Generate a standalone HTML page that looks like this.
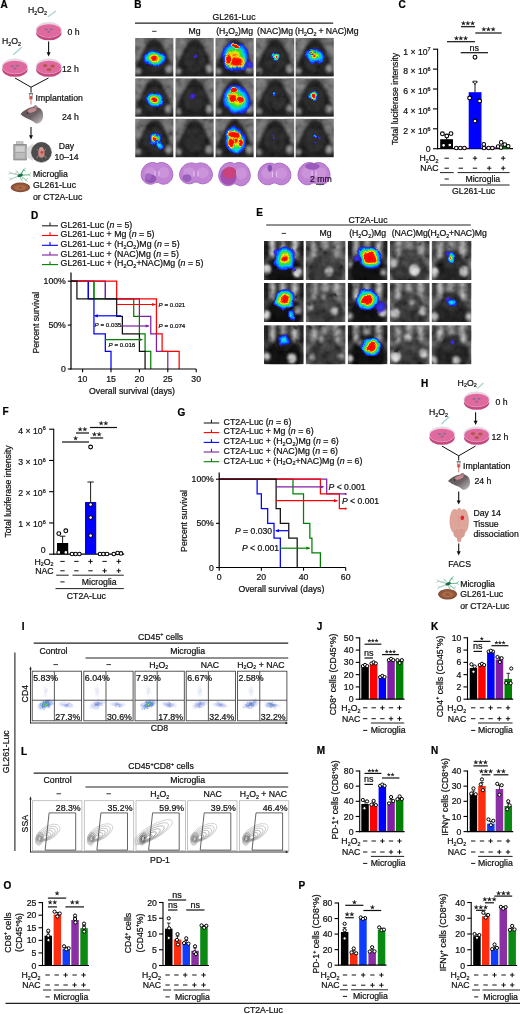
<!DOCTYPE html>
<html lang="en">
<head>
<meta charset="utf-8">
<title>Figure</title>
<style>
html,body{margin:0;padding:0;background:#fff;}
body{width:520px;height:1014px;overflow:hidden;}
svg{display:block;}
svg{font-family:"Liberation Sans",Arial,Helvetica,sans-serif;font-size:8.7px;}
svg text{fill:#111111;stroke:#111111;stroke-width:0.22px;}
</style>
</head>
<body>
<svg width="520" height="1014" viewBox="0 0 520 1014">
<defs>
<linearGradient id="mg1" x1="0" y1="0" x2="1" y2="1"><stop offset="0" stop-color="#5a5054"/><stop offset="0.55" stop-color="#6c6266"/><stop offset="0.85" stop-color="#8a8286" stop-opacity="0.75"/><stop offset="1" stop-color="#b0aaac" stop-opacity="0"/></linearGradient>
<clipPath id="c1"><rect x="135.20" y="38.00" width="38.20" height="38.40"/></clipPath>
<radialGradient id="hb00_0"><stop offset="0.00" stop-color="#ff0000" stop-opacity="1"/><stop offset="0.23" stop-color="#ff1000" stop-opacity="1"/><stop offset="0.37" stop-color="#ffe600" stop-opacity="1"/><stop offset="0.51" stop-color="#30e030" stop-opacity="1"/><stop offset="0.66" stop-color="#00d0ff" stop-opacity="1"/><stop offset="0.88" stop-color="#1428ff" stop-opacity="1"/><stop offset="1.00" stop-color="#3a1a8c" stop-opacity="0"/></radialGradient>
<clipPath id="c2"><rect x="175.50" y="38.00" width="38.20" height="38.40"/></clipPath>
<radialGradient id="hb01_0"><stop offset="0.00" stop-color="#2a3cff" stop-opacity="1"/><stop offset="0.55" stop-color="#3a22d0" stop-opacity="0.9"/><stop offset="1.00" stop-color="#3a1a8c" stop-opacity="0"/></radialGradient>
<clipPath id="c3"><rect x="215.50" y="38.00" width="38.20" height="38.40"/></clipPath>
<radialGradient id="hb02_0"><stop offset="0.00" stop-color="#ff0000" stop-opacity="1"/><stop offset="0.10" stop-color="#ff1000" stop-opacity="1"/><stop offset="0.27" stop-color="#ffe600" stop-opacity="1"/><stop offset="0.44" stop-color="#30e030" stop-opacity="1"/><stop offset="0.62" stop-color="#00d0ff" stop-opacity="1"/><stop offset="0.88" stop-color="#1428ff" stop-opacity="1"/><stop offset="1.00" stop-color="#3a1a8c" stop-opacity="0"/></radialGradient>
<radialGradient id="hb02_1"><stop offset="0.00" stop-color="#ff0000" stop-opacity="1"/><stop offset="0.55" stop-color="#ff1000" stop-opacity="1"/><stop offset="0.78" stop-color="#ffe600" stop-opacity="1"/><stop offset="1.00" stop-color="#60e020" stop-opacity="0"/></radialGradient>
<radialGradient id="hb02_2"><stop offset="0.00" stop-color="#ff0000" stop-opacity="1"/><stop offset="0.55" stop-color="#ff1000" stop-opacity="1"/><stop offset="0.78" stop-color="#ffe600" stop-opacity="1"/><stop offset="1.00" stop-color="#60e020" stop-opacity="0"/></radialGradient>
<radialGradient id="hb02_3"><stop offset="0.00" stop-color="#ff0000" stop-opacity="1"/><stop offset="0.55" stop-color="#ff1000" stop-opacity="1"/><stop offset="0.78" stop-color="#ffe600" stop-opacity="1"/><stop offset="1.00" stop-color="#60e020" stop-opacity="0"/></radialGradient>
<radialGradient id="hb02_4"><stop offset="0.00" stop-color="#2a3cff" stop-opacity="1"/><stop offset="0.55" stop-color="#3a22d0" stop-opacity="0.9"/><stop offset="1.00" stop-color="#3a1a8c" stop-opacity="0"/></radialGradient>
<clipPath id="c4"><rect x="256.00" y="38.00" width="38.20" height="38.40"/></clipPath>
<radialGradient id="hb03_0"><stop offset="0.00" stop-color="#ff0000" stop-opacity="1"/><stop offset="0.25" stop-color="#ff1000" stop-opacity="1"/><stop offset="0.38" stop-color="#ffe600" stop-opacity="1"/><stop offset="0.52" stop-color="#30e030" stop-opacity="1"/><stop offset="0.66" stop-color="#00d0ff" stop-opacity="1"/><stop offset="0.88" stop-color="#1428ff" stop-opacity="1"/><stop offset="1.00" stop-color="#3a1a8c" stop-opacity="0"/></radialGradient>
<clipPath id="c5"><rect x="295.60" y="38.00" width="38.20" height="38.40"/></clipPath>
<radialGradient id="hb04_0"><stop offset="0.00" stop-color="#ff0000" stop-opacity="1"/><stop offset="0.06" stop-color="#ff1000" stop-opacity="1"/><stop offset="0.24" stop-color="#ffe600" stop-opacity="1"/><stop offset="0.42" stop-color="#30e030" stop-opacity="1"/><stop offset="0.60" stop-color="#00d0ff" stop-opacity="1"/><stop offset="0.88" stop-color="#1428ff" stop-opacity="1"/><stop offset="1.00" stop-color="#3a1a8c" stop-opacity="0"/></radialGradient>
<radialGradient id="hb04_1"><stop offset="0.00" stop-color="#ff0000" stop-opacity="1"/><stop offset="0.25" stop-color="#ff1000" stop-opacity="1"/><stop offset="0.38" stop-color="#ffe600" stop-opacity="1"/><stop offset="0.52" stop-color="#30e030" stop-opacity="1"/><stop offset="0.66" stop-color="#00d0ff" stop-opacity="1"/><stop offset="0.88" stop-color="#1428ff" stop-opacity="1"/><stop offset="1.00" stop-color="#3a1a8c" stop-opacity="0"/></radialGradient>
<clipPath id="c6"><rect x="135.20" y="78.30" width="38.20" height="38.40"/></clipPath>
<radialGradient id="hb10_0"><stop offset="0.00" stop-color="#ff0000" stop-opacity="1"/><stop offset="0.25" stop-color="#ff1000" stop-opacity="1"/><stop offset="0.38" stop-color="#ffe600" stop-opacity="1"/><stop offset="0.52" stop-color="#30e030" stop-opacity="1"/><stop offset="0.66" stop-color="#00d0ff" stop-opacity="1"/><stop offset="0.88" stop-color="#1428ff" stop-opacity="1"/><stop offset="1.00" stop-color="#3a1a8c" stop-opacity="0"/></radialGradient>
<clipPath id="c7"><rect x="175.50" y="78.30" width="38.20" height="38.40"/></clipPath>
<radialGradient id="hb11_0"><stop offset="0.00" stop-color="#2a3cff" stop-opacity="1"/><stop offset="0.55" stop-color="#3a22d0" stop-opacity="0.9"/><stop offset="1.00" stop-color="#3a1a8c" stop-opacity="0"/></radialGradient>
<clipPath id="c8"><rect x="215.50" y="78.30" width="38.20" height="38.40"/></clipPath>
<radialGradient id="hb12_0"><stop offset="0.00" stop-color="#ff0000" stop-opacity="1"/><stop offset="0.10" stop-color="#ff1000" stop-opacity="1"/><stop offset="0.27" stop-color="#ffe600" stop-opacity="1"/><stop offset="0.44" stop-color="#30e030" stop-opacity="1"/><stop offset="0.62" stop-color="#00d0ff" stop-opacity="1"/><stop offset="0.88" stop-color="#1428ff" stop-opacity="1"/><stop offset="1.00" stop-color="#3a1a8c" stop-opacity="0"/></radialGradient>
<radialGradient id="hb12_1"><stop offset="0.00" stop-color="#ff0000" stop-opacity="1"/><stop offset="0.55" stop-color="#ff1000" stop-opacity="1"/><stop offset="0.78" stop-color="#ffe600" stop-opacity="1"/><stop offset="1.00" stop-color="#60e020" stop-opacity="0"/></radialGradient>
<radialGradient id="hb12_2"><stop offset="0.00" stop-color="#ff0000" stop-opacity="1"/><stop offset="0.55" stop-color="#ff1000" stop-opacity="1"/><stop offset="0.78" stop-color="#ffe600" stop-opacity="1"/><stop offset="1.00" stop-color="#60e020" stop-opacity="0"/></radialGradient>
<radialGradient id="hb12_3"><stop offset="0.00" stop-color="#ff0000" stop-opacity="1"/><stop offset="0.55" stop-color="#ff1000" stop-opacity="1"/><stop offset="0.78" stop-color="#ffe600" stop-opacity="1"/><stop offset="1.00" stop-color="#60e020" stop-opacity="0"/></radialGradient>
<clipPath id="c9"><rect x="256.00" y="78.30" width="38.20" height="38.40"/></clipPath>
<radialGradient id="hb13_0"><stop offset="0.00" stop-color="#40e8a0" stop-opacity="1"/><stop offset="0.30" stop-color="#00c0ff" stop-opacity="1"/><stop offset="0.70" stop-color="#1428ff" stop-opacity="1"/><stop offset="1.00" stop-color="#3a1a8c" stop-opacity="0"/></radialGradient>
<clipPath id="c10"><rect x="295.60" y="78.30" width="38.20" height="38.40"/></clipPath>
<radialGradient id="hb14_0"><stop offset="0.00" stop-color="#ff0000" stop-opacity="1"/><stop offset="0.30" stop-color="#ff1000" stop-opacity="1"/><stop offset="0.43" stop-color="#ffe600" stop-opacity="1"/><stop offset="0.55" stop-color="#30e030" stop-opacity="1"/><stop offset="0.68" stop-color="#00d0ff" stop-opacity="1"/><stop offset="0.88" stop-color="#1428ff" stop-opacity="1"/><stop offset="1.00" stop-color="#3a1a8c" stop-opacity="0"/></radialGradient>
<clipPath id="c11"><rect x="135.20" y="118.80" width="38.20" height="38.40"/></clipPath>
<radialGradient id="hb20_0"><stop offset="0.00" stop-color="#ff0000" stop-opacity="1"/><stop offset="0.30" stop-color="#ff1000" stop-opacity="1"/><stop offset="0.43" stop-color="#ffe600" stop-opacity="1"/><stop offset="0.55" stop-color="#30e030" stop-opacity="1"/><stop offset="0.68" stop-color="#00d0ff" stop-opacity="1"/><stop offset="0.88" stop-color="#1428ff" stop-opacity="1"/><stop offset="1.00" stop-color="#3a1a8c" stop-opacity="0"/></radialGradient>
<radialGradient id="hb20_1"><stop offset="0.00" stop-color="#40e8a0" stop-opacity="1"/><stop offset="0.30" stop-color="#00c0ff" stop-opacity="1"/><stop offset="0.70" stop-color="#1428ff" stop-opacity="1"/><stop offset="1.00" stop-color="#3a1a8c" stop-opacity="0"/></radialGradient>
<clipPath id="c12"><rect x="175.50" y="118.80" width="38.20" height="38.40"/></clipPath>
<clipPath id="c13"><rect x="215.50" y="118.80" width="38.20" height="38.40"/></clipPath>
<radialGradient id="hb22_0"><stop offset="0.00" stop-color="#ff0000" stop-opacity="1"/><stop offset="0.10" stop-color="#ff1000" stop-opacity="1"/><stop offset="0.27" stop-color="#ffe600" stop-opacity="1"/><stop offset="0.44" stop-color="#30e030" stop-opacity="1"/><stop offset="0.62" stop-color="#00d0ff" stop-opacity="1"/><stop offset="0.88" stop-color="#1428ff" stop-opacity="1"/><stop offset="1.00" stop-color="#3a1a8c" stop-opacity="0"/></radialGradient>
<radialGradient id="hb22_1"><stop offset="0.00" stop-color="#ff0000" stop-opacity="1"/><stop offset="0.55" stop-color="#ff1000" stop-opacity="1"/><stop offset="0.78" stop-color="#ffe600" stop-opacity="1"/><stop offset="1.00" stop-color="#60e020" stop-opacity="0"/></radialGradient>
<radialGradient id="hb22_2"><stop offset="0.00" stop-color="#ff0000" stop-opacity="1"/><stop offset="0.55" stop-color="#ff1000" stop-opacity="1"/><stop offset="0.78" stop-color="#ffe600" stop-opacity="1"/><stop offset="1.00" stop-color="#60e020" stop-opacity="0"/></radialGradient>
<radialGradient id="hb22_3"><stop offset="0.00" stop-color="#ff0000" stop-opacity="1"/><stop offset="0.55" stop-color="#ff1000" stop-opacity="1"/><stop offset="0.78" stop-color="#ffe600" stop-opacity="1"/><stop offset="1.00" stop-color="#60e020" stop-opacity="0"/></radialGradient>
<clipPath id="c14"><rect x="256.00" y="118.80" width="38.20" height="38.40"/></clipPath>
<radialGradient id="hb23_0"><stop offset="0.00" stop-color="#2a3cff" stop-opacity="1"/><stop offset="0.55" stop-color="#3a22d0" stop-opacity="0.9"/><stop offset="1.00" stop-color="#3a1a8c" stop-opacity="0"/></radialGradient>
<clipPath id="c15"><rect x="295.60" y="118.80" width="38.20" height="38.40"/></clipPath>
<radialGradient id="hb24_0"><stop offset="0.00" stop-color="#40e8a0" stop-opacity="1"/><stop offset="0.30" stop-color="#00c0ff" stop-opacity="1"/><stop offset="0.70" stop-color="#1428ff" stop-opacity="1"/><stop offset="1.00" stop-color="#3a1a8c" stop-opacity="0"/></radialGradient>
<radialGradient id="hb24_1"><stop offset="0.00" stop-color="#2a3cff" stop-opacity="1"/><stop offset="0.55" stop-color="#3a22d0" stop-opacity="0.9"/><stop offset="1.00" stop-color="#3a1a8c" stop-opacity="0"/></radialGradient>
<radialGradient id="hb24_2"><stop offset="0.00" stop-color="#2a3cff" stop-opacity="1"/><stop offset="0.55" stop-color="#3a22d0" stop-opacity="0.9"/><stop offset="1.00" stop-color="#3a1a8c" stop-opacity="0"/></radialGradient>
<clipPath id="c16"><rect x="264.00" y="241.00" width="39.70" height="39.00"/></clipPath>
<radialGradient id="he00_0"><stop offset="0.00" stop-color="#ff0000" stop-opacity="1"/><stop offset="0.21" stop-color="#ff1000" stop-opacity="1"/><stop offset="0.35" stop-color="#ffe600" stop-opacity="1"/><stop offset="0.50" stop-color="#30e030" stop-opacity="1"/><stop offset="0.65" stop-color="#00d0ff" stop-opacity="1"/><stop offset="0.88" stop-color="#1428ff" stop-opacity="1"/><stop offset="1.00" stop-color="#3a1a8c" stop-opacity="0"/></radialGradient>
<radialGradient id="he00_1"><stop offset="0.00" stop-color="#2a3cff" stop-opacity="1"/><stop offset="0.55" stop-color="#3a22d0" stop-opacity="0.9"/><stop offset="1.00" stop-color="#3a1a8c" stop-opacity="0"/></radialGradient>
<clipPath id="c17"><rect x="305.80" y="241.00" width="39.70" height="39.00"/></clipPath>
<clipPath id="c18"><rect x="347.80" y="241.00" width="39.70" height="39.00"/></clipPath>
<radialGradient id="he02_0"><stop offset="0.00" stop-color="#ff0000" stop-opacity="1"/><stop offset="0.41" stop-color="#ff1000" stop-opacity="1"/><stop offset="0.51" stop-color="#ffe600" stop-opacity="1"/><stop offset="0.61" stop-color="#30e030" stop-opacity="1"/><stop offset="0.72" stop-color="#00d0ff" stop-opacity="1"/><stop offset="0.88" stop-color="#1428ff" stop-opacity="1"/><stop offset="1.00" stop-color="#3a1a8c" stop-opacity="0"/></radialGradient>
<radialGradient id="he02_1"><stop offset="0.00" stop-color="#2a3cff" stop-opacity="1"/><stop offset="0.55" stop-color="#3a22d0" stop-opacity="0.9"/><stop offset="1.00" stop-color="#3a1a8c" stop-opacity="0"/></radialGradient>
<clipPath id="c19"><rect x="389.90" y="241.00" width="39.70" height="39.00"/></clipPath>
<clipPath id="c20"><rect x="431.70" y="241.00" width="39.70" height="39.00"/></clipPath>
<radialGradient id="he04_0"><stop offset="0.00" stop-color="#ff0000" stop-opacity="1"/><stop offset="0.04" stop-color="#ff1000" stop-opacity="1"/><stop offset="0.22" stop-color="#ffe600" stop-opacity="1"/><stop offset="0.41" stop-color="#30e030" stop-opacity="1"/><stop offset="0.60" stop-color="#00d0ff" stop-opacity="1"/><stop offset="0.88" stop-color="#1428ff" stop-opacity="1"/><stop offset="1.00" stop-color="#3a1a8c" stop-opacity="0"/></radialGradient>
<radialGradient id="he04_1"><stop offset="0.00" stop-color="#2a3cff" stop-opacity="1"/><stop offset="0.55" stop-color="#3a22d0" stop-opacity="0.9"/><stop offset="1.00" stop-color="#3a1a8c" stop-opacity="0"/></radialGradient>
<clipPath id="c21"><rect x="264.00" y="283.00" width="39.70" height="39.00"/></clipPath>
<radialGradient id="he10_0"><stop offset="0.00" stop-color="#ff0000" stop-opacity="1"/><stop offset="0.29" stop-color="#ff1000" stop-opacity="1"/><stop offset="0.42" stop-color="#ffe600" stop-opacity="1"/><stop offset="0.55" stop-color="#30e030" stop-opacity="1"/><stop offset="0.68" stop-color="#00d0ff" stop-opacity="1"/><stop offset="0.88" stop-color="#1428ff" stop-opacity="1"/><stop offset="1.00" stop-color="#3a1a8c" stop-opacity="0"/></radialGradient>
<radialGradient id="he10_1"><stop offset="0.00" stop-color="#40e8a0" stop-opacity="1"/><stop offset="0.30" stop-color="#00c0ff" stop-opacity="1"/><stop offset="0.70" stop-color="#1428ff" stop-opacity="1"/><stop offset="1.00" stop-color="#3a1a8c" stop-opacity="0"/></radialGradient>
<clipPath id="c22"><rect x="305.80" y="283.00" width="39.70" height="39.00"/></clipPath>
<clipPath id="c23"><rect x="347.80" y="283.00" width="39.70" height="39.00"/></clipPath>
<radialGradient id="he12_0"><stop offset="0.00" stop-color="#ff0000" stop-opacity="1"/><stop offset="0.41" stop-color="#ff1000" stop-opacity="1"/><stop offset="0.51" stop-color="#ffe600" stop-opacity="1"/><stop offset="0.61" stop-color="#30e030" stop-opacity="1"/><stop offset="0.72" stop-color="#00d0ff" stop-opacity="1"/><stop offset="0.88" stop-color="#1428ff" stop-opacity="1"/><stop offset="1.00" stop-color="#3a1a8c" stop-opacity="0"/></radialGradient>
<radialGradient id="he12_1"><stop offset="0.00" stop-color="#2a3cff" stop-opacity="1"/><stop offset="0.55" stop-color="#3a22d0" stop-opacity="0.9"/><stop offset="1.00" stop-color="#3a1a8c" stop-opacity="0"/></radialGradient>
<clipPath id="c24"><rect x="389.90" y="283.00" width="39.70" height="39.00"/></clipPath>
<clipPath id="c25"><rect x="431.70" y="283.00" width="39.70" height="39.00"/></clipPath>
<radialGradient id="he14_0"><stop offset="0.00" stop-color="#40e8a0" stop-opacity="1"/><stop offset="0.30" stop-color="#00c0ff" stop-opacity="1"/><stop offset="0.70" stop-color="#1428ff" stop-opacity="1"/><stop offset="1.00" stop-color="#3a1a8c" stop-opacity="0"/></radialGradient>
<radialGradient id="he14_1"><stop offset="0.00" stop-color="#2a3cff" stop-opacity="1"/><stop offset="0.55" stop-color="#3a22d0" stop-opacity="0.9"/><stop offset="1.00" stop-color="#3a1a8c" stop-opacity="0"/></radialGradient>
<clipPath id="c26"><rect x="264.00" y="325.20" width="39.70" height="39.00"/></clipPath>
<radialGradient id="he20_0"><stop offset="0.00" stop-color="#40e8a0" stop-opacity="1"/><stop offset="0.30" stop-color="#00c0ff" stop-opacity="1"/><stop offset="0.70" stop-color="#1428ff" stop-opacity="1"/><stop offset="1.00" stop-color="#3a1a8c" stop-opacity="0"/></radialGradient>
<clipPath id="c27"><rect x="305.80" y="325.20" width="39.70" height="39.00"/></clipPath>
<clipPath id="c28"><rect x="347.80" y="325.20" width="39.70" height="39.00"/></clipPath>
<radialGradient id="he22_0"><stop offset="0.00" stop-color="#ff0000" stop-opacity="1"/><stop offset="0.41" stop-color="#ff1000" stop-opacity="1"/><stop offset="0.51" stop-color="#ffe600" stop-opacity="1"/><stop offset="0.61" stop-color="#30e030" stop-opacity="1"/><stop offset="0.72" stop-color="#00d0ff" stop-opacity="1"/><stop offset="0.88" stop-color="#1428ff" stop-opacity="1"/><stop offset="1.00" stop-color="#3a1a8c" stop-opacity="0"/></radialGradient>
<clipPath id="c29"><rect x="389.90" y="325.20" width="39.70" height="39.00"/></clipPath>
<clipPath id="c30"><rect x="431.70" y="325.20" width="39.70" height="39.00"/></clipPath>
<radialGradient id="he24_0"><stop offset="0.00" stop-color="#2a3cff" stop-opacity="1"/><stop offset="0.55" stop-color="#3a22d0" stop-opacity="0.9"/><stop offset="1.00" stop-color="#3a1a8c" stop-opacity="0"/></radialGradient>
<linearGradient id="mg2" x1="0" y1="0" x2="1" y2="1"><stop offset="0" stop-color="#5a5054"/><stop offset="0.55" stop-color="#6c6266"/><stop offset="0.85" stop-color="#8a8286" stop-opacity="0.75"/><stop offset="1" stop-color="#b0aaac" stop-opacity="0"/></linearGradient>
<radialGradient id="cli0a"><stop offset="0.00" stop-color="#d8e830" stop-opacity="1.00"/><stop offset="0.18" stop-color="#58c850" stop-opacity="1.00"/><stop offset="0.38" stop-color="#4f7fd8" stop-opacity="0.90"/><stop offset="0.70" stop-color="#8090e0" stop-opacity="0.45"/><stop offset="1.00" stop-color="#a8b4ee" stop-opacity="0.00"/></radialGradient>
<radialGradient id="cli0b"><stop offset="0.00" stop-color="#4a63c8" stop-opacity="0.72"/><stop offset="0.45" stop-color="#8090e0" stop-opacity="0.41"/><stop offset="1.00" stop-color="#b0baf0" stop-opacity="0.00"/></radialGradient>
<radialGradient id="cli0c"><stop offset="0.00" stop-color="#4a63c8" stop-opacity="0.20"/><stop offset="0.45" stop-color="#8090e0" stop-opacity="0.11"/><stop offset="1.00" stop-color="#b0baf0" stop-opacity="0.00"/></radialGradient>
<radialGradient id="cli1a"><stop offset="0.00" stop-color="#4a63c8" stop-opacity="0.80"/><stop offset="0.45" stop-color="#8090e0" stop-opacity="0.45"/><stop offset="1.00" stop-color="#b0baf0" stop-opacity="0.00"/></radialGradient>
<radialGradient id="cli1b"><stop offset="0.00" stop-color="#4a63c8" stop-opacity="0.72"/><stop offset="0.45" stop-color="#8090e0" stop-opacity="0.41"/><stop offset="1.00" stop-color="#b0baf0" stop-opacity="0.00"/></radialGradient>
<radialGradient id="cli1c"><stop offset="0.00" stop-color="#4a63c8" stop-opacity="0.20"/><stop offset="0.45" stop-color="#8090e0" stop-opacity="0.11"/><stop offset="1.00" stop-color="#b0baf0" stop-opacity="0.00"/></radialGradient>
<radialGradient id="cli2a"><stop offset="0.00" stop-color="#d8e830" stop-opacity="1.00"/><stop offset="0.18" stop-color="#58c850" stop-opacity="1.00"/><stop offset="0.38" stop-color="#4f7fd8" stop-opacity="0.90"/><stop offset="0.70" stop-color="#8090e0" stop-opacity="0.45"/><stop offset="1.00" stop-color="#a8b4ee" stop-opacity="0.00"/></radialGradient>
<radialGradient id="cli2b"><stop offset="0.00" stop-color="#4a63c8" stop-opacity="0.72"/><stop offset="0.45" stop-color="#8090e0" stop-opacity="0.41"/><stop offset="1.00" stop-color="#b0baf0" stop-opacity="0.00"/></radialGradient>
<radialGradient id="cli2c"><stop offset="0.00" stop-color="#4a63c8" stop-opacity="0.20"/><stop offset="0.45" stop-color="#8090e0" stop-opacity="0.11"/><stop offset="1.00" stop-color="#b0baf0" stop-opacity="0.00"/></radialGradient>
<radialGradient id="cli3a"><stop offset="0.00" stop-color="#4a63c8" stop-opacity="0.80"/><stop offset="0.45" stop-color="#8090e0" stop-opacity="0.45"/><stop offset="1.00" stop-color="#b0baf0" stop-opacity="0.00"/></radialGradient>
<radialGradient id="cli3b"><stop offset="0.00" stop-color="#4a63c8" stop-opacity="0.72"/><stop offset="0.45" stop-color="#8090e0" stop-opacity="0.41"/><stop offset="1.00" stop-color="#b0baf0" stop-opacity="0.00"/></radialGradient>
<radialGradient id="cli3c"><stop offset="0.00" stop-color="#4a63c8" stop-opacity="0.20"/><stop offset="0.45" stop-color="#8090e0" stop-opacity="0.11"/><stop offset="1.00" stop-color="#b0baf0" stop-opacity="0.00"/></radialGradient>
<radialGradient id="cli4a"><stop offset="0.00" stop-color="#58b078" stop-opacity="0.95"/><stop offset="0.22" stop-color="#4a6fd0" stop-opacity="0.85"/><stop offset="0.60" stop-color="#8090e0" stop-opacity="0.45"/><stop offset="1.00" stop-color="#a8b4ee" stop-opacity="0.00"/></radialGradient>
<radialGradient id="cli4b"><stop offset="0.00" stop-color="#58b078" stop-opacity="0.85"/><stop offset="0.22" stop-color="#4a6fd0" stop-opacity="0.77"/><stop offset="0.60" stop-color="#8090e0" stop-opacity="0.41"/><stop offset="1.00" stop-color="#a8b4ee" stop-opacity="0.00"/></radialGradient>
<radialGradient id="cli4c"><stop offset="0.00" stop-color="#4a63c8" stop-opacity="0.20"/><stop offset="0.45" stop-color="#8090e0" stop-opacity="0.11"/><stop offset="1.00" stop-color="#b0baf0" stop-opacity="0.00"/></radialGradient>
<filter id="hz" x="-30%" y="-30%" width="160%" height="160%"><feTurbulence type="fractalNoise" baseFrequency="0.11" numOctaves="2" seed="4" result="n"/><feDisplacementMap in="SourceGraphic" in2="n" scale="5.5" xChannelSelector="R" yChannelSelector="G"/><feGaussianBlur stdDeviation="0.45"/></filter>
<filter id="cz" x="-10%" y="-10%" width="120%" height="120%"><feTurbulence type="fractalNoise" baseFrequency="0.35" numOctaves="2" seed="9" result="n"/><feDisplacementMap in="SourceGraphic" in2="n" scale="4" xChannelSelector="R" yChannelSelector="G"/></filter>
<filter id="grain" x="0" y="0" width="100%" height="100%"><feTurbulence type="fractalNoise" baseFrequency="0.13" numOctaves="2" seed="11"/><feColorMatrix type="matrix" values="1.5 0 0 0 -0.25  1.5 0 0 0 -0.25  1.5 0 0 0 -0.25  0 0 0 0 1"/></filter>
<filter id="bl1" x="-20%" y="-20%" width="140%" height="140%"><feGaussianBlur stdDeviation="0.7"/></filter>
<filter id="bl2" x="-20%" y="-20%" width="140%" height="140%"><feGaussianBlur stdDeviation="1.6"/></filter>
</defs>
<rect width="520" height="1014" fill="#ffffff"/>
<text x="0.50" y="8.00" font-weight="bold" font-size="10.00" style="fill:#000;stroke:#000">A</text>
<text x="28.00" y="13.41">H<tspan dy="1.91" font-size="5.39">2</tspan><tspan dy="-1.91">O</tspan><tspan dy="1.91" font-size="5.39">2</tspan></text>
<line x1="48.30" y1="16.60" x2="55.50" y2="11.20" stroke="#a8d3d3" stroke-width="1.30" stroke-linecap="round"/>
<ellipse cx="48.80" cy="32.90" rx="12.70" ry="7.40" fill="#c7467f"/>
<ellipse cx="48.80" cy="29.80" rx="12.90" ry="7.50" fill="#f3d3e2" stroke="#cfe6ea" stroke-width="0.60"/>
<ellipse cx="48.80" cy="30.70" rx="12.20" ry="6.50" fill="#e0699d"/>
<ellipse cx="46.20" cy="29.50" rx="1.60" ry="1.00" fill="#8d6f95"/>
<ellipse cx="51.20" cy="29.30" rx="1.60" ry="1.00" fill="#8d6f95"/>
<ellipse cx="48.80" cy="31.90" rx="1.60" ry="1.00" fill="#8d6f95"/>
<text x="67.50" y="35.41">0 h</text>
<line x1="48.60" y1="41.50" x2="48.60" y2="53.50" stroke="#111" stroke-width="1.10"/>
<path d="M46.60 52.30 L50.60 52.30 L48.60 56.50 Z" fill="#111"/>
<text x="2.00" y="44.41">H<tspan dy="1.91" font-size="5.39">2</tspan><tspan dy="-1.91">O</tspan><tspan dy="1.91" font-size="5.39">2</tspan></text>
<line x1="13.60" y1="54.60" x2="21.50" y2="47.60" stroke="#a8d3d3" stroke-width="1.30" stroke-linecap="round"/>
<ellipse cx="14.90" cy="69.40" rx="12.70" ry="7.40" fill="#c7467f"/>
<ellipse cx="14.90" cy="66.30" rx="12.90" ry="7.50" fill="#f3d3e2" stroke="#cfe6ea" stroke-width="0.60"/>
<ellipse cx="14.90" cy="67.20" rx="12.20" ry="6.50" fill="#e0699d"/>
<ellipse cx="12.30" cy="66.00" rx="1.60" ry="1.00" fill="#8d6f95"/>
<ellipse cx="17.30" cy="65.80" rx="1.60" ry="1.00" fill="#8d6f95"/>
<ellipse cx="14.90" cy="68.40" rx="1.60" ry="1.00" fill="#8d6f95"/>
<ellipse cx="48.80" cy="69.40" rx="12.70" ry="7.40" fill="#c7467f"/>
<ellipse cx="48.80" cy="66.30" rx="12.90" ry="7.50" fill="#f3d3e2" stroke="#cfe6ea" stroke-width="0.60"/>
<ellipse cx="48.80" cy="67.20" rx="12.20" ry="6.50" fill="#e0699d"/>
<ellipse cx="45.20" cy="65.60" rx="2.30" ry="1.60" fill="#b4584f"/>
<ellipse cx="52.60" cy="66.00" rx="2.30" ry="1.60" fill="#b4584f"/>
<ellipse cx="49.00" cy="69.60" rx="2.30" ry="1.60" fill="#b4584f"/>
<text x="62.00" y="71.71">12 h</text>
<path d="M15 78 L31 87.2 L48.5 78 M31 87.2 L31 92" fill="none" stroke="#111" stroke-width="1.00"/>
<line x1="31.00" y1="91.50" x2="31.00" y2="94.00" stroke="#555" stroke-width="0.80"/>
<rect x="29.70" y="93.70" width="2.60" height="5.20" fill="#f1e6e6" stroke="#666" stroke-width="0.50"/>
<rect x="30.00" y="96.10" width="2.00" height="2.80" fill="#d9483f"/>
<line x1="28.80" y1="93.70" x2="33.20" y2="93.70" stroke="#555" stroke-width="0.70"/>
<line x1="31.00" y1="98.90" x2="31.00" y2="104.50" stroke="#b5443a" stroke-width="0.70"/>
<text x="35.50" y="100.81">Implantation</text>
<path d="M20.60 114.13 C23.36 110.78 28.65 107.43 33.25 107.06 C34.40 104.83 37.16 105.20 37.62 107.43 C41.30 107.99 43.60 111.71 43.14 116.73 C42.45 121.94 39.00 124.17 35.78 123.43 C32.10 119.71 24.74 118.22 20.60 114.13 Z" fill="url(#mg1)"/>
<ellipse cx="32.10" cy="110.22" rx="4.60" ry="2.05" fill="#c58a90" transform="rotate(-18 32.10 110.22)"/>
<ellipse cx="35.78" cy="107.06" rx="1.61" ry="1.67" fill="#a88084"/>
<circle cx="27.50" cy="113.01" r="0.70" fill="#2a2226" stroke="#2a2226" stroke-width="0.10"/>
<text x="62.00" y="119.51">24 h</text>
<line x1="31.00" y1="127.00" x2="31.00" y2="136.50" stroke="#111" stroke-width="1.10"/>
<path d="M29.00 135.30 L33.00 135.30 L31.00 139.50 Z" fill="#111"/>
<rect x="16.60" y="141.80" width="6.40" height="3.00" fill="#c9c9c9" stroke="#8c8c8c" stroke-width="0.50"/>
<rect x="13.80" y="144.40" width="12.60" height="15.60" fill="#a6a6a6" stroke="#777" stroke-width="0.60"/>
<rect x="15.40" y="146.20" width="9.40" height="5.60" fill="#cfcfcf"/>
<rect x="15.40" y="153.00" width="9.40" height="5.40" fill="#bcbcbc"/>
<path d="M26.6 148 L33 143.6 L33 161 L26.6 157 Z" fill="#dcdcdc"/>
<circle cx="41.40" cy="152.30" r="10.00" fill="#4d4d4d" stroke="#3c3c3c" stroke-width="0.50"/>
<ellipse cx="41.40" cy="153.00" rx="3.20" ry="4.80" fill="#c98a86"/>
<ellipse cx="41.40" cy="148.80" rx="2.20" ry="1.90" fill="#d39a96"/>
<path d="M38.4 155.5 L36.6 158.2 M44.4 155.5 L46.2 158.2 M38.6 150.8 L36.8 149 M44.2 150.8 L46 149" fill="none" stroke="#c98a86" stroke-width="0.80"/>
<ellipse cx="41.90" cy="152.40" rx="1.30" ry="1.30" fill="#d63a32"/>
<text x="66.50" y="149.41" text-anchor="middle">Day</text>
<text x="66.50" y="159.71" text-anchor="middle">10–14</text>
<line x1="20.20" y1="175.40" x2="10.40" y2="172.80" stroke="#b4cdc0" stroke-width="1.30" stroke-linecap="round"/>
<line x1="10.40" y1="172.80" x2="8.80" y2="171.20" stroke="#b4cdc0" stroke-width="0.91" stroke-linecap="round"/>
<line x1="10.40" y1="172.80" x2="8.60" y2="174.10" stroke="#b4cdc0" stroke-width="0.91" stroke-linecap="round"/>
<line x1="20.20" y1="175.40" x2="11.20" y2="179.00" stroke="#b9d0c5" stroke-width="1.30" stroke-linecap="round"/>
<line x1="11.20" y1="179.00" x2="9.60" y2="177.40" stroke="#b9d0c5" stroke-width="0.91" stroke-linecap="round"/>
<line x1="11.20" y1="179.00" x2="9.40" y2="180.30" stroke="#b9d0c5" stroke-width="0.91" stroke-linecap="round"/>
<line x1="20.20" y1="175.40" x2="23.60" y2="169.80" stroke="#58b285" stroke-width="1.10" stroke-linecap="round"/>
<line x1="23.60" y1="169.80" x2="25.40" y2="168.20" stroke="#58b285" stroke-width="0.77" stroke-linecap="round"/>
<line x1="23.60" y1="169.80" x2="25.20" y2="171.10" stroke="#58b285" stroke-width="0.77" stroke-linecap="round"/>
<line x1="20.20" y1="175.40" x2="28.80" y2="174.80" stroke="#6cbb93" stroke-width="1.10" stroke-linecap="round"/>
<line x1="28.80" y1="174.80" x2="30.60" y2="173.20" stroke="#6cbb93" stroke-width="0.77" stroke-linecap="round"/>
<line x1="28.80" y1="174.80" x2="30.40" y2="176.10" stroke="#6cbb93" stroke-width="0.77" stroke-linecap="round"/>
<line x1="20.20" y1="175.40" x2="25.80" y2="180.00" stroke="#7fc4a2" stroke-width="1.00" stroke-linecap="round"/>
<line x1="25.80" y1="180.00" x2="27.60" y2="178.40" stroke="#7fc4a2" stroke-width="0.70" stroke-linecap="round"/>
<line x1="25.80" y1="180.00" x2="27.40" y2="181.30" stroke="#7fc4a2" stroke-width="0.70" stroke-linecap="round"/>
<line x1="20.20" y1="175.40" x2="17.20" y2="171.80" stroke="#9cc7b0" stroke-width="0.90" stroke-linecap="round"/>
<line x1="17.20" y1="171.80" x2="15.60" y2="170.20" stroke="#9cc7b0" stroke-width="0.63" stroke-linecap="round"/>
<line x1="17.20" y1="171.80" x2="15.40" y2="173.10" stroke="#9cc7b0" stroke-width="0.63" stroke-linecap="round"/>
<line x1="20.20" y1="175.40" x2="21.20" y2="179.80" stroke="#8cc6a6" stroke-width="0.90" stroke-linecap="round"/>
<line x1="21.20" y1="179.80" x2="23.00" y2="178.20" stroke="#8cc6a6" stroke-width="0.63" stroke-linecap="round"/>
<line x1="21.20" y1="179.80" x2="22.80" y2="181.10" stroke="#8cc6a6" stroke-width="0.63" stroke-linecap="round"/>
<ellipse cx="20.20" cy="175.40" rx="2.80" ry="1.50" fill="#1f6b47" transform="rotate(-20 20.20 175.40)"/>
<text x="33.00" y="177.11">Microglia</text>
<ellipse cx="20.40" cy="187.40" rx="9.70" ry="4.80" fill="#7d4c35"/>
<ellipse cx="20.40" cy="187.40" rx="8.15" ry="3.84" fill="#94583c"/>
<ellipse cx="20.40" cy="187.60" rx="5.82" ry="2.64" fill="#a96a46"/>
<ellipse cx="20.40" cy="187.60" rx="2.13" ry="1.20" fill="#94583c"/>
<text x="33.00" y="188.41">GL261-Luc</text>
<text x="33.00" y="199.51">or CT2A-Luc</text>
<text x="134.20" y="7.80" font-weight="bold" font-size="10.00" style="fill:#000;stroke:#000">B</text>
<text x="234.00" y="19.91" text-anchor="middle">GL261-Luc</text>
<line x1="135.00" y1="23.20" x2="333.20" y2="23.20" stroke="#222" stroke-width="1.20"/>
<line x1="152.10" y1="31.30" x2="156.50" y2="31.30" stroke="#222" stroke-width="0.90"/>
<text x="194.60" y="34.11" text-anchor="middle">Mg</text>
<text x="234.60" y="34.11" text-anchor="middle">(H<tspan dy="1.91" font-size="5.39">2</tspan><tspan dy="-1.91">O</tspan><tspan dy="1.91" font-size="5.39">2</tspan><tspan dy="-1.91">)Mg</tspan></text>
<text x="275.10" y="34.11" text-anchor="middle">(NAC)Mg</text>
<text x="295.00" y="34.11" letter-spacing="-0.12">(H<tspan dy="1.91" font-size="5.39">2</tspan><tspan dy="-1.91">O</tspan><tspan dy="1.91" font-size="5.39">2</tspan><tspan dy="-1.91"> + NAC)Mg</tspan></text>
<g clip-path="url(#c1)">
<rect x="135.20" y="38.00" width="38.20" height="38.40" fill="#525252"/>
<g filter="url(#bl2)">
<ellipse cx="138.26" cy="45.68" rx="6.88" ry="13.44" fill="#666666"/>
<ellipse cx="171.11" cy="47.60" rx="6.88" ry="15.36" fill="#626262"/>
<path d="M154.30 38.77 C161.94 40.30 170.34 55.28 174.93 78.32 L174.93 78.32 L133.67 78.32 C138.26 55.28 146.66 40.30 154.30 38.77 Z" fill="#1e1e1e"/>
<ellipse cx="154.30" cy="59.12" rx="10.31" ry="11.52" fill="#282828"/>
<ellipse cx="168.82" cy="68.72" rx="2.87" ry="3.84" fill="#808080"/>
<ellipse cx="138.26" cy="71.02" rx="2.29" ry="2.69" fill="#7c7c7c"/>
</g>
<rect x="135.20" y="38.00" width="38.20" height="38.40" filter="url(#grain)" style="mix-blend-mode:overlay" opacity="0.35"/>
<g filter="url(#hz)">
<ellipse cx="154.30" cy="58.35" rx="11.84" ry="8.83" fill="url(#hb00_0)"/>
</g>
</g>
<g clip-path="url(#c2)">
<rect x="175.50" y="38.00" width="38.20" height="38.40" fill="#525252"/>
<g filter="url(#bl2)">
<ellipse cx="178.56" cy="45.68" rx="6.88" ry="13.44" fill="#666666"/>
<ellipse cx="211.41" cy="47.60" rx="6.88" ry="15.36" fill="#626262"/>
<path d="M194.60 38.77 C202.24 40.30 210.64 55.28 215.23 78.32 L215.23 78.32 L173.97 78.32 C178.56 55.28 186.96 40.30 194.60 38.77 Z" fill="#1e1e1e"/>
<ellipse cx="194.60" cy="59.12" rx="10.31" ry="11.52" fill="#282828"/>
<ellipse cx="209.12" cy="68.72" rx="2.87" ry="3.84" fill="#808080"/>
<ellipse cx="178.56" cy="71.02" rx="2.29" ry="2.69" fill="#7c7c7c"/>
</g>
<rect x="175.50" y="38.00" width="38.20" height="38.40" filter="url(#grain)" style="mix-blend-mode:overlay" opacity="0.35"/>
<g filter="url(#hz)">
<ellipse cx="195.36" cy="56.05" rx="2.67" ry="2.69" fill="url(#hb01_0)"/>
</g>
</g>
<g clip-path="url(#c3)">
<rect x="215.50" y="38.00" width="38.20" height="38.40" fill="#525252"/>
<g filter="url(#bl2)">
<ellipse cx="218.56" cy="45.68" rx="6.88" ry="13.44" fill="#666666"/>
<ellipse cx="251.41" cy="47.60" rx="6.88" ry="15.36" fill="#626262"/>
<path d="M234.60 38.77 C242.24 40.30 250.64 55.28 255.23 78.32 L255.23 78.32 L213.97 78.32 C218.56 55.28 226.96 40.30 234.60 38.77 Z" fill="#1e1e1e"/>
<ellipse cx="234.60" cy="59.12" rx="10.31" ry="11.52" fill="#282828"/>
<ellipse cx="249.12" cy="68.72" rx="2.87" ry="3.84" fill="#808080"/>
<ellipse cx="218.56" cy="71.02" rx="2.29" ry="2.69" fill="#7c7c7c"/>
</g>
<rect x="215.50" y="38.00" width="38.20" height="38.40" filter="url(#grain)" style="mix-blend-mode:overlay" opacity="0.35"/>
<g filter="url(#hz)">
<ellipse cx="235.36" cy="57.20" rx="14.52" ry="15.36" fill="url(#hb02_0)" transform="rotate(-20 235.36 57.20)"/>
<ellipse cx="236.89" cy="61.81" rx="9.93" ry="7.30" fill="url(#hb02_1)" transform="rotate(-15 236.89 61.81)"/>
<ellipse cx="228.11" cy="59.12" rx="4.58" ry="6.53" fill="url(#hb02_2)"/>
<ellipse cx="235.36" cy="46.45" rx="3.82" ry="2.69" fill="url(#hb02_3)"/>
<ellipse cx="249.12" cy="63.34" rx="4.58" ry="5.38" fill="url(#hb02_4)"/>
</g>
</g>
<g clip-path="url(#c4)">
<rect x="256.00" y="38.00" width="38.20" height="38.40" fill="#525252"/>
<g filter="url(#bl2)">
<ellipse cx="259.06" cy="45.68" rx="6.88" ry="13.44" fill="#666666"/>
<ellipse cx="291.91" cy="47.60" rx="6.88" ry="15.36" fill="#626262"/>
<path d="M275.10 38.77 C282.74 40.30 291.14 55.28 295.73 78.32 L295.73 78.32 L254.47 78.32 C259.06 55.28 267.46 40.30 275.10 38.77 Z" fill="#1e1e1e"/>
<ellipse cx="275.10" cy="59.12" rx="10.31" ry="11.52" fill="#282828"/>
<ellipse cx="289.62" cy="68.72" rx="2.87" ry="3.84" fill="#808080"/>
<ellipse cx="259.06" cy="71.02" rx="2.29" ry="2.69" fill="#7c7c7c"/>
</g>
<rect x="256.00" y="38.00" width="38.20" height="38.40" filter="url(#grain)" style="mix-blend-mode:overlay" opacity="0.35"/>
<g filter="url(#hz)">
<ellipse cx="275.10" cy="56.05" rx="4.20" ry="4.22" fill="url(#hb03_0)"/>
</g>
</g>
<g clip-path="url(#c5)">
<rect x="295.60" y="38.00" width="38.20" height="38.40" fill="#525252"/>
<g filter="url(#bl2)">
<ellipse cx="298.66" cy="45.68" rx="6.88" ry="13.44" fill="#666666"/>
<ellipse cx="331.51" cy="47.60" rx="6.88" ry="15.36" fill="#626262"/>
<path d="M314.70 38.77 C322.34 40.30 330.74 55.28 335.33 78.32 L335.33 78.32 L294.07 78.32 C298.66 55.28 307.06 40.30 314.70 38.77 Z" fill="#1e1e1e"/>
<ellipse cx="314.70" cy="59.12" rx="10.31" ry="11.52" fill="#282828"/>
<ellipse cx="329.22" cy="68.72" rx="2.87" ry="3.84" fill="#808080"/>
<ellipse cx="298.66" cy="71.02" rx="2.29" ry="2.69" fill="#7c7c7c"/>
</g>
<rect x="295.60" y="38.00" width="38.20" height="38.40" filter="url(#grain)" style="mix-blend-mode:overlay" opacity="0.35"/>
<g filter="url(#hz)">
<ellipse cx="314.70" cy="56.05" rx="10.70" ry="7.68" fill="url(#hb04_0)"/>
<ellipse cx="312.41" cy="51.82" rx="3.44" ry="3.07" fill="url(#hb04_1)"/>
</g>
</g>
<g clip-path="url(#c6)">
<rect x="135.20" y="78.30" width="38.20" height="38.40" fill="#525252"/>
<g filter="url(#bl2)">
<ellipse cx="138.26" cy="85.98" rx="6.88" ry="13.44" fill="#666666"/>
<ellipse cx="171.11" cy="87.90" rx="6.88" ry="15.36" fill="#626262"/>
<path d="M154.30 79.07 C161.94 80.60 170.34 95.58 174.93 118.62 L174.93 118.62 L133.67 118.62 C138.26 95.58 146.66 80.60 154.30 79.07 Z" fill="#1e1e1e"/>
<ellipse cx="154.30" cy="99.42" rx="10.31" ry="11.52" fill="#282828"/>
<ellipse cx="168.82" cy="109.02" rx="2.87" ry="3.84" fill="#808080"/>
<ellipse cx="138.26" cy="111.32" rx="2.29" ry="2.69" fill="#7c7c7c"/>
</g>
<rect x="135.20" y="78.30" width="38.20" height="38.40" filter="url(#grain)" style="mix-blend-mode:overlay" opacity="0.35"/>
<g filter="url(#hz)">
<ellipse cx="154.30" cy="99.80" rx="9.55" ry="7.30" fill="url(#hb10_0)" transform="rotate(20 154.30 99.80)"/>
</g>
</g>
<g clip-path="url(#c7)">
<rect x="175.50" y="78.30" width="38.20" height="38.40" fill="#525252"/>
<g filter="url(#bl2)">
<ellipse cx="178.56" cy="85.98" rx="6.88" ry="13.44" fill="#666666"/>
<ellipse cx="211.41" cy="87.90" rx="6.88" ry="15.36" fill="#626262"/>
<path d="M194.60 79.07 C202.24 80.60 210.64 95.58 215.23 118.62 L215.23 118.62 L173.97 118.62 C178.56 95.58 186.96 80.60 194.60 79.07 Z" fill="#1e1e1e"/>
<ellipse cx="194.60" cy="99.42" rx="10.31" ry="11.52" fill="#282828"/>
<ellipse cx="209.12" cy="109.02" rx="2.87" ry="3.84" fill="#808080"/>
<ellipse cx="178.56" cy="111.32" rx="2.29" ry="2.69" fill="#7c7c7c"/>
</g>
<rect x="175.50" y="78.30" width="38.20" height="38.40" filter="url(#grain)" style="mix-blend-mode:overlay" opacity="0.35"/>
<g filter="url(#hz)">
<ellipse cx="193.07" cy="96.73" rx="4.20" ry="4.61" fill="url(#hb11_0)"/>
</g>
</g>
<g clip-path="url(#c8)">
<rect x="215.50" y="78.30" width="38.20" height="38.40" fill="#525252"/>
<g filter="url(#bl2)">
<ellipse cx="218.56" cy="85.98" rx="6.88" ry="13.44" fill="#666666"/>
<ellipse cx="251.41" cy="87.90" rx="6.88" ry="15.36" fill="#626262"/>
<path d="M234.60 79.07 C242.24 80.60 250.64 95.58 255.23 118.62 L255.23 118.62 L213.97 118.62 C218.56 95.58 226.96 80.60 234.60 79.07 Z" fill="#1e1e1e"/>
<ellipse cx="234.60" cy="99.42" rx="10.31" ry="11.52" fill="#282828"/>
<ellipse cx="249.12" cy="109.02" rx="2.87" ry="3.84" fill="#808080"/>
<ellipse cx="218.56" cy="111.32" rx="2.29" ry="2.69" fill="#7c7c7c"/>
</g>
<rect x="215.50" y="78.30" width="38.20" height="38.40" filter="url(#grain)" style="mix-blend-mode:overlay" opacity="0.35"/>
<g filter="url(#hz)">
<ellipse cx="236.51" cy="99.42" rx="13.75" ry="16.13" fill="url(#hb12_0)" transform="rotate(-30 236.51 99.42)"/>
<ellipse cx="232.69" cy="97.50" rx="6.49" ry="5.38" fill="url(#hb12_1)"/>
<ellipse cx="240.71" cy="99.80" rx="4.58" ry="4.61" fill="url(#hb12_2)"/>
<ellipse cx="234.60" cy="89.82" rx="3.82" ry="3.07" fill="url(#hb12_3)"/>
</g>
</g>
<g clip-path="url(#c9)">
<rect x="256.00" y="78.30" width="38.20" height="38.40" fill="#525252"/>
<g filter="url(#bl2)">
<ellipse cx="259.06" cy="85.98" rx="6.88" ry="13.44" fill="#666666"/>
<ellipse cx="291.91" cy="87.90" rx="6.88" ry="15.36" fill="#626262"/>
<path d="M275.10 79.07 C282.74 80.60 291.14 95.58 295.73 118.62 L295.73 118.62 L254.47 118.62 C259.06 95.58 267.46 80.60 275.10 79.07 Z" fill="#1e1e1e"/>
<ellipse cx="275.10" cy="99.42" rx="10.31" ry="11.52" fill="#282828"/>
<ellipse cx="289.62" cy="109.02" rx="2.87" ry="3.84" fill="#808080"/>
<ellipse cx="259.06" cy="111.32" rx="2.29" ry="2.69" fill="#7c7c7c"/>
</g>
<rect x="256.00" y="78.30" width="38.20" height="38.40" filter="url(#grain)" style="mix-blend-mode:overlay" opacity="0.35"/>
<g filter="url(#hz)">
<ellipse cx="273.95" cy="94.43" rx="1.91" ry="1.92" fill="url(#hb13_0)"/>
</g>
</g>
<g clip-path="url(#c10)">
<rect x="295.60" y="78.30" width="38.20" height="38.40" fill="#525252"/>
<g filter="url(#bl2)">
<ellipse cx="298.66" cy="85.98" rx="6.88" ry="13.44" fill="#666666"/>
<ellipse cx="331.51" cy="87.90" rx="6.88" ry="15.36" fill="#626262"/>
<path d="M314.70 79.07 C322.34 80.60 330.74 95.58 335.33 118.62 L335.33 118.62 L294.07 118.62 C298.66 95.58 307.06 80.60 314.70 79.07 Z" fill="#1e1e1e"/>
<ellipse cx="314.70" cy="99.42" rx="10.31" ry="11.52" fill="#282828"/>
<ellipse cx="329.22" cy="109.02" rx="2.87" ry="3.84" fill="#808080"/>
<ellipse cx="298.66" cy="111.32" rx="2.29" ry="2.69" fill="#7c7c7c"/>
</g>
<rect x="295.60" y="78.30" width="38.20" height="38.40" filter="url(#grain)" style="mix-blend-mode:overlay" opacity="0.35"/>
<g filter="url(#hz)">
<ellipse cx="313.55" cy="95.58" rx="4.97" ry="4.99" fill="url(#hb14_0)"/>
</g>
</g>
<g clip-path="url(#c11)">
<rect x="135.20" y="118.80" width="38.20" height="38.40" fill="#525252"/>
<g filter="url(#bl2)">
<ellipse cx="138.26" cy="126.48" rx="6.88" ry="13.44" fill="#666666"/>
<ellipse cx="171.11" cy="128.40" rx="6.88" ry="15.36" fill="#626262"/>
<path d="M154.30 119.57 C161.94 121.10 170.34 136.08 174.93 159.12 L174.93 159.12 L133.67 159.12 C138.26 136.08 146.66 121.10 154.30 119.57 Z" fill="#1e1e1e"/>
<ellipse cx="154.30" cy="139.92" rx="10.31" ry="11.52" fill="#282828"/>
<ellipse cx="168.82" cy="149.52" rx="2.87" ry="3.84" fill="#808080"/>
<ellipse cx="138.26" cy="151.82" rx="2.29" ry="2.69" fill="#7c7c7c"/>
</g>
<rect x="135.20" y="118.80" width="38.20" height="38.40" filter="url(#grain)" style="mix-blend-mode:overlay" opacity="0.35"/>
<g filter="url(#hz)">
<ellipse cx="155.06" cy="138.77" rx="6.49" ry="6.14" fill="url(#hb20_0)"/>
<ellipse cx="159.65" cy="144.91" rx="6.88" ry="3.07" fill="url(#hb20_1)" transform="rotate(40 159.65 144.91)"/>
</g>
</g>
<g clip-path="url(#c12)">
<rect x="175.50" y="118.80" width="38.20" height="38.40" fill="#525252"/>
<g filter="url(#bl2)">
<ellipse cx="178.56" cy="126.48" rx="6.88" ry="13.44" fill="#666666"/>
<ellipse cx="211.41" cy="128.40" rx="6.88" ry="15.36" fill="#626262"/>
<path d="M194.60 119.57 C202.24 121.10 210.64 136.08 215.23 159.12 L215.23 159.12 L173.97 159.12 C178.56 136.08 186.96 121.10 194.60 119.57 Z" fill="#1e1e1e"/>
<ellipse cx="194.60" cy="139.92" rx="10.31" ry="11.52" fill="#282828"/>
<ellipse cx="209.12" cy="149.52" rx="2.87" ry="3.84" fill="#808080"/>
<ellipse cx="178.56" cy="151.82" rx="2.29" ry="2.69" fill="#7c7c7c"/>
</g>
<rect x="175.50" y="118.80" width="38.20" height="38.40" filter="url(#grain)" style="mix-blend-mode:overlay" opacity="0.35"/>
<g filter="url(#hz)">
</g>
</g>
<g clip-path="url(#c13)">
<rect x="215.50" y="118.80" width="38.20" height="38.40" fill="#525252"/>
<g filter="url(#bl2)">
<ellipse cx="218.56" cy="126.48" rx="6.88" ry="13.44" fill="#666666"/>
<ellipse cx="251.41" cy="128.40" rx="6.88" ry="15.36" fill="#626262"/>
<path d="M234.60 119.57 C242.24 121.10 250.64 136.08 255.23 159.12 L255.23 159.12 L213.97 159.12 C218.56 136.08 226.96 121.10 234.60 119.57 Z" fill="#1e1e1e"/>
<ellipse cx="234.60" cy="139.92" rx="10.31" ry="11.52" fill="#282828"/>
<ellipse cx="249.12" cy="149.52" rx="2.87" ry="3.84" fill="#808080"/>
<ellipse cx="218.56" cy="151.82" rx="2.29" ry="2.69" fill="#7c7c7c"/>
</g>
<rect x="215.50" y="118.80" width="38.20" height="38.40" filter="url(#grain)" style="mix-blend-mode:overlay" opacity="0.35"/>
<g filter="url(#hz)">
<ellipse cx="235.36" cy="140.30" rx="11.46" ry="14.59" fill="url(#hb22_0)" transform="rotate(-10 235.36 140.30)"/>
<ellipse cx="234.60" cy="134.93" rx="7.64" ry="4.22" fill="url(#hb22_1)"/>
<ellipse cx="230.78" cy="142.61" rx="3.44" ry="5.76" fill="url(#hb22_2)"/>
<ellipse cx="240.71" cy="141.84" rx="3.06" ry="4.99" fill="url(#hb22_3)"/>
</g>
</g>
<g clip-path="url(#c14)">
<rect x="256.00" y="118.80" width="38.20" height="38.40" fill="#525252"/>
<g filter="url(#bl2)">
<ellipse cx="259.06" cy="126.48" rx="6.88" ry="13.44" fill="#666666"/>
<ellipse cx="291.91" cy="128.40" rx="6.88" ry="15.36" fill="#626262"/>
<path d="M275.10 119.57 C282.74 121.10 291.14 136.08 295.73 159.12 L295.73 159.12 L254.47 159.12 C259.06 136.08 267.46 121.10 275.10 119.57 Z" fill="#1e1e1e"/>
<ellipse cx="275.10" cy="139.92" rx="10.31" ry="11.52" fill="#282828"/>
<ellipse cx="289.62" cy="149.52" rx="2.87" ry="3.84" fill="#808080"/>
<ellipse cx="259.06" cy="151.82" rx="2.29" ry="2.69" fill="#7c7c7c"/>
</g>
<rect x="256.00" y="118.80" width="38.20" height="38.40" filter="url(#grain)" style="mix-blend-mode:overlay" opacity="0.35"/>
<g filter="url(#hz)">
<ellipse cx="273.95" cy="136.08" rx="1.53" ry="1.92" fill="url(#hb23_0)"/>
</g>
</g>
<g clip-path="url(#c15)">
<rect x="295.60" y="118.80" width="38.20" height="38.40" fill="#525252"/>
<g filter="url(#bl2)">
<ellipse cx="298.66" cy="126.48" rx="6.88" ry="13.44" fill="#666666"/>
<ellipse cx="331.51" cy="128.40" rx="6.88" ry="15.36" fill="#626262"/>
<path d="M314.70 119.57 C322.34 121.10 330.74 136.08 335.33 159.12 L335.33 159.12 L294.07 159.12 C298.66 136.08 307.06 121.10 314.70 119.57 Z" fill="#1e1e1e"/>
<ellipse cx="314.70" cy="139.92" rx="10.31" ry="11.52" fill="#282828"/>
<ellipse cx="329.22" cy="149.52" rx="2.87" ry="3.84" fill="#808080"/>
<ellipse cx="298.66" cy="151.82" rx="2.29" ry="2.69" fill="#7c7c7c"/>
</g>
<rect x="295.60" y="118.80" width="38.20" height="38.40" filter="url(#grain)" style="mix-blend-mode:overlay" opacity="0.35"/>
<g filter="url(#hz)">
<ellipse cx="314.70" cy="136.08" rx="1.91" ry="2.30" fill="url(#hb24_0)"/>
<ellipse cx="319.28" cy="138.00" rx="1.91" ry="2.69" fill="url(#hb24_1)"/>
<ellipse cx="315.46" cy="142.61" rx="1.53" ry="1.54" fill="url(#hb24_2)"/>
</g>
</g>
<path d="M157.00 163.57 C162.53 160.66 171.54 163.68 172.80 173.76 C173.12 180.48 168.06 184.62 162.53 184.18 C160.16 183.95 158.58 182.16 157.00 182.38 C155.42 182.16 153.84 183.95 151.47 184.18 C145.94 184.62 140.88 180.48 141.20 173.76 C142.46 163.68 151.47 160.66 157.00 163.57 Z" fill="#c183d3" stroke="#a465c2" stroke-width="0.90"/>
<ellipse cx="150.36" cy="172.64" rx="5.69" ry="5.60" fill="#cb93da"/>
<ellipse cx="163.64" cy="172.64" rx="5.69" ry="5.60" fill="#cb93da"/>
<ellipse cx="155.10" cy="173.76" rx="0.63" ry="3.36" fill="#e2bdea"/>
<ellipse cx="158.90" cy="173.76" rx="0.63" ry="3.36" fill="#e2bdea"/>
<ellipse cx="150.68" cy="178.80" rx="5.69" ry="4.26" fill="#9257b4"/>
<ellipse cx="148.31" cy="176.56" rx="3.16" ry="3.36" fill="#a368c2"/>
<path d="M196.00 163.91 C201.74 161.10 211.09 164.02 212.40 173.74 C212.73 180.22 207.48 184.22 201.74 183.78 C199.28 183.57 197.64 181.84 196.00 182.06 C194.36 181.84 192.72 183.57 190.26 183.78 C184.52 184.22 179.27 180.22 179.60 173.74 C180.91 164.02 190.26 161.10 196.00 163.91 Z" fill="#c183d3" stroke="#a465c2" stroke-width="0.90"/>
<ellipse cx="189.11" cy="172.66" rx="5.90" ry="5.40" fill="#cb93da"/>
<ellipse cx="202.89" cy="172.66" rx="5.90" ry="5.40" fill="#cb93da"/>
<ellipse cx="194.03" cy="173.74" rx="0.66" ry="3.24" fill="#e2bdea"/>
<ellipse cx="197.97" cy="173.74" rx="0.66" ry="3.24" fill="#e2bdea"/>
<ellipse cx="186.98" cy="178.06" rx="4.59" ry="3.89" fill="#9860ba"/>
<path d="M234.50 163.68 C240.03 160.56 249.04 163.80 250.30 174.60 C250.62 181.80 245.56 186.24 240.03 185.76 C237.66 185.52 236.08 183.60 234.50 183.84 C232.92 183.60 231.34 185.52 228.97 185.76 C223.44 186.24 218.38 181.80 218.70 174.60 C219.96 163.80 228.97 160.56 234.50 163.68 Z" fill="#c183d3" stroke="#a465c2" stroke-width="0.90"/>
<ellipse cx="227.86" cy="173.40" rx="5.69" ry="6.00" fill="#cb93da"/>
<ellipse cx="241.14" cy="173.40" rx="5.69" ry="6.00" fill="#cb93da"/>
<ellipse cx="232.60" cy="174.60" rx="0.63" ry="3.60" fill="#e2bdea"/>
<ellipse cx="236.40" cy="174.60" rx="0.63" ry="3.60" fill="#e2bdea"/>
<ellipse cx="228.50" cy="176.40" rx="8.22" ry="8.64" fill="#a24fb0"/>
<ellipse cx="229.76" cy="172.80" rx="6.64" ry="6.00" fill="#c9427c"/>
<path d="M274.50 164.17 C280.24 161.26 289.59 164.28 290.90 174.36 C291.23 181.08 285.98 185.22 280.24 184.78 C277.78 184.55 276.14 182.76 274.50 182.98 C272.86 182.76 271.22 184.55 268.76 184.78 C263.02 185.22 257.77 181.08 258.10 174.36 C259.41 164.28 268.76 161.26 274.50 164.17 Z" fill="#c183d3" stroke="#a465c2" stroke-width="0.90"/>
<ellipse cx="267.61" cy="173.24" rx="5.90" ry="5.60" fill="#cb93da"/>
<ellipse cx="281.39" cy="173.24" rx="5.90" ry="5.60" fill="#cb93da"/>
<ellipse cx="272.53" cy="174.36" rx="0.66" ry="3.36" fill="#e2bdea"/>
<ellipse cx="276.47" cy="174.36" rx="0.66" ry="3.36" fill="#e2bdea"/>
<ellipse cx="269.91" cy="168.20" rx="2.13" ry="3.36" fill="#8452b0"/>
<path d="M314.00 163.61 C319.60 160.62 328.72 163.72 330.00 174.07 C330.32 180.97 325.20 185.23 319.60 184.77 C317.20 184.54 315.60 182.70 314.00 182.93 C312.40 182.70 310.80 184.54 308.40 184.77 C302.80 185.23 297.68 180.97 298.00 174.07 C299.28 163.72 308.40 160.62 314.00 163.61 Z" fill="#c183d3" stroke="#a465c2" stroke-width="0.90"/>
<ellipse cx="307.28" cy="172.93" rx="5.76" ry="5.75" fill="#cb93da"/>
<ellipse cx="320.72" cy="172.93" rx="5.76" ry="5.75" fill="#cb93da"/>
<ellipse cx="312.08" cy="174.07" rx="0.64" ry="3.45" fill="#e2bdea"/>
<ellipse cx="315.92" cy="174.07" rx="0.64" ry="3.45" fill="#e2bdea"/>
<ellipse cx="312.40" cy="166.37" rx="7.20" ry="3.45" fill="#9a5cbc"/>
<text x="310.00" y="181.71" style="fill:#2a1030;stroke:#2a1030">2 mm</text>
<line x1="316.00" y1="184.30" x2="324.00" y2="184.30" stroke="#333" stroke-width="0.90"/>
<text x="398.60" y="8.40" font-weight="bold" font-size="10.00" style="fill:#000;stroke:#000">C</text>
<text text-anchor="middle" transform="translate(397.80 99.00) rotate(-90)">Total luciferase intensity</text>
<line x1="437.60" y1="48.65" x2="437.60" y2="149.25" stroke="#000" stroke-width="1.10"/>
<line x1="433.00" y1="148.70" x2="437.60" y2="148.70" stroke="#000" stroke-width="1.10"/>
<line x1="433.00" y1="128.80" x2="437.60" y2="128.80" stroke="#000" stroke-width="1.10"/>
<text x="430.60" y="134.11" text-anchor="end">2 × 10<tspan dy="-3.13" font-size="5.39">6</tspan></text>
<line x1="433.00" y1="108.90" x2="437.60" y2="108.90" stroke="#000" stroke-width="1.10"/>
<text x="430.60" y="114.21" text-anchor="end">4 × 10<tspan dy="-3.13" font-size="5.39">6</tspan></text>
<line x1="433.00" y1="89.00" x2="437.60" y2="89.00" stroke="#000" stroke-width="1.10"/>
<text x="430.60" y="94.31" text-anchor="end">6 × 10<tspan dy="-3.13" font-size="5.39">6</tspan></text>
<line x1="433.00" y1="69.10" x2="437.60" y2="69.10" stroke="#000" stroke-width="1.10"/>
<text x="430.60" y="74.41" text-anchor="end">8 × 10<tspan dy="-3.13" font-size="5.39">6</tspan></text>
<line x1="433.00" y1="49.20" x2="437.60" y2="49.20" stroke="#000" stroke-width="1.10"/>
<text x="430.60" y="54.51" text-anchor="end">1 × 10<tspan dy="-3.13" font-size="5.39">7</tspan></text>
<text x="430.60" y="151.81" text-anchor="end">0</text>
<line x1="437.00" y1="148.70" x2="513.00" y2="148.70" stroke="#000" stroke-width="1.20"/>
<rect x="440.20" y="139.20" width="12.80" height="9.50" fill="#000"/>
<rect x="454.50" y="147.30" width="12.80" height="1.40" fill="#ff0000"/>
<rect x="468.70" y="92.20" width="12.80" height="56.50" fill="#0000ff"/>
<rect x="483.00" y="146.80" width="12.80" height="1.90" fill="#7f1fa3"/>
<rect x="497.30" y="145.60" width="12.80" height="3.10" fill="#008000"/>
<line x1="446.60" y1="135.00" x2="446.60" y2="139.50" stroke="#000" stroke-width="0.90"/>
<line x1="444.40" y1="135.00" x2="448.80" y2="135.00" stroke="#000" stroke-width="0.90"/>
<line x1="475.00" y1="82.20" x2="475.00" y2="92.50" stroke="#000" stroke-width="0.90"/>
<line x1="472.40" y1="82.20" x2="477.60" y2="82.20" stroke="#000" stroke-width="0.90"/>
<path d="M472.9 81.2 L477.1 81.2 L475 84.6 Z" fill="#fff" stroke="#000" stroke-width="0.80"/>
<circle cx="442.40" cy="133.80" r="1.90" fill="#fff" stroke="#000" stroke-width="1.10"/>
<circle cx="446.80" cy="136.00" r="1.90" fill="#fff" stroke="#000" stroke-width="1.10"/>
<circle cx="451.00" cy="133.60" r="1.90" fill="#fff" stroke="#000" stroke-width="1.10"/>
<circle cx="443.60" cy="145.30" r="1.90" fill="#fff" stroke="#000" stroke-width="1.10"/>
<circle cx="449.80" cy="145.00" r="1.90" fill="#fff" stroke="#000" stroke-width="1.10"/>
<circle cx="456.30" cy="148.00" r="1.80" fill="#fff" stroke="#000" stroke-width="1.05"/>
<circle cx="460.30" cy="148.00" r="1.80" fill="#fff" stroke="#000" stroke-width="1.05"/>
<circle cx="464.40" cy="148.00" r="1.80" fill="#fff" stroke="#000" stroke-width="1.05"/>
<circle cx="475.00" cy="57.20" r="1.90" fill="#fff" stroke="#000" stroke-width="1.10"/>
<circle cx="469.60" cy="98.00" r="1.90" fill="#fff" stroke="#000" stroke-width="1.10"/>
<circle cx="479.60" cy="101.00" r="1.90" fill="#fff" stroke="#000" stroke-width="1.10"/>
<circle cx="475.00" cy="121.00" r="1.90" fill="#fff" stroke="#000" stroke-width="1.10"/>
<circle cx="483.80" cy="144.40" r="1.80" fill="#fff" stroke="#000" stroke-width="1.05"/>
<circle cx="484.00" cy="148.00" r="1.80" fill="#fff" stroke="#000" stroke-width="1.05"/>
<circle cx="488.60" cy="148.00" r="1.80" fill="#fff" stroke="#000" stroke-width="1.05"/>
<circle cx="492.40" cy="148.00" r="1.80" fill="#fff" stroke="#000" stroke-width="1.05"/>
<circle cx="498.20" cy="146.60" r="1.80" fill="#fff" stroke="#000" stroke-width="1.05"/>
<circle cx="501.20" cy="142.40" r="1.80" fill="#fff" stroke="#000" stroke-width="1.05"/>
<circle cx="504.80" cy="144.60" r="1.80" fill="#fff" stroke="#000" stroke-width="1.05"/>
<circle cx="508.20" cy="146.20" r="1.80" fill="#fff" stroke="#000" stroke-width="1.05"/>
<circle cx="501.00" cy="147.60" r="1.80" fill="#fff" stroke="#000" stroke-width="1.05"/>
<line x1="461.00" y1="26.70" x2="475.00" y2="26.70" stroke="#111" stroke-width="1.20"/>
<text x="468.00" y="24.72" text-anchor="middle" style="font-family:'DejaVu Sans',sans-serif;stroke:#111;stroke-width:0.3px" font-size="5.3" fill="#111">★★★</text>
<line x1="475.30" y1="33.00" x2="501.70" y2="33.00" stroke="#111" stroke-width="1.20"/>
<text x="488.50" y="31.02" text-anchor="middle" style="font-family:'DejaVu Sans',sans-serif;stroke:#111;stroke-width:0.3px" font-size="5.3" fill="#111">★★★</text>
<line x1="447.00" y1="41.70" x2="475.00" y2="41.70" stroke="#111" stroke-width="1.20"/>
<text x="461.00" y="39.72" text-anchor="middle" style="font-family:'DejaVu Sans',sans-serif;stroke:#111;stroke-width:0.3px" font-size="5.3" fill="#111">★★★</text>
<line x1="460.70" y1="52.70" x2="488.00" y2="52.70" stroke="#111" stroke-width="1.20"/>
<text x="474.35" y="50.60" text-anchor="middle" font-size="9.00">ns</text>
<text x="438.60" y="161.31" text-anchor="end">H<tspan dy="1.91" font-size="5.39">2</tspan><tspan dy="-1.91">O</tspan><tspan dy="1.91" font-size="5.39">2</tspan></text>
<text x="438.60" y="171.31" text-anchor="end">NAC</text>
<line x1="444.50" y1="158.20" x2="448.90" y2="158.20" stroke="#111" stroke-width="1.00"/>
<line x1="444.50" y1="168.20" x2="448.90" y2="168.20" stroke="#111" stroke-width="1.00"/>
<line x1="458.60" y1="158.20" x2="463.00" y2="158.20" stroke="#111" stroke-width="1.00"/>
<line x1="458.60" y1="168.20" x2="463.00" y2="168.20" stroke="#111" stroke-width="1.00"/>
<line x1="472.80" y1="158.20" x2="477.20" y2="158.20" stroke="#111" stroke-width="1.00"/>
<line x1="475.00" y1="156.00" x2="475.00" y2="160.40" stroke="#111" stroke-width="1.00"/>
<line x1="472.80" y1="168.20" x2="477.20" y2="168.20" stroke="#111" stroke-width="1.00"/>
<line x1="487.00" y1="158.20" x2="491.40" y2="158.20" stroke="#111" stroke-width="1.00"/>
<line x1="487.00" y1="168.20" x2="491.40" y2="168.20" stroke="#111" stroke-width="1.00"/>
<line x1="489.20" y1="166.00" x2="489.20" y2="170.40" stroke="#111" stroke-width="1.00"/>
<line x1="501.00" y1="158.20" x2="505.40" y2="158.20" stroke="#111" stroke-width="1.00"/>
<line x1="503.20" y1="156.00" x2="503.20" y2="160.40" stroke="#111" stroke-width="1.00"/>
<line x1="501.00" y1="168.20" x2="505.40" y2="168.20" stroke="#111" stroke-width="1.00"/>
<line x1="503.20" y1="166.00" x2="503.20" y2="170.40" stroke="#111" stroke-width="1.00"/>
<line x1="440.00" y1="172.60" x2="453.70" y2="172.60" stroke="#222" stroke-width="1.00"/>
<line x1="457.50" y1="172.60" x2="509.60" y2="172.60" stroke="#222" stroke-width="1.00"/>
<line x1="444.60" y1="179.00" x2="448.80" y2="179.00" stroke="#111" stroke-width="1.00"/>
<text x="482.80" y="181.81" text-anchor="middle">Microglia</text>
<line x1="440.00" y1="185.00" x2="509.60" y2="185.00" stroke="#222" stroke-width="1.00"/>
<text x="473.60" y="194.31" text-anchor="middle">GL261-Luc</text>
<text x="31.00" y="218.80" font-weight="bold" font-size="10.00" style="fill:#000;stroke:#000">D</text>
<line x1="42.00" y1="225.80" x2="58.00" y2="225.80" stroke="#222" stroke-width="1.10"/>
<line x1="50.00" y1="222.60" x2="50.00" y2="225.80" stroke="#222" stroke-width="1.10"/>
<text x="60.60" y="227.65" font-size="8.80">GL261-Luc (<tspan font-style="italic">n</tspan> = 5)</text>
<line x1="42.00" y1="235.50" x2="58.00" y2="235.50" stroke="#ff0000" stroke-width="1.10"/>
<line x1="50.00" y1="232.30" x2="50.00" y2="235.50" stroke="#ff0000" stroke-width="1.10"/>
<text x="60.60" y="237.35" font-size="8.80">GL261-Luc + Mg (<tspan font-style="italic">n</tspan> = 5)</text>
<line x1="42.00" y1="245.30" x2="58.00" y2="245.30" stroke="#0000ff" stroke-width="1.10"/>
<line x1="50.00" y1="242.10" x2="50.00" y2="245.30" stroke="#0000ff" stroke-width="1.10"/>
<text x="60.60" y="247.15" font-size="8.80">GL261-Luc + (H<tspan dy="1.94" font-size="5.46">2</tspan><tspan dy="-1.94">O</tspan><tspan dy="1.94" font-size="5.46">2</tspan><tspan dy="-1.94">)Mg (</tspan><tspan font-style="italic">n</tspan> = 5)</text>
<line x1="42.00" y1="255.00" x2="58.00" y2="255.00" stroke="#7f1fa3" stroke-width="1.10"/>
<line x1="50.00" y1="251.80" x2="50.00" y2="255.00" stroke="#7f1fa3" stroke-width="1.10"/>
<text x="60.60" y="256.85" font-size="8.80">GL261-Luc + (NAC)Mg (<tspan font-style="italic">n</tspan> = 5)</text>
<line x1="42.00" y1="264.60" x2="58.00" y2="264.60" stroke="#008000" stroke-width="1.10"/>
<line x1="50.00" y1="261.40" x2="50.00" y2="264.60" stroke="#008000" stroke-width="1.10"/>
<text x="60.60" y="266.45" font-size="8.80">GL261-Luc + (H<tspan dy="1.94" font-size="5.46">2</tspan><tspan dy="-1.94">O</tspan><tspan dy="1.94" font-size="5.46">2</tspan><tspan dy="-1.94">+NAC)Mg (</tspan><tspan font-style="italic">n</tspan> = 5)</text>
<path d="M71.24 281.20 L88.28 281.20 L88.28 298.76 L93.96 298.76 L93.96 333.88 L105.32 333.88 L105.32 351.44 L111.00 351.44 L111.00 369.00" fill="none" stroke="#0000ff" stroke-width="1.25" stroke-linejoin="miter"/>
<path d="M71.24 281.20 L93.96 281.20 L93.96 298.76 L133.72 298.76 L133.72 316.32 L139.40 316.32 L139.40 333.88 L145.08 333.88 L145.08 351.44 L150.76 351.44 L150.76 369.00" fill="none" stroke="#008000" stroke-width="1.25" stroke-linejoin="miter"/>
<path d="M71.24 281.20 L105.32 281.20 L105.32 298.76 L139.40 298.76 L139.40 316.32 L150.76 316.32 L150.76 333.88 L156.44 333.88 L156.44 351.44 L167.80 351.44 L167.80 369.00" fill="none" stroke="#7f1fa3" stroke-width="1.25" stroke-linejoin="miter"/>
<path d="M71.24 281.20 L116.68 281.20 L116.68 298.76 L156.44 298.76 L156.44 333.88 L162.12 333.88 L162.12 351.44 L179.16 351.44 L179.16 369.00" fill="none" stroke="#ff0000" stroke-width="1.25" stroke-linejoin="miter"/>
<path d="M71.24 281.20 L76.92 281.20 L76.92 298.76 L116.68 298.76 L116.68 316.32 L122.36 316.32 L122.36 333.88 L139.40 333.88 L139.40 351.44 L145.08 351.44 L145.08 369.00" fill="none" stroke="#111" stroke-width="1.25" stroke-linejoin="miter"/>
<line x1="88.28" y1="281.80" x2="88.28" y2="298.16" stroke="#0000ff" stroke-width="1.10"/>
<line x1="93.96" y1="281.80" x2="93.96" y2="298.16" stroke="#008000" stroke-width="1.10"/>
<line x1="105.32" y1="281.80" x2="105.32" y2="298.16" stroke="#7f1fa3" stroke-width="1.10"/>
<line x1="71.00" y1="272.50" x2="71.00" y2="369.60" stroke="#000" stroke-width="1.20"/>
<line x1="70.40" y1="369.00" x2="196.20" y2="369.00" stroke="#000" stroke-width="1.20"/>
<line x1="67.80" y1="281.20" x2="71.00" y2="281.20" stroke="#000" stroke-width="1.10"/>
<text x="65.80" y="284.31" text-anchor="end">100%</text>
<line x1="67.80" y1="325.10" x2="71.00" y2="325.10" stroke="#000" stroke-width="1.10"/>
<text x="65.80" y="328.21" text-anchor="end">50%</text>
<line x1="67.80" y1="369.00" x2="71.00" y2="369.00" stroke="#000" stroke-width="1.10"/>
<text x="65.80" y="372.11" text-anchor="end">0</text>
<line x1="82.60" y1="369.00" x2="82.60" y2="372.20" stroke="#000" stroke-width="1.10"/>
<text x="82.60" y="381.91" text-anchor="middle">10</text>
<line x1="111.00" y1="369.00" x2="111.00" y2="372.20" stroke="#000" stroke-width="1.10"/>
<text x="111.00" y="381.91" text-anchor="middle">15</text>
<line x1="139.40" y1="369.00" x2="139.40" y2="372.20" stroke="#000" stroke-width="1.10"/>
<text x="139.40" y="381.91" text-anchor="middle">20</text>
<line x1="167.80" y1="369.00" x2="167.80" y2="372.20" stroke="#000" stroke-width="1.10"/>
<text x="167.80" y="381.91" text-anchor="middle">25</text>
<line x1="196.20" y1="369.00" x2="196.20" y2="372.20" stroke="#000" stroke-width="1.10"/>
<text x="196.20" y="381.91" text-anchor="middle">30</text>
<text x="132.00" y="393.71" text-anchor="middle">Overall survival (days)</text>
<text text-anchor="middle" transform="translate(39.20 322.70) rotate(-90)">Percent survival</text>
<line x1="116.68" y1="304.50" x2="155.40" y2="304.50" stroke="#ff0000" stroke-width="1.20"/>
<path d="M156.00 304.50 L152.20 302.90 L152.20 306.10 Z" fill="#ff0000"/>
<text x="158.60" y="306.72" font-size="6.20"><tspan font-style="italic">P</tspan> = 0.021</text>
<line x1="121.00" y1="326.00" x2="148.80" y2="326.00" stroke="#7f1fa3" stroke-width="1.20"/>
<path d="M149.40 326.00 L145.60 324.40 L145.60 327.60 Z" fill="#7f1fa3"/>
<text x="158.60" y="328.22" font-size="6.20"><tspan font-style="italic">P</tspan> = 0.074</text>
<line x1="94.60" y1="315.80" x2="121.00" y2="315.80" stroke="#0000ff" stroke-width="1.20"/>
<path d="M94.00 315.80 L97.80 314.20 L97.80 317.40 Z" fill="#0000ff"/>
<text x="94.60" y="326.52" font-size="6.20"><tspan font-style="italic">P</tspan> = 0.035</text>
<line x1="105.00" y1="339.60" x2="142.20" y2="339.60" stroke="#008000" stroke-width="1.20"/>
<path d="M142.80 339.60 L139.00 338.00 L139.00 341.20 Z" fill="#008000"/>
<text x="108.60" y="347.02" font-size="6.20"><tspan font-style="italic">P</tspan> = 0.016</text>
<text x="256.20" y="216.40" font-weight="bold" font-size="10.00" style="fill:#000;stroke:#000">E</text>
<text x="368.00" y="222.51" text-anchor="middle">CT2A-Luc</text>
<line x1="266.20" y1="225.00" x2="470.80" y2="225.00" stroke="#222" stroke-width="1.20"/>
<line x1="281.65" y1="233.40" x2="286.05" y2="233.40" stroke="#222" stroke-width="0.90"/>
<text x="325.65" y="236.31" text-anchor="middle">Mg</text>
<text x="367.65" y="236.31" text-anchor="middle">(H<tspan dy="1.91" font-size="5.39">2</tspan><tspan dy="-1.91">O</tspan><tspan dy="1.91" font-size="5.39">2</tspan><tspan dy="-1.91">)Mg</tspan></text>
<text x="409.75" y="236.31" text-anchor="middle">(NAC)Mg</text>
<text x="427.60" y="236.31" letter-spacing="-0.10">(H<tspan dy="1.91" font-size="5.39">2</tspan><tspan dy="-1.91">O</tspan><tspan dy="1.91" font-size="5.39">2</tspan><tspan dy="-1.91">+NAC)Mg</tspan></text>
<g clip-path="url(#c16)">
<rect x="264.00" y="241.00" width="39.70" height="39.00" fill="#303030"/>
<g filter="url(#bl2)">
<rect x="264.79" y="239.00" width="3.97" height="17.94" fill="#101010"/>
<rect x="270.35" y="239.00" width="3.97" height="17.94" fill="#8c8c8c"/>
<rect x="275.91" y="239.00" width="3.18" height="17.94" fill="#202020"/>
<rect x="280.67" y="239.00" width="4.76" height="17.94" fill="#787878"/>
<rect x="287.82" y="239.00" width="3.18" height="17.94" fill="#282828"/>
<rect x="292.58" y="239.00" width="4.76" height="17.94" fill="#909090"/>
<rect x="299.73" y="239.00" width="3.97" height="17.94" fill="#141414"/>
<ellipse cx="283.85" cy="272.20" rx="18.26" ry="16.38" fill="#0a0a0a"/>
<ellipse cx="283.85" cy="258.55" rx="10.32" ry="9.36" fill="#121212"/>
<ellipse cx="266.38" cy="269.08" rx="3.18" ry="3.71" fill="#d3d3d3"/>
<ellipse cx="297.35" cy="272.20" rx="3.18" ry="3.71" fill="#bebebe"/>
</g>
<rect x="264.00" y="241.00" width="39.70" height="39.00" filter="url(#grain)" style="mix-blend-mode:overlay" opacity="0.6"/>
<g filter="url(#hz)">
<ellipse cx="284.64" cy="258.94" rx="11.91" ry="12.09" fill="url(#he00_0)"/>
<ellipse cx="293.38" cy="269.08" rx="2.78" ry="2.73" fill="url(#he00_1)"/>
</g>
</g>
<g clip-path="url(#c17)">
<rect x="305.80" y="241.00" width="39.70" height="39.00" fill="#4c4c4c"/>
<g filter="url(#bl2)">
<rect x="306.59" y="239.00" width="3.97" height="17.94" fill="#343434"/>
<rect x="312.15" y="239.00" width="3.97" height="17.94" fill="#787878"/>
<rect x="317.71" y="239.00" width="3.18" height="17.94" fill="#404040"/>
<rect x="322.47" y="239.00" width="4.76" height="17.94" fill="#707070"/>
<rect x="329.62" y="239.00" width="3.18" height="17.94" fill="#3c3c3c"/>
<rect x="334.38" y="239.00" width="4.76" height="17.94" fill="#7a7a7a"/>
<rect x="341.53" y="239.00" width="3.97" height="17.94" fill="#383838"/>
<ellipse cx="325.65" cy="272.20" rx="18.26" ry="16.38" fill="#2c2c2c"/>
<ellipse cx="325.65" cy="258.55" rx="10.32" ry="9.36" fill="#343434"/>
<ellipse cx="328.83" cy="271.42" rx="3.18" ry="3.71" fill="#a1a1a1"/>
</g>
<rect x="305.80" y="241.00" width="39.70" height="39.00" filter="url(#grain)" style="mix-blend-mode:overlay" opacity="0.6"/>
<g filter="url(#hz)">
</g>
</g>
<g clip-path="url(#c18)">
<rect x="347.80" y="241.00" width="39.70" height="39.00" fill="#303030"/>
<g filter="url(#bl2)">
<rect x="348.59" y="239.00" width="3.97" height="17.94" fill="#101010"/>
<rect x="354.15" y="239.00" width="3.97" height="17.94" fill="#8c8c8c"/>
<rect x="359.71" y="239.00" width="3.18" height="17.94" fill="#202020"/>
<rect x="364.47" y="239.00" width="4.76" height="17.94" fill="#787878"/>
<rect x="371.62" y="239.00" width="3.18" height="17.94" fill="#282828"/>
<rect x="376.38" y="239.00" width="4.76" height="17.94" fill="#909090"/>
<rect x="383.53" y="239.00" width="3.97" height="17.94" fill="#141414"/>
<ellipse cx="367.65" cy="272.20" rx="18.26" ry="16.38" fill="#0a0a0a"/>
<ellipse cx="367.65" cy="258.55" rx="10.32" ry="9.36" fill="#121212"/>
<ellipse cx="349.79" cy="264.40" rx="1.91" ry="2.22" fill="#7e7e7e"/>
<ellipse cx="383.53" cy="272.20" rx="2.54" ry="2.96" fill="#707070"/>
</g>
<rect x="347.80" y="241.00" width="39.70" height="39.00" filter="url(#grain)" style="mix-blend-mode:overlay" opacity="0.6"/>
<g filter="url(#hz)">
<ellipse cx="369.63" cy="257.38" rx="13.50" ry="11.70" fill="url(#he02_0)" transform="rotate(25 369.63 257.38)"/>
<ellipse cx="355.74" cy="258.55" rx="3.97" ry="4.68" fill="url(#he02_1)"/>
</g>
</g>
<g clip-path="url(#c19)">
<rect x="389.90" y="241.00" width="39.70" height="39.00" fill="#4c4c4c"/>
<g filter="url(#bl2)">
<rect x="390.69" y="239.00" width="3.97" height="17.94" fill="#343434"/>
<rect x="396.25" y="239.00" width="3.97" height="17.94" fill="#787878"/>
<rect x="401.81" y="239.00" width="3.18" height="17.94" fill="#404040"/>
<rect x="406.57" y="239.00" width="4.76" height="17.94" fill="#707070"/>
<rect x="413.72" y="239.00" width="3.18" height="17.94" fill="#3c3c3c"/>
<rect x="418.48" y="239.00" width="4.76" height="17.94" fill="#7a7a7a"/>
<rect x="425.63" y="239.00" width="3.97" height="17.94" fill="#383838"/>
<ellipse cx="409.75" cy="272.20" rx="18.26" ry="16.38" fill="#2c2c2c"/>
<ellipse cx="409.75" cy="258.55" rx="10.32" ry="9.36" fill="#343434"/>
<ellipse cx="414.51" cy="270.25" rx="4.13" ry="4.82" fill="#c5c5c5"/>
<ellipse cx="393.87" cy="262.45" rx="3.18" ry="3.71" fill="#9a9a9a"/>
</g>
<rect x="389.90" y="241.00" width="39.70" height="39.00" filter="url(#grain)" style="mix-blend-mode:overlay" opacity="0.6"/>
<g filter="url(#hz)">
</g>
</g>
<g clip-path="url(#c20)">
<rect x="431.70" y="241.00" width="39.70" height="39.00" fill="#4a4a4a"/>
<g filter="url(#bl2)">
<rect x="432.49" y="239.00" width="3.97" height="17.94" fill="#303030"/>
<rect x="438.05" y="239.00" width="3.97" height="17.94" fill="#888888"/>
<rect x="443.61" y="239.00" width="3.18" height="17.94" fill="#3a3a3a"/>
<rect x="448.37" y="239.00" width="4.76" height="17.94" fill="#808080"/>
<rect x="455.52" y="239.00" width="3.18" height="17.94" fill="#383838"/>
<rect x="460.28" y="239.00" width="4.76" height="17.94" fill="#848484"/>
<rect x="467.43" y="239.00" width="3.97" height="17.94" fill="#2c2c2c"/>
<ellipse cx="451.55" cy="272.20" rx="18.26" ry="16.38" fill="#1c1c1c"/>
<ellipse cx="451.55" cy="258.55" rx="10.32" ry="9.36" fill="#262626"/>
<ellipse cx="434.08" cy="272.20" rx="3.18" ry="3.71" fill="#cccccc"/>
<ellipse cx="464.25" cy="271.42" rx="3.49" ry="4.08" fill="#b7b7b7"/>
</g>
<rect x="431.70" y="241.00" width="39.70" height="39.00" filter="url(#grain)" style="mix-blend-mode:overlay" opacity="0.6"/>
<g filter="url(#hz)">
<ellipse cx="451.55" cy="258.16" rx="4.37" ry="5.85" fill="url(#he04_0)"/>
<ellipse cx="448.37" cy="253.48" rx="3.97" ry="3.12" fill="url(#he04_1)"/>
</g>
</g>
<g clip-path="url(#c21)">
<rect x="264.00" y="283.00" width="39.70" height="39.00" fill="#303030"/>
<g filter="url(#bl2)">
<rect x="264.79" y="281.00" width="3.97" height="17.94" fill="#101010"/>
<rect x="270.35" y="281.00" width="3.97" height="17.94" fill="#8c8c8c"/>
<rect x="275.91" y="281.00" width="3.18" height="17.94" fill="#202020"/>
<rect x="280.67" y="281.00" width="4.76" height="17.94" fill="#787878"/>
<rect x="287.82" y="281.00" width="3.18" height="17.94" fill="#282828"/>
<rect x="292.58" y="281.00" width="4.76" height="17.94" fill="#909090"/>
<rect x="299.73" y="281.00" width="3.97" height="17.94" fill="#141414"/>
<ellipse cx="283.85" cy="314.20" rx="18.26" ry="16.38" fill="#0a0a0a"/>
<ellipse cx="283.85" cy="300.55" rx="10.32" ry="9.36" fill="#121212"/>
<ellipse cx="265.99" cy="314.98" rx="2.86" ry="3.33" fill="#d3d3d3"/>
<ellipse cx="297.75" cy="310.30" rx="2.54" ry="2.96" fill="#9a9a9a"/>
</g>
<rect x="264.00" y="283.00" width="39.70" height="39.00" filter="url(#grain)" style="mix-blend-mode:overlay" opacity="0.6"/>
<g filter="url(#hz)">
<ellipse cx="284.64" cy="299.38" rx="10.32" ry="10.92" fill="url(#he10_0)" transform="rotate(30 284.64 299.38)"/>
<ellipse cx="291.79" cy="314.98" rx="3.18" ry="6.24" fill="url(#he10_1)"/>
</g>
</g>
<g clip-path="url(#c22)">
<rect x="305.80" y="283.00" width="39.70" height="39.00" fill="#4c4c4c"/>
<g filter="url(#bl2)">
<rect x="306.59" y="281.00" width="3.97" height="17.94" fill="#343434"/>
<rect x="312.15" y="281.00" width="3.97" height="17.94" fill="#787878"/>
<rect x="317.71" y="281.00" width="3.18" height="17.94" fill="#404040"/>
<rect x="322.47" y="281.00" width="4.76" height="17.94" fill="#707070"/>
<rect x="329.62" y="281.00" width="3.18" height="17.94" fill="#3c3c3c"/>
<rect x="334.38" y="281.00" width="4.76" height="17.94" fill="#7a7a7a"/>
<rect x="341.53" y="281.00" width="3.97" height="17.94" fill="#383838"/>
<ellipse cx="325.65" cy="314.20" rx="18.26" ry="16.38" fill="#2c2c2c"/>
<ellipse cx="325.65" cy="300.55" rx="10.32" ry="9.36" fill="#343434"/>
<ellipse cx="310.56" cy="307.18" rx="2.22" ry="2.59" fill="#939393"/>
<ellipse cx="334.38" cy="311.08" rx="2.86" ry="3.33" fill="#9a9a9a"/>
<ellipse cx="323.67" cy="296.65" rx="1.91" ry="2.22" fill="#7e7e7e"/>
</g>
<rect x="305.80" y="283.00" width="39.70" height="39.00" filter="url(#grain)" style="mix-blend-mode:overlay" opacity="0.6"/>
<g filter="url(#hz)">
</g>
</g>
<g clip-path="url(#c23)">
<rect x="347.80" y="283.00" width="39.70" height="39.00" fill="#303030"/>
<g filter="url(#bl2)">
<rect x="348.59" y="281.00" width="3.97" height="17.94" fill="#101010"/>
<rect x="354.15" y="281.00" width="3.97" height="17.94" fill="#8c8c8c"/>
<rect x="359.71" y="281.00" width="3.18" height="17.94" fill="#202020"/>
<rect x="364.47" y="281.00" width="4.76" height="17.94" fill="#787878"/>
<rect x="371.62" y="281.00" width="3.18" height="17.94" fill="#282828"/>
<rect x="376.38" y="281.00" width="4.76" height="17.94" fill="#909090"/>
<rect x="383.53" y="281.00" width="3.97" height="17.94" fill="#141414"/>
<ellipse cx="367.65" cy="314.20" rx="18.26" ry="16.38" fill="#0a0a0a"/>
<ellipse cx="367.65" cy="300.55" rx="10.32" ry="9.36" fill="#121212"/>
<ellipse cx="349.79" cy="316.15" rx="2.22" ry="2.59" fill="#8c8c8c"/>
<ellipse cx="382.74" cy="312.25" rx="2.86" ry="3.33" fill="#d3d3d3"/>
</g>
<rect x="347.80" y="283.00" width="39.70" height="39.00" filter="url(#grain)" style="mix-blend-mode:overlay" opacity="0.6"/>
<g filter="url(#hz)">
<ellipse cx="366.86" cy="299.38" rx="11.91" ry="11.70" fill="url(#he12_0)"/>
<ellipse cx="380.35" cy="307.18" rx="6.75" ry="6.63" fill="url(#he12_1)"/>
</g>
</g>
<g clip-path="url(#c24)">
<rect x="389.90" y="283.00" width="39.70" height="39.00" fill="#4c4c4c"/>
<g filter="url(#bl2)">
<rect x="390.69" y="281.00" width="3.97" height="17.94" fill="#343434"/>
<rect x="396.25" y="281.00" width="3.97" height="17.94" fill="#787878"/>
<rect x="401.81" y="281.00" width="3.18" height="17.94" fill="#404040"/>
<rect x="406.57" y="281.00" width="4.76" height="17.94" fill="#707070"/>
<rect x="413.72" y="281.00" width="3.18" height="17.94" fill="#3c3c3c"/>
<rect x="418.48" y="281.00" width="4.76" height="17.94" fill="#7a7a7a"/>
<rect x="425.63" y="281.00" width="3.97" height="17.94" fill="#383838"/>
<ellipse cx="409.75" cy="314.20" rx="18.26" ry="16.38" fill="#2c2c2c"/>
<ellipse cx="409.75" cy="300.55" rx="10.32" ry="9.36" fill="#343434"/>
<ellipse cx="394.66" cy="313.42" rx="3.81" ry="4.45" fill="#bebebe"/>
<ellipse cx="422.45" cy="311.08" rx="3.18" ry="3.71" fill="#a8a8a8"/>
<ellipse cx="411.73" cy="302.50" rx="1.91" ry="2.22" fill="#7e7e7e"/>
</g>
<rect x="389.90" y="283.00" width="39.70" height="39.00" filter="url(#grain)" style="mix-blend-mode:overlay" opacity="0.6"/>
<g filter="url(#hz)">
</g>
</g>
<g clip-path="url(#c25)">
<rect x="431.70" y="283.00" width="39.70" height="39.00" fill="#4a4a4a"/>
<g filter="url(#bl2)">
<rect x="432.49" y="281.00" width="3.97" height="17.94" fill="#303030"/>
<rect x="438.05" y="281.00" width="3.97" height="17.94" fill="#888888"/>
<rect x="443.61" y="281.00" width="3.18" height="17.94" fill="#3a3a3a"/>
<rect x="448.37" y="281.00" width="4.76" height="17.94" fill="#808080"/>
<rect x="455.52" y="281.00" width="3.18" height="17.94" fill="#383838"/>
<rect x="460.28" y="281.00" width="4.76" height="17.94" fill="#848484"/>
<rect x="467.43" y="281.00" width="3.97" height="17.94" fill="#2c2c2c"/>
<ellipse cx="451.55" cy="314.20" rx="18.26" ry="16.38" fill="#1c1c1c"/>
<ellipse cx="451.55" cy="300.55" rx="10.32" ry="9.36" fill="#262626"/>
<ellipse cx="434.08" cy="316.15" rx="2.86" ry="3.33" fill="#b7b7b7"/>
<ellipse cx="469.02" cy="316.15" rx="2.54" ry="2.96" fill="#a8a8a8"/>
</g>
<rect x="431.70" y="283.00" width="39.70" height="39.00" filter="url(#grain)" style="mix-blend-mode:overlay" opacity="0.6"/>
<g filter="url(#hz)">
<ellipse cx="451.55" cy="302.50" rx="6.35" ry="4.29" fill="url(#he14_0)"/>
<ellipse cx="447.58" cy="299.38" rx="3.18" ry="2.34" fill="url(#he14_1)"/>
</g>
</g>
<g clip-path="url(#c26)">
<rect x="264.00" y="325.20" width="39.70" height="39.00" fill="#303030"/>
<g filter="url(#bl2)">
<rect x="264.79" y="323.20" width="3.97" height="17.94" fill="#101010"/>
<rect x="270.35" y="323.20" width="3.97" height="17.94" fill="#8c8c8c"/>
<rect x="275.91" y="323.20" width="3.18" height="17.94" fill="#202020"/>
<rect x="280.67" y="323.20" width="4.76" height="17.94" fill="#787878"/>
<rect x="287.82" y="323.20" width="3.18" height="17.94" fill="#282828"/>
<rect x="292.58" y="323.20" width="4.76" height="17.94" fill="#909090"/>
<rect x="299.73" y="323.20" width="3.97" height="17.94" fill="#141414"/>
<ellipse cx="283.85" cy="356.40" rx="18.26" ry="16.38" fill="#0a0a0a"/>
<ellipse cx="283.85" cy="342.75" rx="10.32" ry="9.36" fill="#121212"/>
<ellipse cx="266.38" cy="356.40" rx="2.54" ry="2.96" fill="#b7b7b7"/>
<ellipse cx="291.79" cy="358.35" rx="3.18" ry="3.71" fill="#bebebe"/>
</g>
<rect x="264.00" y="325.20" width="39.70" height="39.00" filter="url(#grain)" style="mix-blend-mode:overlay" opacity="0.6"/>
<g filter="url(#hz)">
<ellipse cx="283.85" cy="340.80" rx="7.15" ry="6.24" fill="url(#he20_0)"/>
</g>
</g>
<g clip-path="url(#c27)">
<rect x="305.80" y="325.20" width="39.70" height="39.00" fill="#4c4c4c"/>
<g filter="url(#bl2)">
<rect x="306.59" y="323.20" width="3.97" height="17.94" fill="#343434"/>
<rect x="312.15" y="323.20" width="3.97" height="17.94" fill="#787878"/>
<rect x="317.71" y="323.20" width="3.18" height="17.94" fill="#404040"/>
<rect x="322.47" y="323.20" width="4.76" height="17.94" fill="#707070"/>
<rect x="329.62" y="323.20" width="3.18" height="17.94" fill="#3c3c3c"/>
<rect x="334.38" y="323.20" width="4.76" height="17.94" fill="#7a7a7a"/>
<rect x="341.53" y="323.20" width="3.97" height="17.94" fill="#383838"/>
<ellipse cx="325.65" cy="356.40" rx="18.26" ry="16.38" fill="#2c2c2c"/>
<ellipse cx="325.65" cy="342.75" rx="10.32" ry="9.36" fill="#343434"/>
<ellipse cx="311.75" cy="357.18" rx="2.22" ry="2.59" fill="#939393"/>
<ellipse cx="340.74" cy="356.40" rx="2.22" ry="2.59" fill="#8c8c8c"/>
<ellipse cx="321.68" cy="338.85" rx="2.54" ry="2.96" fill="#777777"/>
</g>
<rect x="305.80" y="325.20" width="39.70" height="39.00" filter="url(#grain)" style="mix-blend-mode:overlay" opacity="0.6"/>
<g filter="url(#hz)">
</g>
</g>
<g clip-path="url(#c28)">
<rect x="347.80" y="325.20" width="39.70" height="39.00" fill="#303030"/>
<g filter="url(#bl2)">
<rect x="348.59" y="323.20" width="3.97" height="17.94" fill="#101010"/>
<rect x="354.15" y="323.20" width="3.97" height="17.94" fill="#8c8c8c"/>
<rect x="359.71" y="323.20" width="3.18" height="17.94" fill="#202020"/>
<rect x="364.47" y="323.20" width="4.76" height="17.94" fill="#787878"/>
<rect x="371.62" y="323.20" width="3.18" height="17.94" fill="#282828"/>
<rect x="376.38" y="323.20" width="4.76" height="17.94" fill="#909090"/>
<rect x="383.53" y="323.20" width="3.97" height="17.94" fill="#141414"/>
<ellipse cx="367.65" cy="356.40" rx="18.26" ry="16.38" fill="#0a0a0a"/>
<ellipse cx="367.65" cy="342.75" rx="10.32" ry="9.36" fill="#121212"/>
<ellipse cx="349.79" cy="358.35" rx="2.22" ry="2.59" fill="#b7b7b7"/>
<ellipse cx="359.71" cy="342.75" rx="1.91" ry="2.22" fill="#7e7e7e"/>
</g>
<rect x="347.80" y="325.20" width="39.70" height="39.00" filter="url(#grain)" style="mix-blend-mode:overlay" opacity="0.6"/>
<g filter="url(#hz)">
<ellipse cx="371.62" cy="347.04" rx="10.72" ry="9.75" fill="url(#he22_0)"/>
</g>
</g>
<g clip-path="url(#c29)">
<rect x="389.90" y="325.20" width="39.70" height="39.00" fill="#4c4c4c"/>
<g filter="url(#bl2)">
<rect x="390.69" y="323.20" width="3.97" height="17.94" fill="#343434"/>
<rect x="396.25" y="323.20" width="3.97" height="17.94" fill="#787878"/>
<rect x="401.81" y="323.20" width="3.18" height="17.94" fill="#404040"/>
<rect x="406.57" y="323.20" width="4.76" height="17.94" fill="#707070"/>
<rect x="413.72" y="323.20" width="3.18" height="17.94" fill="#3c3c3c"/>
<rect x="418.48" y="323.20" width="4.76" height="17.94" fill="#7a7a7a"/>
<rect x="425.63" y="323.20" width="3.97" height="17.94" fill="#383838"/>
<ellipse cx="409.75" cy="356.40" rx="18.26" ry="16.38" fill="#2c2c2c"/>
<ellipse cx="409.75" cy="342.75" rx="10.32" ry="9.36" fill="#343434"/>
<ellipse cx="395.46" cy="356.40" rx="4.13" ry="4.82" fill="#c5c5c5"/>
<ellipse cx="423.64" cy="353.28" rx="3.18" ry="3.71" fill="#a1a1a1"/>
<ellipse cx="407.76" cy="337.68" rx="2.86" ry="3.33" fill="#9a9a9a"/>
</g>
<rect x="389.90" y="325.20" width="39.70" height="39.00" filter="url(#grain)" style="mix-blend-mode:overlay" opacity="0.6"/>
<g filter="url(#hz)">
</g>
</g>
<g clip-path="url(#c30)">
<rect x="431.70" y="325.20" width="39.70" height="39.00" fill="#4a4a4a"/>
<g filter="url(#bl2)">
<rect x="432.49" y="323.20" width="3.97" height="17.94" fill="#303030"/>
<rect x="438.05" y="323.20" width="3.97" height="17.94" fill="#888888"/>
<rect x="443.61" y="323.20" width="3.18" height="17.94" fill="#3a3a3a"/>
<rect x="448.37" y="323.20" width="4.76" height="17.94" fill="#808080"/>
<rect x="455.52" y="323.20" width="3.18" height="17.94" fill="#383838"/>
<rect x="460.28" y="323.20" width="4.76" height="17.94" fill="#848484"/>
<rect x="467.43" y="323.20" width="3.97" height="17.94" fill="#2c2c2c"/>
<ellipse cx="451.55" cy="356.40" rx="18.26" ry="16.38" fill="#1c1c1c"/>
<ellipse cx="451.55" cy="342.75" rx="10.32" ry="9.36" fill="#262626"/>
<ellipse cx="433.69" cy="360.30" rx="2.54" ry="2.96" fill="#b0b0b0"/>
<ellipse cx="456.31" cy="361.08" rx="3.18" ry="3.71" fill="#9a9a9a"/>
</g>
<rect x="431.70" y="325.20" width="39.70" height="39.00" filter="url(#grain)" style="mix-blend-mode:overlay" opacity="0.6"/>
<g filter="url(#hz)">
<ellipse cx="451.55" cy="343.14" rx="2.78" ry="3.12" fill="url(#he24_0)"/>
</g>
</g>
<text x="2.60" y="415.20" font-weight="bold" font-size="10.00" style="fill:#000;stroke:#000">F</text>
<text text-anchor="middle" transform="translate(10.80 491.50) rotate(-90)">Total luciferase intensity</text>
<line x1="53.70" y1="428.65" x2="53.70" y2="554.75" stroke="#000" stroke-width="1.10"/>
<line x1="49.10" y1="554.20" x2="53.70" y2="554.20" stroke="#000" stroke-width="1.10"/>
<line x1="49.10" y1="522.95" x2="53.70" y2="522.95" stroke="#000" stroke-width="1.10"/>
<text x="45.70" y="527.26" text-anchor="end">1 × 10<tspan dy="-3.13" font-size="5.39">6</tspan></text>
<line x1="49.10" y1="491.70" x2="53.70" y2="491.70" stroke="#000" stroke-width="1.10"/>
<text x="45.70" y="496.01" text-anchor="end">2 × 10<tspan dy="-3.13" font-size="5.39">6</tspan></text>
<line x1="49.10" y1="460.45" x2="53.70" y2="460.45" stroke="#000" stroke-width="1.10"/>
<text x="45.70" y="464.76" text-anchor="end">3 × 10<tspan dy="-3.13" font-size="5.39">6</tspan></text>
<line x1="49.10" y1="429.20" x2="53.70" y2="429.20" stroke="#000" stroke-width="1.10"/>
<text x="45.70" y="433.51" text-anchor="end">4 × 10<tspan dy="-3.13" font-size="5.39">6</tspan></text>
<text x="45.70" y="553.11" text-anchor="end">0</text>
<line x1="53.10" y1="554.20" x2="124.20" y2="554.20" stroke="#000" stroke-width="1.20"/>
<rect x="57.00" y="543.00" width="11.20" height="11.20" fill="#000"/>
<rect x="85.00" y="502.00" width="11.20" height="52.20" fill="#0000ff"/>
<line x1="62.60" y1="536.20" x2="62.60" y2="543.50" stroke="#000" stroke-width="0.90"/>
<line x1="59.80" y1="536.20" x2="65.40" y2="536.20" stroke="#000" stroke-width="0.90"/>
<line x1="90.60" y1="482.00" x2="90.60" y2="502.50" stroke="#000" stroke-width="0.90"/>
<line x1="87.40" y1="482.00" x2="93.80" y2="482.00" stroke="#000" stroke-width="0.90"/>
<circle cx="58.80" cy="533.60" r="1.90" fill="#fff" stroke="#000" stroke-width="1.10"/>
<circle cx="65.80" cy="530.80" r="1.90" fill="#fff" stroke="#000" stroke-width="1.10"/>
<circle cx="58.80" cy="552.40" r="1.90" fill="#fff" stroke="#000" stroke-width="1.10"/>
<circle cx="65.80" cy="552.40" r="1.90" fill="#fff" stroke="#000" stroke-width="1.10"/>
<circle cx="72.00" cy="554.00" r="1.80" fill="#fff" stroke="#000" stroke-width="1.05"/>
<circle cx="75.60" cy="554.00" r="1.80" fill="#fff" stroke="#000" stroke-width="1.05"/>
<circle cx="79.40" cy="554.00" r="1.80" fill="#fff" stroke="#000" stroke-width="1.05"/>
<circle cx="90.60" cy="447.00" r="1.90" fill="#fff" stroke="#000" stroke-width="1.10"/>
<circle cx="90.60" cy="504.60" r="1.90" fill="#fff" stroke="#000" stroke-width="1.10"/>
<circle cx="90.60" cy="517.60" r="1.90" fill="#fff" stroke="#000" stroke-width="1.10"/>
<circle cx="90.60" cy="535.60" r="1.90" fill="#fff" stroke="#000" stroke-width="1.10"/>
<circle cx="100.00" cy="554.00" r="1.80" fill="#fff" stroke="#000" stroke-width="1.05"/>
<circle cx="103.40" cy="554.00" r="1.80" fill="#fff" stroke="#000" stroke-width="1.05"/>
<circle cx="107.00" cy="554.00" r="1.80" fill="#fff" stroke="#000" stroke-width="1.05"/>
<circle cx="113.80" cy="554.00" r="1.80" fill="#fff" stroke="#000" stroke-width="1.05"/>
<circle cx="117.60" cy="553.00" r="1.80" fill="#fff" stroke="#000" stroke-width="1.05"/>
<circle cx="121.00" cy="553.40" r="1.80" fill="#fff" stroke="#000" stroke-width="1.05"/>
<line x1="90.00" y1="427.50" x2="117.00" y2="427.50" stroke="#111" stroke-width="1.20"/>
<text x="103.50" y="425.32" text-anchor="middle" style="font-family:'DejaVu Sans',sans-serif;stroke:#111;stroke-width:0.3px" font-size="5.3" fill="#111">★★</text>
<line x1="76.00" y1="433.00" x2="89.00" y2="433.00" stroke="#111" stroke-width="1.20"/>
<text x="82.50" y="430.82" text-anchor="middle" style="font-family:'DejaVu Sans',sans-serif;stroke:#111;stroke-width:0.3px" font-size="5.3" fill="#111">★★</text>
<line x1="90.40" y1="438.00" x2="103.20" y2="438.00" stroke="#111" stroke-width="1.20"/>
<text x="96.80" y="435.82" text-anchor="middle" style="font-family:'DejaVu Sans',sans-serif;stroke:#111;stroke-width:0.3px" font-size="5.3" fill="#111">★★</text>
<line x1="62.00" y1="442.00" x2="89.00" y2="442.00" stroke="#111" stroke-width="1.20"/>
<text x="75.50" y="439.82" text-anchor="middle" style="font-family:'DejaVu Sans',sans-serif;stroke:#111;stroke-width:0.3px" font-size="5.3" fill="#111">★</text>
<text x="53.60" y="564.51" text-anchor="end">H<tspan dy="1.91" font-size="5.39">2</tspan><tspan dy="-1.91">O</tspan><tspan dy="1.91" font-size="5.39">2</tspan></text>
<text x="53.60" y="573.91" text-anchor="end">NAC</text>
<line x1="60.30" y1="561.40" x2="64.70" y2="561.40" stroke="#111" stroke-width="1.00"/>
<line x1="60.30" y1="570.80" x2="64.70" y2="570.80" stroke="#111" stroke-width="1.00"/>
<line x1="74.20" y1="561.40" x2="78.60" y2="561.40" stroke="#111" stroke-width="1.00"/>
<line x1="74.20" y1="570.80" x2="78.60" y2="570.80" stroke="#111" stroke-width="1.00"/>
<line x1="88.30" y1="561.40" x2="92.70" y2="561.40" stroke="#111" stroke-width="1.00"/>
<line x1="90.50" y1="559.20" x2="90.50" y2="563.60" stroke="#111" stroke-width="1.00"/>
<line x1="88.30" y1="570.80" x2="92.70" y2="570.80" stroke="#111" stroke-width="1.00"/>
<line x1="102.40" y1="561.40" x2="106.80" y2="561.40" stroke="#111" stroke-width="1.00"/>
<line x1="102.40" y1="570.80" x2="106.80" y2="570.80" stroke="#111" stroke-width="1.00"/>
<line x1="104.60" y1="568.60" x2="104.60" y2="573.00" stroke="#111" stroke-width="1.00"/>
<line x1="116.50" y1="561.40" x2="120.90" y2="561.40" stroke="#111" stroke-width="1.00"/>
<line x1="118.70" y1="559.20" x2="118.70" y2="563.60" stroke="#111" stroke-width="1.00"/>
<line x1="116.50" y1="570.80" x2="120.90" y2="570.80" stroke="#111" stroke-width="1.00"/>
<line x1="118.70" y1="568.60" x2="118.70" y2="573.00" stroke="#111" stroke-width="1.00"/>
<line x1="56.20" y1="575.20" x2="68.70" y2="575.20" stroke="#222" stroke-width="1.00"/>
<line x1="72.50" y1="575.20" x2="123.80" y2="575.20" stroke="#222" stroke-width="1.00"/>
<line x1="60.40" y1="581.90" x2="64.60" y2="581.90" stroke="#111" stroke-width="1.00"/>
<text x="99.20" y="584.71" text-anchor="middle">Microglia</text>
<line x1="55.50" y1="588.60" x2="123.80" y2="588.60" stroke="#222" stroke-width="1.00"/>
<text x="86.40" y="598.71" text-anchor="middle">CT2A-Luc</text>
<text x="177.40" y="415.60" font-weight="bold" font-size="10.00" style="fill:#000;stroke:#000">G</text>
<line x1="203.70" y1="423.00" x2="219.20" y2="423.00" stroke="#222" stroke-width="1.10"/>
<line x1="211.45" y1="419.80" x2="211.45" y2="423.00" stroke="#222" stroke-width="1.10"/>
<text x="223.60" y="424.85" font-size="8.80">CT2A-Luc (<tspan font-style="italic">n</tspan> = 6)</text>
<line x1="203.70" y1="432.60" x2="219.20" y2="432.60" stroke="#ff0000" stroke-width="1.10"/>
<line x1="211.45" y1="429.40" x2="211.45" y2="432.60" stroke="#ff0000" stroke-width="1.10"/>
<text x="223.60" y="434.45" font-size="8.80">CT2A-Luc + Mg (<tspan font-style="italic">n</tspan> = 6)</text>
<line x1="203.70" y1="442.40" x2="219.20" y2="442.40" stroke="#0000ff" stroke-width="1.10"/>
<line x1="211.45" y1="439.20" x2="211.45" y2="442.40" stroke="#0000ff" stroke-width="1.10"/>
<text x="223.60" y="444.25" font-size="8.80">CT2A-Luc + (H<tspan dy="1.94" font-size="5.46">2</tspan><tspan dy="-1.94">O</tspan><tspan dy="1.94" font-size="5.46">2</tspan><tspan dy="-1.94">)Mg (</tspan><tspan font-style="italic">n</tspan> = 6)</text>
<line x1="203.70" y1="452.00" x2="219.20" y2="452.00" stroke="#7f1fa3" stroke-width="1.10"/>
<line x1="211.45" y1="448.80" x2="211.45" y2="452.00" stroke="#7f1fa3" stroke-width="1.10"/>
<text x="223.60" y="453.85" font-size="8.80">CT2A-Luc + (NAC)Mg (<tspan font-style="italic">n</tspan> = 6)</text>
<line x1="203.70" y1="461.70" x2="219.20" y2="461.70" stroke="#008000" stroke-width="1.10"/>
<line x1="211.45" y1="458.50" x2="211.45" y2="461.70" stroke="#008000" stroke-width="1.10"/>
<text x="223.60" y="463.55" font-size="8.80">CT2A-Luc + (H<tspan dy="1.94" font-size="5.46">2</tspan><tspan dy="-1.94">O</tspan><tspan dy="1.94" font-size="5.46">2</tspan><tspan dy="-1.94">+NAC)Mg (</tspan><tspan font-style="italic">n</tspan> = 6)</text>
<path d="M219.20 479.20 L257.14 479.20 L257.14 493.95 L261.36 493.95 L261.36 508.60 L267.68 508.60 L267.68 523.35 L274.01 523.35 L274.01 538.10 L280.33 538.10 L280.33 567.50" fill="none" stroke="#0000ff" stroke-width="1.25" stroke-linejoin="miter"/>
<path d="M219.20 479.20 L292.98 479.20 L292.98 493.95 L303.52 493.95 L303.52 523.35 L309.84 523.35 L309.84 538.10 L311.95 538.10 L311.95 552.75 L320.38 552.75 L320.38 567.50" fill="none" stroke="#008000" stroke-width="1.25" stroke-linejoin="miter"/>
<path d="M219.20 479.20 L326.71 479.20 L326.71 493.95 L345.68 493.95" fill="none" stroke="#7f1fa3" stroke-width="1.25" stroke-linejoin="miter"/>
<path d="M219.20 479.20 L320.38 479.20 L320.38 493.95 L339.36 493.95 L339.36 508.60 L345.68 508.60" fill="none" stroke="#ff0000" stroke-width="1.25" stroke-linejoin="miter"/>
<path d="M219.20 479.20 L276.12 479.20 L276.12 508.60 L280.33 508.60 L280.33 523.35 L288.76 523.35 L288.76 538.10 L297.20 538.10 L297.20 567.50" fill="none" stroke="#111" stroke-width="1.25" stroke-linejoin="miter"/>
<circle cx="345.68" cy="493.95" r="0.90" fill="#7f1fa3" stroke="#7f1fa3" stroke-width="0.30"/>
<circle cx="345.68" cy="508.60" r="0.90" fill="#ff0000" stroke="#ff0000" stroke-width="0.30"/>
<line x1="219.20" y1="472.50" x2="219.20" y2="568.10" stroke="#000" stroke-width="1.20"/>
<line x1="218.60" y1="567.50" x2="345.68" y2="567.50" stroke="#000" stroke-width="1.20"/>
<line x1="216.00" y1="479.20" x2="219.20" y2="479.20" stroke="#000" stroke-width="1.10"/>
<text x="213.80" y="482.31" text-anchor="end">100%</text>
<line x1="216.00" y1="523.35" x2="219.20" y2="523.35" stroke="#000" stroke-width="1.10"/>
<text x="213.80" y="526.46" text-anchor="end">50%</text>
<line x1="216.00" y1="567.50" x2="219.20" y2="567.50" stroke="#000" stroke-width="1.10"/>
<text x="213.80" y="570.61" text-anchor="end">0</text>
<line x1="219.20" y1="567.50" x2="219.20" y2="570.70" stroke="#000" stroke-width="1.10"/>
<text x="219.20" y="580.31" text-anchor="middle">0</text>
<line x1="261.36" y1="567.50" x2="261.36" y2="570.70" stroke="#000" stroke-width="1.10"/>
<text x="261.36" y="580.31" text-anchor="middle">20</text>
<line x1="303.52" y1="567.50" x2="303.52" y2="570.70" stroke="#000" stroke-width="1.10"/>
<text x="303.52" y="580.31" text-anchor="middle">40</text>
<line x1="345.68" y1="567.50" x2="345.68" y2="570.70" stroke="#000" stroke-width="1.10"/>
<text x="345.68" y="580.31" text-anchor="middle">60</text>
<text x="281.40" y="592.31" text-anchor="middle">Overall survival (days)</text>
<text text-anchor="middle" transform="translate(186.70 521.00) rotate(-90)">Percent survival</text>
<line x1="275.80" y1="486.80" x2="323.40" y2="486.80" stroke="#7f1fa3" stroke-width="1.20"/>
<path d="M324.00 486.80 L320.20 485.20 L320.20 488.40 Z" fill="#7f1fa3"/>
<text x="328.60" y="490.48" font-size="8.60"><tspan font-style="italic">P</tspan> &lt; 0.001</text>
<line x1="275.80" y1="500.70" x2="337.20" y2="500.70" stroke="#ff0000" stroke-width="1.20"/>
<path d="M337.80 500.70 L334.00 499.10 L334.00 502.30 Z" fill="#ff0000"/>
<text x="342.00" y="503.78" font-size="8.60"><tspan font-style="italic">P</tspan> &lt; 0.001</text>
<line x1="275.80" y1="530.70" x2="288.60" y2="530.70" stroke="#0000ff" stroke-width="1.20"/>
<path d="M275.20 530.70 L279.00 529.10 L279.00 532.30 Z" fill="#0000ff"/>
<text x="235.00" y="533.78" font-size="8.60"><tspan font-style="italic">P</tspan> = 0.030</text>
<line x1="280.00" y1="548.20" x2="309.60" y2="548.20" stroke="#008000" stroke-width="1.20"/>
<path d="M310.20 548.20 L306.40 546.60 L306.40 549.80 Z" fill="#008000"/>
<text x="242.00" y="551.28" font-size="8.60"><tspan font-style="italic">P</tspan> &lt; 0.001</text>
<text x="421.00" y="386.80" font-weight="bold" font-size="10.00" style="fill:#000;stroke:#000">H</text>
<text x="457.60" y="385.51">H<tspan dy="1.91" font-size="5.39">2</tspan><tspan dy="-1.91">O</tspan><tspan dy="1.91" font-size="5.39">2</tspan></text>
<line x1="477.60" y1="388.40" x2="483.00" y2="383.20" stroke="#a8d3d3" stroke-width="1.30" stroke-linecap="round"/>
<ellipse cx="476.60" cy="402.40" rx="12.70" ry="7.40" fill="#c7467f"/>
<ellipse cx="476.60" cy="399.30" rx="12.90" ry="7.50" fill="#f3d3e2" stroke="#cfe6ea" stroke-width="0.60"/>
<ellipse cx="476.60" cy="400.20" rx="12.20" ry="6.50" fill="#e0699d"/>
<ellipse cx="474.00" cy="399.00" rx="1.60" ry="1.00" fill="#8d6f95"/>
<ellipse cx="479.00" cy="398.80" rx="1.60" ry="1.00" fill="#8d6f95"/>
<ellipse cx="476.60" cy="401.40" rx="1.60" ry="1.00" fill="#8d6f95"/>
<text x="495.60" y="404.51">0 h</text>
<line x1="475.60" y1="412.20" x2="475.60" y2="422.00" stroke="#111" stroke-width="1.10"/>
<path d="M473.60 420.80 L477.60 420.80 L475.60 425.00 Z" fill="#111"/>
<text x="429.00" y="414.91">H<tspan dy="1.91" font-size="5.39">2</tspan><tspan dy="-1.91">O</tspan><tspan dy="1.91" font-size="5.39">2</tspan></text>
<line x1="441.80" y1="423.80" x2="448.80" y2="417.20" stroke="#a8d3d3" stroke-width="1.30" stroke-linecap="round"/>
<ellipse cx="442.10" cy="437.40" rx="12.70" ry="7.40" fill="#c7467f"/>
<ellipse cx="442.10" cy="434.30" rx="12.90" ry="7.50" fill="#f3d3e2" stroke="#cfe6ea" stroke-width="0.60"/>
<ellipse cx="442.10" cy="435.20" rx="12.20" ry="6.50" fill="#e0699d"/>
<ellipse cx="439.50" cy="434.00" rx="1.60" ry="1.00" fill="#8d6f95"/>
<ellipse cx="444.50" cy="433.80" rx="1.60" ry="1.00" fill="#8d6f95"/>
<ellipse cx="442.10" cy="436.40" rx="1.60" ry="1.00" fill="#8d6f95"/>
<ellipse cx="476.60" cy="437.40" rx="12.70" ry="7.40" fill="#c7467f"/>
<ellipse cx="476.60" cy="434.30" rx="12.90" ry="7.50" fill="#f3d3e2" stroke="#cfe6ea" stroke-width="0.60"/>
<ellipse cx="476.60" cy="435.20" rx="12.20" ry="6.50" fill="#e0699d"/>
<ellipse cx="473.00" cy="433.60" rx="2.30" ry="1.60" fill="#b4584f"/>
<ellipse cx="480.40" cy="434.00" rx="2.30" ry="1.60" fill="#b4584f"/>
<ellipse cx="476.80" cy="437.60" rx="2.30" ry="1.60" fill="#b4584f"/>
<text x="491.40" y="440.41">12 h</text>
<path d="M441.8 446 L458.7 455.8 L475.6 446 M458.7 455.8 L458.7 460" fill="none" stroke="#111" stroke-width="1.00"/>
<line x1="458.70" y1="459.60" x2="458.70" y2="462.10" stroke="#555" stroke-width="0.80"/>
<rect x="457.40" y="461.80" width="2.60" height="5.20" fill="#f1e6e6" stroke="#666" stroke-width="0.50"/>
<rect x="457.70" y="464.20" width="2.00" height="2.80" fill="#d9483f"/>
<line x1="456.50" y1="461.80" x2="460.90" y2="461.80" stroke="#555" stroke-width="0.70"/>
<line x1="458.70" y1="467.00" x2="458.70" y2="472.40" stroke="#b5443a" stroke-width="0.70"/>
<text x="463.00" y="468.51">Implantation</text>
<path d="M448.00 481.06 C450.69 477.96 455.84 474.86 460.32 474.52 C461.44 472.46 464.13 472.80 464.58 474.86 C468.16 475.38 470.40 478.82 469.95 483.46 C469.28 488.28 465.92 490.34 462.78 489.66 C459.20 486.22 452.03 484.84 448.00 481.06 Z" fill="url(#mg2)"/>
<ellipse cx="459.20" cy="477.44" rx="4.48" ry="1.89" fill="#c58a90" transform="rotate(-18 459.20 477.44)"/>
<ellipse cx="462.78" cy="474.52" rx="1.57" ry="1.55" fill="#a88084"/>
<circle cx="454.72" cy="480.02" r="0.70" fill="#2a2226" stroke="#2a2226" stroke-width="0.10"/>
<text x="474.40" y="483.61">24 h</text>
<line x1="458.70" y1="491.60" x2="458.70" y2="501.60" stroke="#111" stroke-width="1.10"/>
<path d="M456.70 500.40 L460.70 500.40 L458.70 504.60 Z" fill="#111"/>
<ellipse cx="454.78" cy="521.14" rx="4.97" ry="11.88" fill="#dfa59b" stroke="#c98c83" stroke-width="0.40"/>
<ellipse cx="463.62" cy="521.14" rx="4.97" ry="11.88" fill="#dfa59b" stroke="#c98c83" stroke-width="0.40"/>
<ellipse cx="459.20" cy="511.24" rx="2.21" ry="3.30" fill="#dfa59b"/>
<ellipse cx="459.20" cy="533.68" rx="5.52" ry="4.62" fill="#d99c93" stroke="#c98c83" stroke-width="0.40"/>
<ellipse cx="459.20" cy="538.30" rx="2.21" ry="3.96" fill="#d99c93"/>
<ellipse cx="462.33" cy="517.84" rx="1.84" ry="2.31" fill="#e0262a"/>
<text x="473.40" y="516.11">Day 14</text>
<text x="473.40" y="526.61">Tissue</text>
<text x="473.40" y="537.11">dissociation</text>
<line x1="458.70" y1="543.60" x2="458.70" y2="552.40" stroke="#111" stroke-width="1.10"/>
<path d="M456.70 551.20 L460.70 551.20 L458.70 555.40 Z" fill="#111"/>
<text x="459.60" y="567.11" text-anchor="middle">FACS</text>
<line x1="448.20" y1="583.80" x2="438.40" y2="581.20" stroke="#b4cdc0" stroke-width="1.30" stroke-linecap="round"/>
<line x1="438.40" y1="581.20" x2="436.80" y2="579.60" stroke="#b4cdc0" stroke-width="0.91" stroke-linecap="round"/>
<line x1="438.40" y1="581.20" x2="436.60" y2="582.50" stroke="#b4cdc0" stroke-width="0.91" stroke-linecap="round"/>
<line x1="448.20" y1="583.80" x2="439.20" y2="587.40" stroke="#b9d0c5" stroke-width="1.30" stroke-linecap="round"/>
<line x1="439.20" y1="587.40" x2="437.60" y2="585.80" stroke="#b9d0c5" stroke-width="0.91" stroke-linecap="round"/>
<line x1="439.20" y1="587.40" x2="437.40" y2="588.70" stroke="#b9d0c5" stroke-width="0.91" stroke-linecap="round"/>
<line x1="448.20" y1="583.80" x2="451.60" y2="578.20" stroke="#58b285" stroke-width="1.10" stroke-linecap="round"/>
<line x1="451.60" y1="578.20" x2="453.40" y2="576.60" stroke="#58b285" stroke-width="0.77" stroke-linecap="round"/>
<line x1="451.60" y1="578.20" x2="453.20" y2="579.50" stroke="#58b285" stroke-width="0.77" stroke-linecap="round"/>
<line x1="448.20" y1="583.80" x2="456.80" y2="583.20" stroke="#6cbb93" stroke-width="1.10" stroke-linecap="round"/>
<line x1="456.80" y1="583.20" x2="458.60" y2="581.60" stroke="#6cbb93" stroke-width="0.77" stroke-linecap="round"/>
<line x1="456.80" y1="583.20" x2="458.40" y2="584.50" stroke="#6cbb93" stroke-width="0.77" stroke-linecap="round"/>
<line x1="448.20" y1="583.80" x2="453.80" y2="588.40" stroke="#7fc4a2" stroke-width="1.00" stroke-linecap="round"/>
<line x1="453.80" y1="588.40" x2="455.60" y2="586.80" stroke="#7fc4a2" stroke-width="0.70" stroke-linecap="round"/>
<line x1="453.80" y1="588.40" x2="455.40" y2="589.70" stroke="#7fc4a2" stroke-width="0.70" stroke-linecap="round"/>
<line x1="448.20" y1="583.80" x2="445.20" y2="580.20" stroke="#9cc7b0" stroke-width="0.90" stroke-linecap="round"/>
<line x1="445.20" y1="580.20" x2="443.60" y2="578.60" stroke="#9cc7b0" stroke-width="0.63" stroke-linecap="round"/>
<line x1="445.20" y1="580.20" x2="443.40" y2="581.50" stroke="#9cc7b0" stroke-width="0.63" stroke-linecap="round"/>
<line x1="448.20" y1="583.80" x2="449.20" y2="588.20" stroke="#8cc6a6" stroke-width="0.90" stroke-linecap="round"/>
<line x1="449.20" y1="588.20" x2="451.00" y2="586.60" stroke="#8cc6a6" stroke-width="0.63" stroke-linecap="round"/>
<line x1="449.20" y1="588.20" x2="450.80" y2="589.50" stroke="#8cc6a6" stroke-width="0.63" stroke-linecap="round"/>
<ellipse cx="448.20" cy="583.80" rx="2.80" ry="1.50" fill="#1f6b47" transform="rotate(-20 448.20 583.80)"/>
<text x="460.20" y="586.51">Microglia</text>
<ellipse cx="447.60" cy="594.30" rx="9.50" ry="5.30" fill="#7d4c35"/>
<ellipse cx="447.60" cy="594.30" rx="7.98" ry="4.24" fill="#94583c"/>
<ellipse cx="447.60" cy="594.50" rx="5.70" ry="2.92" fill="#a96a46"/>
<ellipse cx="447.60" cy="594.50" rx="2.09" ry="1.32" fill="#94583c"/>
<text x="460.20" y="597.41">GL261-Luc</text>
<text x="460.20" y="608.51">or CT2A-Luc</text>
<text x="21.80" y="629.80" font-weight="bold" font-size="10.00" style="fill:#000;stroke:#000">I</text>
<text x="160.60" y="639.51" text-anchor="middle">CD45<tspan dy="-3.13" font-size="5.39">+</tspan><tspan dy="3.13"> cells</tspan></text>
<line x1="33.70" y1="643.20" x2="288.20" y2="643.20" stroke="#222" stroke-width="1.20"/>
<text x="39.40" y="653.91">Control</text>
<text x="187.60" y="653.71" text-anchor="middle">Microglia</text>
<line x1="85.50" y1="658.00" x2="288.20" y2="658.00" stroke="#222" stroke-width="1.20"/>
<line x1="53.40" y1="664.60" x2="58.00" y2="664.60" stroke="#222" stroke-width="0.90"/>
<g filter="url(#cz)">
<ellipse cx="45.51" cy="704.42" rx="9.50" ry="5.00" fill="url(#cli0a)" transform="rotate(-20 45.51 704.42)"/>
<ellipse cx="66.22" cy="704.82" rx="9.00" ry="3.60" fill="url(#cli0b)" transform="rotate(8 66.22 704.82)"/>
<ellipse cx="45.51" cy="691.22" rx="3.40" ry="8.00" fill="url(#cli0c)"/>
</g>
<rect x="32.20" y="671.20" width="49.30" height="49.60" fill="none" stroke="#3c3c3c" stroke-width="0.85"/>
<line x1="54.39" y1="671.20" x2="54.39" y2="720.80" stroke="#3c3c3c" stroke-width="0.85"/>
<line x1="32.20" y1="700.22" x2="81.50" y2="700.22" stroke="#3c3c3c" stroke-width="0.85"/>
<text x="33.20" y="681.35" font-size="8.80">5.83%</text>
<text x="80.30" y="719.75" text-anchor="end" font-size="8.80">27.3%</text>
<line x1="106.40" y1="664.60" x2="111.00" y2="664.60" stroke="#222" stroke-width="0.90"/>
<g filter="url(#cz)">
<ellipse cx="97.11" cy="704.42" rx="9.50" ry="5.00" fill="url(#cli1a)" transform="rotate(-20 97.11 704.42)"/>
<ellipse cx="117.82" cy="704.82" rx="9.00" ry="3.60" fill="url(#cli1b)" transform="rotate(8 117.82 704.82)"/>
<ellipse cx="97.11" cy="691.22" rx="3.40" ry="8.00" fill="url(#cli1c)"/>
</g>
<rect x="83.80" y="671.20" width="49.30" height="49.60" fill="none" stroke="#3c3c3c" stroke-width="0.85"/>
<line x1="105.98" y1="671.20" x2="105.98" y2="720.80" stroke="#3c3c3c" stroke-width="0.85"/>
<line x1="83.80" y1="700.22" x2="133.10" y2="700.22" stroke="#3c3c3c" stroke-width="0.85"/>
<text x="84.80" y="681.35" font-size="8.80">6.04%</text>
<text x="131.90" y="719.75" text-anchor="end" font-size="8.80">30.6%</text>
<text x="158.75" y="667.51" text-anchor="middle">H<tspan dy="1.91" font-size="5.39">2</tspan><tspan dy="-1.91">O</tspan><tspan dy="1.91" font-size="5.39">2</tspan></text>
<g filter="url(#cz)">
<ellipse cx="148.31" cy="704.42" rx="9.50" ry="5.00" fill="url(#cli2a)" transform="rotate(-20 148.31 704.42)"/>
<ellipse cx="169.02" cy="704.82" rx="9.00" ry="3.60" fill="url(#cli2b)" transform="rotate(8 169.02 704.82)"/>
<ellipse cx="148.31" cy="691.22" rx="3.40" ry="8.00" fill="url(#cli2c)"/>
</g>
<rect x="135.00" y="671.20" width="49.30" height="49.60" fill="none" stroke="#3c3c3c" stroke-width="0.85"/>
<line x1="157.19" y1="671.20" x2="157.19" y2="720.80" stroke="#3c3c3c" stroke-width="0.85"/>
<line x1="135.00" y1="700.22" x2="184.30" y2="700.22" stroke="#3c3c3c" stroke-width="0.85"/>
<text x="136.00" y="681.35" font-size="8.80">7.92%</text>
<text x="183.10" y="719.75" text-anchor="end" font-size="8.80">17.8%</text>
<text x="209.95" y="667.51" text-anchor="middle">NAC</text>
<g filter="url(#cz)">
<ellipse cx="199.51" cy="704.42" rx="9.50" ry="5.00" fill="url(#cli3a)" transform="rotate(-20 199.51 704.42)"/>
<ellipse cx="220.22" cy="704.82" rx="9.00" ry="3.60" fill="url(#cli3b)" transform="rotate(8 220.22 704.82)"/>
<ellipse cx="199.51" cy="691.22" rx="3.40" ry="8.00" fill="url(#cli3c)"/>
</g>
<rect x="186.20" y="671.20" width="49.30" height="49.60" fill="none" stroke="#3c3c3c" stroke-width="0.85"/>
<line x1="208.38" y1="671.20" x2="208.38" y2="720.80" stroke="#3c3c3c" stroke-width="0.85"/>
<line x1="186.20" y1="700.22" x2="235.50" y2="700.22" stroke="#3c3c3c" stroke-width="0.85"/>
<text x="187.20" y="681.35" font-size="8.80">6.67%</text>
<text x="234.30" y="719.75" text-anchor="end" font-size="8.80">32.4%</text>
<text x="260.85" y="667.51" text-anchor="middle">H<tspan dy="1.91" font-size="5.39">2</tspan><tspan dy="-1.91">O</tspan><tspan dy="1.91" font-size="5.39">2</tspan><tspan dy="-1.91"> + NAC</tspan></text>
<g filter="url(#cz)">
<ellipse cx="250.91" cy="704.42" rx="9.50" ry="5.00" fill="url(#cli4a)" transform="rotate(-20 250.91 704.42)"/>
<ellipse cx="271.62" cy="704.82" rx="9.00" ry="3.60" fill="url(#cli4b)" transform="rotate(8 271.62 704.82)"/>
<ellipse cx="250.91" cy="691.22" rx="3.40" ry="8.00" fill="url(#cli4c)"/>
</g>
<rect x="237.60" y="671.20" width="49.30" height="49.60" fill="none" stroke="#3c3c3c" stroke-width="0.85"/>
<line x1="259.78" y1="671.20" x2="259.78" y2="720.80" stroke="#3c3c3c" stroke-width="0.85"/>
<line x1="237.60" y1="700.22" x2="286.90" y2="700.22" stroke="#3c3c3c" stroke-width="0.85"/>
<text x="238.60" y="681.35" font-size="8.80">2.58%</text>
<text x="285.70" y="719.75" text-anchor="end" font-size="8.80">32.2%</text>
<line x1="30.50" y1="668.00" x2="30.50" y2="723.40" stroke="#222" stroke-width="0.90"/>
<path d="M30.5 666.2 L29.3 669.4 L31.7 669.4 Z" fill="#222"/>
<line x1="30.10" y1="723.00" x2="287.40" y2="723.00" stroke="#222" stroke-width="0.90"/>
<circle cx="286.20" cy="723.00" r="0.90" fill="#222" stroke="#222" stroke-width="0.20"/>
<text text-anchor="middle" transform="translate(27.50 693.70) rotate(-90)">CD4</text>
<text x="159.40" y="731.11" text-anchor="middle">CD8</text>
<line x1="14.90" y1="652.50" x2="14.90" y2="851.00" stroke="#222" stroke-width="1.10"/>
<text text-anchor="middle" transform="translate(9.00 751.80) rotate(-90)">GL261-Luc</text>
<text x="21.00" y="754.60" font-weight="bold" font-size="10.00" style="fill:#000;stroke:#000">L</text>
<text x="161.00" y="768.71" text-anchor="middle">CD45<tspan dy="-3.13" font-size="5.39">+</tspan><tspan dy="3.13">CD8</tspan><tspan dy="-3.13" font-size="5.39">+</tspan><tspan dy="3.13"> cells</tspan></text>
<line x1="33.70" y1="773.20" x2="288.20" y2="773.20" stroke="#222" stroke-width="1.20"/>
<text x="43.60" y="782.71">Control</text>
<text x="187.60" y="782.71" text-anchor="middle">Microglia</text>
<line x1="85.50" y1="787.00" x2="288.20" y2="787.00" stroke="#222" stroke-width="1.20"/>
<line x1="56.40" y1="793.80" x2="61.00" y2="793.80" stroke="#222" stroke-width="0.90"/>
<rect x="32.50" y="800.70" width="49.40" height="50.00" fill="none" stroke="#b4b4b4" stroke-width="0.80"/>
<ellipse cx="49.00" cy="833.70" rx="13.00" ry="6.60" fill="none" stroke="#bebebe" stroke-width="0.6" transform="rotate(-30 47.00 834.70)"/>
<ellipse cx="48.10" cy="834.15" rx="11.05" ry="5.61" fill="none" stroke="#b5b5b5" stroke-width="0.6" transform="rotate(-30 47.00 834.70)"/>
<ellipse cx="47.20" cy="834.60" rx="9.10" ry="4.62" fill="none" stroke="#adadad" stroke-width="0.6" transform="rotate(-30 47.00 834.70)"/>
<ellipse cx="46.30" cy="835.05" rx="7.15" ry="3.63" fill="none" stroke="#a4a4a4" stroke-width="0.6" transform="rotate(-30 47.00 834.70)"/>
<ellipse cx="45.40" cy="835.50" rx="5.20" ry="2.64" fill="none" stroke="#9c9c9c" stroke-width="0.6" transform="rotate(-30 47.00 834.70)"/>
<ellipse cx="44.50" cy="835.95" rx="3.25" ry="1.65" fill="none" stroke="#949494" stroke-width="0.6" transform="rotate(-30 47.00 834.70)"/>
<ellipse cx="39.50" cy="838.70" rx="3.80" ry="6.60" fill="none" stroke="#a5a5a5" stroke-width="0.65" transform="rotate(12 39.50 838.70)"/>
<ellipse cx="39.50" cy="838.70" rx="3.04" ry="5.28" fill="none" stroke="#939393" stroke-width="0.65" transform="rotate(12 39.50 838.70)"/>
<ellipse cx="39.50" cy="838.70" rx="2.28" ry="3.96" fill="none" stroke="#828282" stroke-width="0.65" transform="rotate(12 39.50 838.70)"/>
<ellipse cx="39.50" cy="838.70" rx="1.52" ry="2.64" fill="none" stroke="#707070" stroke-width="0.65" transform="rotate(12 39.50 838.70)"/>
<path d="M49.10 812.90 L75.70 812.90 L75.70 850.10 L45.10 850.10 Z" fill="none" stroke="#333" stroke-width="0.75"/>
<text x="80.70" y="810.55" text-anchor="end" font-size="8.80">28.3%</text>
<line x1="106.40" y1="793.80" x2="111.00" y2="793.80" stroke="#222" stroke-width="0.90"/>
<rect x="84.30" y="800.70" width="49.40" height="50.00" fill="none" stroke="#b4b4b4" stroke-width="0.80"/>
<ellipse cx="100.96" cy="833.70" rx="14.04" ry="6.60" fill="none" stroke="#bebebe" stroke-width="0.6" transform="rotate(-30 98.80 834.70)"/>
<ellipse cx="99.99" cy="834.15" rx="11.93" ry="5.61" fill="none" stroke="#b4b4b4" stroke-width="0.6" transform="rotate(-30 98.80 834.70)"/>
<ellipse cx="99.02" cy="834.60" rx="9.83" ry="4.62" fill="none" stroke="#aaaaaa" stroke-width="0.6" transform="rotate(-30 98.80 834.70)"/>
<ellipse cx="98.04" cy="835.05" rx="7.72" ry="3.63" fill="none" stroke="#a1a1a1" stroke-width="0.6" transform="rotate(-30 98.80 834.70)"/>
<ellipse cx="97.07" cy="835.50" rx="5.62" ry="2.64" fill="none" stroke="#979797" stroke-width="0.6" transform="rotate(-30 98.80 834.70)"/>
<ellipse cx="96.10" cy="835.95" rx="3.51" ry="1.65" fill="none" stroke="#8e8e8e" stroke-width="0.6" transform="rotate(-30 98.80 834.70)"/>
<ellipse cx="91.30" cy="838.70" rx="3.80" ry="6.60" fill="none" stroke="#a5a5a5" stroke-width="0.65" transform="rotate(12 91.30 838.70)"/>
<ellipse cx="91.30" cy="838.70" rx="3.04" ry="5.28" fill="none" stroke="#919191" stroke-width="0.65" transform="rotate(12 91.30 838.70)"/>
<ellipse cx="91.30" cy="838.70" rx="2.28" ry="3.96" fill="none" stroke="#7d7d7d" stroke-width="0.65" transform="rotate(12 91.30 838.70)"/>
<ellipse cx="91.30" cy="838.70" rx="1.52" ry="2.64" fill="none" stroke="#696969" stroke-width="0.65" transform="rotate(12 91.30 838.70)"/>
<path d="M100.90 812.90 L127.50 812.90 L127.50 850.10 L96.90 850.10 Z" fill="none" stroke="#333" stroke-width="0.75"/>
<text x="132.50" y="810.55" text-anchor="end" font-size="8.80">35.2%</text>
<text x="159.80" y="796.71" text-anchor="middle">H<tspan dy="1.91" font-size="5.39">2</tspan><tspan dy="-1.91">O</tspan><tspan dy="1.91" font-size="5.39">2</tspan></text>
<rect x="136.00" y="800.70" width="49.40" height="50.00" fill="none" stroke="#b4b4b4" stroke-width="0.80"/>
<ellipse cx="153.90" cy="833.70" rx="22.10" ry="6.60" fill="none" stroke="#bebebe" stroke-width="0.6" transform="rotate(-30 150.50 834.70)"/>
<ellipse cx="152.37" cy="834.15" rx="18.78" ry="5.61" fill="none" stroke="#adadad" stroke-width="0.6" transform="rotate(-30 150.50 834.70)"/>
<ellipse cx="150.84" cy="834.60" rx="15.47" ry="4.62" fill="none" stroke="#9c9c9c" stroke-width="0.6" transform="rotate(-30 150.50 834.70)"/>
<ellipse cx="149.31" cy="835.05" rx="12.16" ry="3.63" fill="none" stroke="#8b8b8b" stroke-width="0.6" transform="rotate(-30 150.50 834.70)"/>
<ellipse cx="147.78" cy="835.50" rx="8.84" ry="2.64" fill="none" stroke="#7a7a7a" stroke-width="0.6" transform="rotate(-30 150.50 834.70)"/>
<ellipse cx="146.25" cy="835.95" rx="5.52" ry="1.65" fill="none" stroke="#6a6a6a" stroke-width="0.6" transform="rotate(-30 150.50 834.70)"/>
<ellipse cx="143.00" cy="838.70" rx="3.80" ry="6.60" fill="none" stroke="#a5a5a5" stroke-width="0.65" transform="rotate(12 143.00 838.70)"/>
<ellipse cx="143.00" cy="838.70" rx="3.04" ry="5.28" fill="none" stroke="#828282" stroke-width="0.65" transform="rotate(12 143.00 838.70)"/>
<ellipse cx="143.00" cy="838.70" rx="2.28" ry="3.96" fill="none" stroke="#5f5f5f" stroke-width="0.65" transform="rotate(12 143.00 838.70)"/>
<ellipse cx="143.00" cy="838.70" rx="1.52" ry="2.64" fill="none" stroke="#3c3c3c" stroke-width="0.65" transform="rotate(12 143.00 838.70)"/>
<path d="M152.60 812.90 L179.20 812.90 L179.20 850.10 L148.60 850.10 Z" fill="none" stroke="#333" stroke-width="0.75"/>
<text x="184.20" y="810.55" text-anchor="end" font-size="8.80">59.9%</text>
<text x="212.70" y="796.71" text-anchor="middle">NAC</text>
<rect x="187.60" y="800.70" width="49.40" height="50.00" fill="none" stroke="#b4b4b4" stroke-width="0.80"/>
<ellipse cx="204.40" cy="833.70" rx="14.95" ry="6.60" fill="none" stroke="#bebebe" stroke-width="0.6" transform="rotate(-30 202.10 834.70)"/>
<ellipse cx="203.37" cy="834.15" rx="12.71" ry="5.61" fill="none" stroke="#b3b3b3" stroke-width="0.6" transform="rotate(-30 202.10 834.70)"/>
<ellipse cx="202.33" cy="834.60" rx="10.46" ry="4.62" fill="none" stroke="#a8a8a8" stroke-width="0.6" transform="rotate(-30 202.10 834.70)"/>
<ellipse cx="201.30" cy="835.05" rx="8.22" ry="3.63" fill="none" stroke="#9d9d9d" stroke-width="0.6" transform="rotate(-30 202.10 834.70)"/>
<ellipse cx="200.26" cy="835.50" rx="5.98" ry="2.64" fill="none" stroke="#929292" stroke-width="0.6" transform="rotate(-30 202.10 834.70)"/>
<ellipse cx="199.22" cy="835.95" rx="3.74" ry="1.65" fill="none" stroke="#888888" stroke-width="0.6" transform="rotate(-30 202.10 834.70)"/>
<ellipse cx="194.60" cy="838.70" rx="3.80" ry="6.60" fill="none" stroke="#a5a5a5" stroke-width="0.65" transform="rotate(12 194.60 838.70)"/>
<ellipse cx="194.60" cy="838.70" rx="3.04" ry="5.28" fill="none" stroke="#8e8e8e" stroke-width="0.65" transform="rotate(12 194.60 838.70)"/>
<ellipse cx="194.60" cy="838.70" rx="2.28" ry="3.96" fill="none" stroke="#787878" stroke-width="0.65" transform="rotate(12 194.60 838.70)"/>
<ellipse cx="194.60" cy="838.70" rx="1.52" ry="2.64" fill="none" stroke="#616161" stroke-width="0.65" transform="rotate(12 194.60 838.70)"/>
<path d="M204.20 812.90 L230.80 812.90 L230.80 850.10 L200.20 850.10 Z" fill="none" stroke="#333" stroke-width="0.75"/>
<text x="235.80" y="810.55" text-anchor="end" font-size="8.80">39.5%</text>
<text x="263.50" y="796.71" text-anchor="middle">H<tspan dy="1.91" font-size="5.39">2</tspan><tspan dy="-1.91">O</tspan><tspan dy="1.91" font-size="5.39">2</tspan><tspan dy="-1.91"> + NAC</tspan></text>
<rect x="239.40" y="800.70" width="49.40" height="50.00" fill="none" stroke="#b4b4b4" stroke-width="0.80"/>
<ellipse cx="256.10" cy="833.70" rx="14.30" ry="6.60" fill="none" stroke="#bebebe" stroke-width="0.6" transform="rotate(-30 253.90 834.70)"/>
<ellipse cx="255.11" cy="834.15" rx="12.15" ry="5.61" fill="none" stroke="#b0b0b0" stroke-width="0.6" transform="rotate(-30 253.90 834.70)"/>
<ellipse cx="254.12" cy="834.60" rx="10.01" ry="4.62" fill="none" stroke="#a3a3a3" stroke-width="0.6" transform="rotate(-30 253.90 834.70)"/>
<ellipse cx="253.13" cy="835.05" rx="7.87" ry="3.63" fill="none" stroke="#969696" stroke-width="0.6" transform="rotate(-30 253.90 834.70)"/>
<ellipse cx="252.14" cy="835.50" rx="5.72" ry="2.64" fill="none" stroke="#898989" stroke-width="0.6" transform="rotate(-30 253.90 834.70)"/>
<ellipse cx="251.15" cy="835.95" rx="3.58" ry="1.65" fill="none" stroke="#7c7c7c" stroke-width="0.6" transform="rotate(-30 253.90 834.70)"/>
<ellipse cx="246.40" cy="838.70" rx="3.80" ry="6.60" fill="none" stroke="#a5a5a5" stroke-width="0.65" transform="rotate(12 246.40 838.70)"/>
<ellipse cx="246.40" cy="838.70" rx="3.04" ry="5.28" fill="none" stroke="#898989" stroke-width="0.65" transform="rotate(12 246.40 838.70)"/>
<ellipse cx="246.40" cy="838.70" rx="2.28" ry="3.96" fill="none" stroke="#6e6e6e" stroke-width="0.65" transform="rotate(12 246.40 838.70)"/>
<ellipse cx="246.40" cy="838.70" rx="1.52" ry="2.64" fill="none" stroke="#525252" stroke-width="0.65" transform="rotate(12 246.40 838.70)"/>
<path d="M256.00 812.90 L282.60 812.90 L282.60 850.10 L252.00 850.10 Z" fill="none" stroke="#333" stroke-width="0.75"/>
<text x="287.60" y="810.55" text-anchor="end" font-size="8.80">46.4%</text>
<line x1="30.50" y1="798.00" x2="30.50" y2="852.40" stroke="#222" stroke-width="0.90"/>
<path d="M30.5 796.2 L29.3 799.4 L31.7 799.4 Z" fill="#222"/>
<line x1="30.10" y1="852.00" x2="287.00" y2="852.00" stroke="#222" stroke-width="0.90"/>
<path d="M289 852 L285.8 850.8 L285.8 853.2 Z" fill="#222"/>
<text text-anchor="middle" transform="translate(27.50 823.70) rotate(-90)">SSA</text>
<text x="160.00" y="862.91" text-anchor="middle">PD-1</text>
<text x="316.80" y="630.20" font-weight="bold" font-size="10.00" style="fill:#000;stroke:#000">J</text>
<rect x="361.30" y="665.80" width="7.50" height="33.40" fill="#000"/>
<rect x="369.90" y="663.20" width="7.50" height="36.00" fill="#ff0000"/>
<rect x="378.60" y="676.80" width="7.50" height="22.40" fill="#0000ff"/>
<rect x="387.30" y="659.80" width="7.50" height="39.40" fill="#7f1fa3"/>
<rect x="395.90" y="659.80" width="7.50" height="39.40" fill="#008000"/>
<line x1="359.70" y1="637.25" x2="359.70" y2="699.75" stroke="#000" stroke-width="1.10"/>
<line x1="355.70" y1="699.20" x2="359.70" y2="699.20" stroke="#000" stroke-width="1.10"/>
<text x="353.50" y="702.31" text-anchor="end">0</text>
<line x1="355.70" y1="686.92" x2="359.70" y2="686.92" stroke="#000" stroke-width="1.10"/>
<text x="353.50" y="690.03" text-anchor="end">10</text>
<line x1="355.70" y1="674.64" x2="359.70" y2="674.64" stroke="#000" stroke-width="1.10"/>
<text x="353.50" y="677.75" text-anchor="end">20</text>
<line x1="355.70" y1="662.36" x2="359.70" y2="662.36" stroke="#000" stroke-width="1.10"/>
<text x="353.50" y="665.47" text-anchor="end">30</text>
<line x1="355.70" y1="650.08" x2="359.70" y2="650.08" stroke="#000" stroke-width="1.10"/>
<text x="353.50" y="653.19" text-anchor="end">40</text>
<line x1="355.70" y1="637.80" x2="359.70" y2="637.80" stroke="#000" stroke-width="1.10"/>
<text x="353.50" y="640.91" text-anchor="end">50</text>
<line x1="359.20" y1="699.20" x2="404.60" y2="699.20" stroke="#000" stroke-width="1.20"/>
<circle cx="362.85" cy="666.10" r="1.60" fill="#fff" stroke="#000" stroke-width="1.00"/>
<circle cx="365.05" cy="664.90" r="1.60" fill="#fff" stroke="#000" stroke-width="1.00"/>
<circle cx="367.25" cy="666.10" r="1.60" fill="#fff" stroke="#000" stroke-width="1.00"/>
<circle cx="371.45" cy="663.50" r="1.60" fill="#fff" stroke="#000" stroke-width="1.00"/>
<circle cx="373.65" cy="662.30" r="1.60" fill="#fff" stroke="#000" stroke-width="1.00"/>
<circle cx="375.85" cy="663.50" r="1.60" fill="#fff" stroke="#000" stroke-width="1.00"/>
<circle cx="380.15" cy="677.10" r="1.60" fill="#fff" stroke="#000" stroke-width="1.00"/>
<circle cx="382.35" cy="675.90" r="1.60" fill="#fff" stroke="#000" stroke-width="1.00"/>
<circle cx="384.55" cy="677.10" r="1.60" fill="#fff" stroke="#000" stroke-width="1.00"/>
<circle cx="388.85" cy="660.10" r="1.60" fill="#fff" stroke="#000" stroke-width="1.00"/>
<circle cx="391.05" cy="658.90" r="1.60" fill="#fff" stroke="#000" stroke-width="1.00"/>
<circle cx="393.25" cy="660.10" r="1.60" fill="#fff" stroke="#000" stroke-width="1.00"/>
<circle cx="397.45" cy="660.10" r="1.60" fill="#fff" stroke="#000" stroke-width="1.00"/>
<circle cx="401.85" cy="660.10" r="1.60" fill="#fff" stroke="#000" stroke-width="1.00"/>
<circle cx="399.65" cy="663.00" r="1.60" fill="#fff" stroke="#000" stroke-width="1.00"/>
<line x1="364.50" y1="644.20" x2="381.40" y2="644.20" stroke="#111" stroke-width="1.20"/>
<text x="372.95" y="642.39" text-anchor="middle" style="font-family:'DejaVu Sans',sans-serif;stroke:#111;stroke-width:0.3px" font-size="4.1" fill="#111">★★★</text>
<line x1="364.50" y1="658.00" x2="373.00" y2="658.00" stroke="#111" stroke-width="1.20"/>
<text x="368.75" y="655.90" text-anchor="middle" font-size="9.00">ns</text>
<line x1="382.00" y1="654.60" x2="399.00" y2="654.60" stroke="#111" stroke-width="1.20"/>
<text x="390.50" y="652.79" text-anchor="middle" style="font-family:'DejaVu Sans',sans-serif;stroke:#111;stroke-width:0.3px" font-size="4.1" fill="#111">★★★</text>
<text text-anchor="middle" transform="translate(335.80 674.50) rotate(-90)">CD8<tspan dy="-3.13" font-size="5.39">+</tspan><tspan dy="3.13"> cells (CD45</tspan><tspan dy="-3.13" font-size="5.39">+</tspan><tspan dy="3.13">%)</tspan></text>
<text x="360.40" y="710.91" text-anchor="end">H<tspan dy="1.91" font-size="5.39">2</tspan><tspan dy="-1.91">O</tspan><tspan dy="1.91" font-size="5.39">2</tspan></text>
<text x="360.40" y="721.81" text-anchor="end">NAC</text>
<line x1="363.00" y1="707.80" x2="367.40" y2="707.80" stroke="#111" stroke-width="1.00"/>
<line x1="363.00" y1="718.70" x2="367.40" y2="718.70" stroke="#111" stroke-width="1.00"/>
<line x1="371.50" y1="707.80" x2="375.90" y2="707.80" stroke="#111" stroke-width="1.00"/>
<line x1="371.50" y1="718.70" x2="375.90" y2="718.70" stroke="#111" stroke-width="1.00"/>
<line x1="380.20" y1="707.80" x2="384.60" y2="707.80" stroke="#111" stroke-width="1.00"/>
<line x1="382.40" y1="705.60" x2="382.40" y2="710.00" stroke="#111" stroke-width="1.00"/>
<line x1="380.20" y1="718.70" x2="384.60" y2="718.70" stroke="#111" stroke-width="1.00"/>
<line x1="388.80" y1="707.80" x2="393.20" y2="707.80" stroke="#111" stroke-width="1.00"/>
<line x1="388.80" y1="718.70" x2="393.20" y2="718.70" stroke="#111" stroke-width="1.00"/>
<line x1="391.00" y1="716.50" x2="391.00" y2="720.90" stroke="#111" stroke-width="1.00"/>
<line x1="397.30" y1="707.80" x2="401.70" y2="707.80" stroke="#111" stroke-width="1.00"/>
<line x1="399.50" y1="705.60" x2="399.50" y2="710.00" stroke="#111" stroke-width="1.00"/>
<line x1="397.30" y1="718.70" x2="401.70" y2="718.70" stroke="#111" stroke-width="1.00"/>
<line x1="399.50" y1="716.50" x2="399.50" y2="720.90" stroke="#111" stroke-width="1.00"/>
<line x1="370.90" y1="723.00" x2="404.20" y2="723.00" stroke="#222" stroke-width="1.00"/>
<line x1="363.10" y1="730.40" x2="367.30" y2="730.40" stroke="#111" stroke-width="1.00"/>
<text x="370.80" y="733.21">Microglia</text>
<text x="431.00" y="629.80" font-weight="bold" font-size="10.00" style="fill:#000;stroke:#000">K</text>
<rect x="469.70" y="667.90" width="7.50" height="31.30" fill="#000"/>
<rect x="478.20" y="664.70" width="7.50" height="34.50" fill="#ff0000"/>
<rect x="487.10" y="651.40" width="7.50" height="47.80" fill="#0000ff"/>
<rect x="495.70" y="659.40" width="7.50" height="39.80" fill="#7f1fa3"/>
<rect x="504.50" y="678.90" width="7.50" height="20.30" fill="#008000"/>
<line x1="467.50" y1="637.25" x2="467.50" y2="699.75" stroke="#000" stroke-width="1.10"/>
<line x1="463.50" y1="699.20" x2="467.50" y2="699.20" stroke="#000" stroke-width="1.10"/>
<text x="461.30" y="702.31" text-anchor="end">0</text>
<line x1="463.50" y1="686.92" x2="467.50" y2="686.92" stroke="#000" stroke-width="1.10"/>
<text x="461.30" y="690.03" text-anchor="end">2</text>
<line x1="463.50" y1="674.64" x2="467.50" y2="674.64" stroke="#000" stroke-width="1.10"/>
<text x="461.30" y="677.75" text-anchor="end">4</text>
<line x1="463.50" y1="662.36" x2="467.50" y2="662.36" stroke="#000" stroke-width="1.10"/>
<text x="461.30" y="665.47" text-anchor="end">6</text>
<line x1="463.50" y1="650.08" x2="467.50" y2="650.08" stroke="#000" stroke-width="1.10"/>
<text x="461.30" y="653.19" text-anchor="end">8</text>
<line x1="463.50" y1="637.80" x2="467.50" y2="637.80" stroke="#000" stroke-width="1.10"/>
<text x="461.30" y="640.91" text-anchor="end">10</text>
<line x1="467.00" y1="699.20" x2="513.20" y2="699.20" stroke="#000" stroke-width="1.20"/>
<line x1="473.45" y1="665.90" x2="473.45" y2="668.40" stroke="#000" stroke-width="0.80"/>
<line x1="471.65" y1="665.90" x2="475.25" y2="665.90" stroke="#000" stroke-width="0.80"/>
<circle cx="471.45" cy="664.30" r="1.60" fill="#fff" stroke="#000" stroke-width="1.00"/>
<circle cx="474.65" cy="666.50" r="1.60" fill="#fff" stroke="#000" stroke-width="1.00"/>
<circle cx="473.45" cy="671.70" r="1.60" fill="#fff" stroke="#000" stroke-width="1.00"/>
<circle cx="479.75" cy="665.00" r="1.60" fill="#fff" stroke="#000" stroke-width="1.00"/>
<circle cx="481.95" cy="663.80" r="1.60" fill="#fff" stroke="#000" stroke-width="1.00"/>
<circle cx="484.15" cy="665.00" r="1.60" fill="#fff" stroke="#000" stroke-width="1.00"/>
<circle cx="488.65" cy="651.60" r="1.60" fill="#fff" stroke="#000" stroke-width="1.00"/>
<circle cx="493.05" cy="651.60" r="1.60" fill="#fff" stroke="#000" stroke-width="1.00"/>
<circle cx="490.85" cy="650.80" r="1.60" fill="#fff" stroke="#000" stroke-width="1.00"/>
<line x1="499.45" y1="657.20" x2="499.45" y2="659.90" stroke="#000" stroke-width="0.80"/>
<line x1="497.65" y1="657.20" x2="501.25" y2="657.20" stroke="#000" stroke-width="0.80"/>
<circle cx="497.45" cy="657.00" r="1.60" fill="#fff" stroke="#000" stroke-width="1.00"/>
<circle cx="501.65" cy="658.20" r="1.60" fill="#fff" stroke="#000" stroke-width="1.00"/>
<circle cx="499.85" cy="662.00" r="1.60" fill="#fff" stroke="#000" stroke-width="1.00"/>
<line x1="508.25" y1="673.30" x2="508.25" y2="679.40" stroke="#000" stroke-width="0.80"/>
<line x1="506.45" y1="673.30" x2="510.05" y2="673.30" stroke="#000" stroke-width="0.80"/>
<circle cx="511.25" cy="668.50" r="1.60" fill="#fff" stroke="#000" stroke-width="1.00"/>
<circle cx="506.25" cy="683.00" r="1.60" fill="#fff" stroke="#000" stroke-width="1.00"/>
<circle cx="510.65" cy="683.20" r="1.60" fill="#fff" stroke="#000" stroke-width="1.00"/>
<line x1="473.50" y1="641.40" x2="490.40" y2="641.40" stroke="#111" stroke-width="1.20"/>
<text x="481.95" y="639.59" text-anchor="middle" style="font-family:'DejaVu Sans',sans-serif;stroke:#111;stroke-width:0.3px" font-size="4.1" fill="#111">★</text>
<line x1="473.50" y1="651.40" x2="482.00" y2="651.40" stroke="#111" stroke-width="1.20"/>
<text x="477.75" y="649.30" text-anchor="middle" font-size="9.00">ns</text>
<line x1="491.40" y1="645.70" x2="508.40" y2="645.70" stroke="#111" stroke-width="1.20"/>
<text x="499.90" y="643.89" text-anchor="middle" style="font-family:'DejaVu Sans',sans-serif;stroke:#111;stroke-width:0.3px" font-size="4.1" fill="#111">★★★</text>
<text text-anchor="middle" transform="translate(442.60 676.40) rotate(-90)">CD4<tspan dy="-3.13" font-size="5.39">+</tspan><tspan dy="3.13"> cells (CD45</tspan><tspan dy="-3.13" font-size="5.39">+</tspan><tspan dy="3.13">%)</tspan></text>
<text x="466.20" y="710.91" text-anchor="end">H<tspan dy="1.91" font-size="5.39">2</tspan><tspan dy="-1.91">O</tspan><tspan dy="1.91" font-size="5.39">2</tspan></text>
<text x="466.20" y="721.81" text-anchor="end">NAC</text>
<line x1="471.00" y1="707.80" x2="475.40" y2="707.80" stroke="#111" stroke-width="1.00"/>
<line x1="471.00" y1="718.70" x2="475.40" y2="718.70" stroke="#111" stroke-width="1.00"/>
<line x1="479.80" y1="707.80" x2="484.20" y2="707.80" stroke="#111" stroke-width="1.00"/>
<line x1="479.80" y1="718.70" x2="484.20" y2="718.70" stroke="#111" stroke-width="1.00"/>
<line x1="488.40" y1="707.80" x2="492.80" y2="707.80" stroke="#111" stroke-width="1.00"/>
<line x1="490.60" y1="705.60" x2="490.60" y2="710.00" stroke="#111" stroke-width="1.00"/>
<line x1="488.40" y1="718.70" x2="492.80" y2="718.70" stroke="#111" stroke-width="1.00"/>
<line x1="497.10" y1="707.80" x2="501.50" y2="707.80" stroke="#111" stroke-width="1.00"/>
<line x1="497.10" y1="718.70" x2="501.50" y2="718.70" stroke="#111" stroke-width="1.00"/>
<line x1="499.30" y1="716.50" x2="499.30" y2="720.90" stroke="#111" stroke-width="1.00"/>
<line x1="505.80" y1="707.80" x2="510.20" y2="707.80" stroke="#111" stroke-width="1.00"/>
<line x1="508.00" y1="705.60" x2="508.00" y2="710.00" stroke="#111" stroke-width="1.00"/>
<line x1="505.80" y1="718.70" x2="510.20" y2="718.70" stroke="#111" stroke-width="1.00"/>
<line x1="508.00" y1="716.50" x2="508.00" y2="720.90" stroke="#111" stroke-width="1.00"/>
<line x1="478.00" y1="723.00" x2="512.60" y2="723.00" stroke="#222" stroke-width="1.00"/>
<line x1="471.10" y1="730.40" x2="475.30" y2="730.40" stroke="#111" stroke-width="1.00"/>
<text x="478.00" y="733.21">Microglia</text>
<text x="316.80" y="754.20" font-weight="bold" font-size="10.00" style="fill:#000;stroke:#000">M</text>
<rect x="361.30" y="804.00" width="7.50" height="27.60" fill="#000"/>
<rect x="369.90" y="804.50" width="7.50" height="27.10" fill="#ff0000"/>
<rect x="378.60" y="785.50" width="7.50" height="46.10" fill="#0000ff"/>
<rect x="387.30" y="802.00" width="7.50" height="29.60" fill="#7f1fa3"/>
<rect x="395.90" y="798.80" width="7.50" height="32.80" fill="#008000"/>
<line x1="359.70" y1="770.45" x2="359.70" y2="832.15" stroke="#000" stroke-width="1.10"/>
<line x1="355.70" y1="831.60" x2="359.70" y2="831.60" stroke="#000" stroke-width="1.10"/>
<text x="353.50" y="834.71" text-anchor="end">0</text>
<line x1="355.70" y1="816.45" x2="359.70" y2="816.45" stroke="#000" stroke-width="1.10"/>
<text x="353.50" y="819.56" text-anchor="end">20</text>
<line x1="355.70" y1="801.30" x2="359.70" y2="801.30" stroke="#000" stroke-width="1.10"/>
<text x="353.50" y="804.41" text-anchor="end">40</text>
<line x1="355.70" y1="786.15" x2="359.70" y2="786.15" stroke="#000" stroke-width="1.10"/>
<text x="353.50" y="789.26" text-anchor="end">60</text>
<line x1="355.70" y1="771.00" x2="359.70" y2="771.00" stroke="#000" stroke-width="1.10"/>
<text x="353.50" y="774.11" text-anchor="end">80</text>
<line x1="359.20" y1="831.60" x2="404.60" y2="831.60" stroke="#000" stroke-width="1.20"/>
<line x1="365.05" y1="801.40" x2="365.05" y2="804.50" stroke="#000" stroke-width="0.80"/>
<line x1="363.25" y1="801.40" x2="366.85" y2="801.40" stroke="#000" stroke-width="0.80"/>
<circle cx="362.85" cy="800.00" r="1.60" fill="#fff" stroke="#000" stroke-width="1.00"/>
<circle cx="367.05" cy="801.40" r="1.60" fill="#fff" stroke="#000" stroke-width="1.00"/>
<circle cx="364.45" cy="808.20" r="1.60" fill="#fff" stroke="#000" stroke-width="1.00"/>
<line x1="373.65" y1="802.70" x2="373.65" y2="805.00" stroke="#000" stroke-width="0.80"/>
<line x1="371.85" y1="802.70" x2="375.45" y2="802.70" stroke="#000" stroke-width="0.80"/>
<circle cx="371.45" cy="804.70" r="1.60" fill="#fff" stroke="#000" stroke-width="1.00"/>
<circle cx="373.65" cy="800.90" r="1.60" fill="#fff" stroke="#000" stroke-width="1.00"/>
<circle cx="375.85" cy="805.10" r="1.60" fill="#fff" stroke="#000" stroke-width="1.00"/>
<circle cx="380.15" cy="785.80" r="1.60" fill="#fff" stroke="#000" stroke-width="1.00"/>
<circle cx="382.35" cy="784.60" r="1.60" fill="#fff" stroke="#000" stroke-width="1.00"/>
<circle cx="384.55" cy="785.80" r="1.60" fill="#fff" stroke="#000" stroke-width="1.00"/>
<line x1="391.05" y1="799.40" x2="391.05" y2="802.50" stroke="#000" stroke-width="0.80"/>
<line x1="389.25" y1="799.40" x2="392.85" y2="799.40" stroke="#000" stroke-width="0.80"/>
<circle cx="389.05" cy="803.40" r="1.60" fill="#fff" stroke="#000" stroke-width="1.00"/>
<circle cx="391.05" cy="797.00" r="1.60" fill="#fff" stroke="#000" stroke-width="1.00"/>
<circle cx="393.25" cy="801.00" r="1.60" fill="#fff" stroke="#000" stroke-width="1.00"/>
<line x1="399.65" y1="797.40" x2="399.65" y2="799.30" stroke="#000" stroke-width="0.80"/>
<line x1="397.85" y1="797.40" x2="401.45" y2="797.40" stroke="#000" stroke-width="0.80"/>
<circle cx="397.45" cy="799.20" r="1.60" fill="#fff" stroke="#000" stroke-width="1.00"/>
<circle cx="399.65" cy="796.40" r="1.60" fill="#fff" stroke="#000" stroke-width="1.00"/>
<circle cx="401.85" cy="799.00" r="1.60" fill="#fff" stroke="#000" stroke-width="1.00"/>
<line x1="364.50" y1="773.40" x2="381.40" y2="773.40" stroke="#111" stroke-width="1.20"/>
<text x="372.95" y="771.59" text-anchor="middle" style="font-family:'DejaVu Sans',sans-serif;stroke:#111;stroke-width:0.3px" font-size="4.1" fill="#111">★★★</text>
<line x1="364.50" y1="784.40" x2="373.00" y2="784.40" stroke="#111" stroke-width="1.20"/>
<text x="368.75" y="782.30" text-anchor="middle" font-size="9.00">ns</text>
<line x1="382.00" y1="778.00" x2="399.40" y2="778.00" stroke="#111" stroke-width="1.20"/>
<text x="390.70" y="776.19" text-anchor="middle" style="font-family:'DejaVu Sans',sans-serif;stroke:#111;stroke-width:0.3px" font-size="4.1" fill="#111">★★</text>
<text text-anchor="middle" transform="translate(338.00 800.00) rotate(-90)">PD-1<tspan dy="-3.13" font-size="5.39">+</tspan><tspan dy="3.13"> cells (CD8</tspan><tspan dy="-3.13" font-size="5.39">+</tspan><tspan dy="3.13">%)</tspan></text>
<text x="360.40" y="844.11" text-anchor="end">H<tspan dy="1.91" font-size="5.39">2</tspan><tspan dy="-1.91">O</tspan><tspan dy="1.91" font-size="5.39">2</tspan></text>
<text x="360.40" y="855.11" text-anchor="end">NAC</text>
<line x1="363.00" y1="841.00" x2="367.40" y2="841.00" stroke="#111" stroke-width="1.00"/>
<line x1="363.00" y1="852.00" x2="367.40" y2="852.00" stroke="#111" stroke-width="1.00"/>
<line x1="371.50" y1="841.00" x2="375.90" y2="841.00" stroke="#111" stroke-width="1.00"/>
<line x1="371.50" y1="852.00" x2="375.90" y2="852.00" stroke="#111" stroke-width="1.00"/>
<line x1="380.20" y1="841.00" x2="384.60" y2="841.00" stroke="#111" stroke-width="1.00"/>
<line x1="382.40" y1="838.80" x2="382.40" y2="843.20" stroke="#111" stroke-width="1.00"/>
<line x1="380.20" y1="852.00" x2="384.60" y2="852.00" stroke="#111" stroke-width="1.00"/>
<line x1="388.80" y1="841.00" x2="393.20" y2="841.00" stroke="#111" stroke-width="1.00"/>
<line x1="388.80" y1="852.00" x2="393.20" y2="852.00" stroke="#111" stroke-width="1.00"/>
<line x1="391.00" y1="849.80" x2="391.00" y2="854.20" stroke="#111" stroke-width="1.00"/>
<line x1="397.30" y1="841.00" x2="401.70" y2="841.00" stroke="#111" stroke-width="1.00"/>
<line x1="399.50" y1="838.80" x2="399.50" y2="843.20" stroke="#111" stroke-width="1.00"/>
<line x1="397.30" y1="852.00" x2="401.70" y2="852.00" stroke="#111" stroke-width="1.00"/>
<line x1="399.50" y1="849.80" x2="399.50" y2="854.20" stroke="#111" stroke-width="1.00"/>
<line x1="370.90" y1="856.40" x2="404.20" y2="856.40" stroke="#222" stroke-width="1.00"/>
<line x1="363.10" y1="863.40" x2="367.30" y2="863.40" stroke="#111" stroke-width="1.00"/>
<text x="370.80" y="866.21">Microglia</text>
<text x="431.00" y="754.20" font-weight="bold" font-size="10.00" style="fill:#000;stroke:#000">N</text>
<rect x="469.70" y="794.00" width="7.50" height="37.60" fill="#000"/>
<rect x="478.20" y="786.00" width="7.50" height="45.60" fill="#ff2d0f"/>
<rect x="487.10" y="823.60" width="7.50" height="8.00" fill="#0f3cff"/>
<rect x="495.70" y="789.00" width="7.50" height="42.60" fill="#8b2fa5"/>
<rect x="504.50" y="806.00" width="7.50" height="25.60" fill="#0a8a12"/>
<line x1="467.50" y1="770.45" x2="467.50" y2="832.15" stroke="#000" stroke-width="1.10"/>
<line x1="463.50" y1="831.60" x2="467.50" y2="831.60" stroke="#000" stroke-width="1.10"/>
<text x="461.30" y="834.71" text-anchor="end">0</text>
<line x1="463.50" y1="816.45" x2="467.50" y2="816.45" stroke="#000" stroke-width="1.10"/>
<text x="461.30" y="819.56" text-anchor="end">10</text>
<line x1="463.50" y1="801.30" x2="467.50" y2="801.30" stroke="#000" stroke-width="1.10"/>
<text x="461.30" y="804.41" text-anchor="end">20</text>
<line x1="463.50" y1="786.15" x2="467.50" y2="786.15" stroke="#000" stroke-width="1.10"/>
<text x="461.30" y="789.26" text-anchor="end">30</text>
<line x1="463.50" y1="771.00" x2="467.50" y2="771.00" stroke="#000" stroke-width="1.10"/>
<text x="461.30" y="774.11" text-anchor="end">40</text>
<line x1="467.00" y1="831.60" x2="513.20" y2="831.60" stroke="#000" stroke-width="1.20"/>
<line x1="473.45" y1="791.00" x2="473.45" y2="794.50" stroke="#000" stroke-width="0.80"/>
<line x1="471.65" y1="791.00" x2="475.25" y2="791.00" stroke="#000" stroke-width="0.80"/>
<circle cx="471.25" cy="793.60" r="1.60" fill="#fff" stroke="#000" stroke-width="1.00"/>
<circle cx="473.45" cy="788.40" r="1.60" fill="#fff" stroke="#000" stroke-width="1.00"/>
<circle cx="475.65" cy="794.20" r="1.60" fill="#fff" stroke="#000" stroke-width="1.00"/>
<line x1="481.95" y1="782.60" x2="481.95" y2="786.50" stroke="#000" stroke-width="0.80"/>
<line x1="480.15" y1="782.60" x2="483.75" y2="782.60" stroke="#000" stroke-width="0.80"/>
<circle cx="481.95" cy="779.40" r="1.60" fill="#fff" stroke="#000" stroke-width="1.00"/>
<circle cx="480.75" cy="784.40" r="1.60" fill="#fff" stroke="#000" stroke-width="1.00"/>
<circle cx="482.95" cy="790.20" r="1.60" fill="#fff" stroke="#000" stroke-width="1.00"/>
<line x1="490.85" y1="821.40" x2="490.85" y2="824.10" stroke="#000" stroke-width="0.80"/>
<line x1="489.05" y1="821.40" x2="492.65" y2="821.40" stroke="#000" stroke-width="0.80"/>
<circle cx="488.45" cy="819.40" r="1.60" fill="#fff" stroke="#000" stroke-width="1.00"/>
<circle cx="493.25" cy="820.80" r="1.60" fill="#fff" stroke="#000" stroke-width="1.00"/>
<circle cx="490.85" cy="825.20" r="1.60" fill="#fff" stroke="#000" stroke-width="1.00"/>
<line x1="499.45" y1="785.40" x2="499.45" y2="789.50" stroke="#000" stroke-width="0.80"/>
<line x1="497.65" y1="785.40" x2="501.25" y2="785.40" stroke="#000" stroke-width="0.80"/>
<circle cx="497.25" cy="783.80" r="1.60" fill="#fff" stroke="#000" stroke-width="1.00"/>
<circle cx="501.65" cy="785.20" r="1.60" fill="#fff" stroke="#000" stroke-width="1.00"/>
<circle cx="499.45" cy="794.80" r="1.60" fill="#fff" stroke="#000" stroke-width="1.00"/>
<line x1="508.25" y1="803.20" x2="508.25" y2="806.50" stroke="#000" stroke-width="0.80"/>
<line x1="506.45" y1="803.20" x2="510.05" y2="803.20" stroke="#000" stroke-width="0.80"/>
<circle cx="508.25" cy="801.20" r="1.60" fill="#fff" stroke="#000" stroke-width="1.00"/>
<circle cx="509.65" cy="805.40" r="1.60" fill="#fff" stroke="#000" stroke-width="1.00"/>
<circle cx="507.25" cy="809.20" r="1.60" fill="#fff" stroke="#000" stroke-width="1.00"/>
<line x1="473.40" y1="765.90" x2="487.80" y2="765.90" stroke="#111" stroke-width="1.20"/>
<text x="480.60" y="764.02" text-anchor="middle" style="font-family:'DejaVu Sans',sans-serif;stroke:#111;stroke-width:0.3px" font-size="5.3" fill="#111">★★★</text>
<line x1="481.60" y1="774.80" x2="490.40" y2="774.80" stroke="#111" stroke-width="1.20"/>
<text x="486.00" y="772.92" text-anchor="middle" style="font-family:'DejaVu Sans',sans-serif;stroke:#111;stroke-width:0.3px" font-size="5.3" fill="#111">★★★</text>
<line x1="493.60" y1="774.80" x2="508.40" y2="774.80" stroke="#111" stroke-width="1.20"/>
<text x="501.00" y="772.92" text-anchor="middle" style="font-family:'DejaVu Sans',sans-serif;stroke:#111;stroke-width:0.3px" font-size="5.3" fill="#111">★★</text>
<text text-anchor="middle" transform="translate(448.00 797.00) rotate(-90)">IFNγ<tspan dy="-3.13" font-size="5.39">+</tspan><tspan dy="3.13"> cells (CD8</tspan><tspan dy="-3.13" font-size="5.39">+</tspan><tspan dy="3.13">%)</tspan></text>
<text x="466.20" y="844.11" text-anchor="end">H<tspan dy="1.91" font-size="5.39">2</tspan><tspan dy="-1.91">O</tspan><tspan dy="1.91" font-size="5.39">2</tspan></text>
<text x="466.20" y="855.11" text-anchor="end">NAC</text>
<line x1="471.00" y1="841.00" x2="475.40" y2="841.00" stroke="#111" stroke-width="1.00"/>
<line x1="471.00" y1="852.00" x2="475.40" y2="852.00" stroke="#111" stroke-width="1.00"/>
<line x1="479.80" y1="841.00" x2="484.20" y2="841.00" stroke="#111" stroke-width="1.00"/>
<line x1="479.80" y1="852.00" x2="484.20" y2="852.00" stroke="#111" stroke-width="1.00"/>
<line x1="488.40" y1="841.00" x2="492.80" y2="841.00" stroke="#111" stroke-width="1.00"/>
<line x1="490.60" y1="838.80" x2="490.60" y2="843.20" stroke="#111" stroke-width="1.00"/>
<line x1="488.40" y1="852.00" x2="492.80" y2="852.00" stroke="#111" stroke-width="1.00"/>
<line x1="497.10" y1="841.00" x2="501.50" y2="841.00" stroke="#111" stroke-width="1.00"/>
<line x1="497.10" y1="852.00" x2="501.50" y2="852.00" stroke="#111" stroke-width="1.00"/>
<line x1="499.30" y1="849.80" x2="499.30" y2="854.20" stroke="#111" stroke-width="1.00"/>
<line x1="505.80" y1="841.00" x2="510.20" y2="841.00" stroke="#111" stroke-width="1.00"/>
<line x1="508.00" y1="838.80" x2="508.00" y2="843.20" stroke="#111" stroke-width="1.00"/>
<line x1="505.80" y1="852.00" x2="510.20" y2="852.00" stroke="#111" stroke-width="1.00"/>
<line x1="508.00" y1="849.80" x2="508.00" y2="854.20" stroke="#111" stroke-width="1.00"/>
<line x1="478.00" y1="856.40" x2="512.60" y2="856.40" stroke="#222" stroke-width="1.00"/>
<line x1="471.10" y1="863.40" x2="475.30" y2="863.40" stroke="#111" stroke-width="1.00"/>
<text x="478.00" y="866.21">Microglia</text>
<text x="3.40" y="889.00" font-weight="bold" font-size="10.00" style="fill:#000;stroke:#000">O</text>
<rect x="44.50" y="935.70" width="7.50" height="29.80" fill="#000"/>
<rect x="53.60" y="914.50" width="7.50" height="51.00" fill="#ff2d0f"/>
<rect x="62.50" y="948.70" width="7.50" height="16.80" fill="#0f3cff"/>
<rect x="71.30" y="920.00" width="7.50" height="45.50" fill="#8b2fa5"/>
<rect x="80.30" y="928.20" width="7.50" height="37.30" fill="#0a8a12"/>
<line x1="42.50" y1="902.05" x2="42.50" y2="966.05" stroke="#000" stroke-width="1.10"/>
<line x1="38.50" y1="965.50" x2="42.50" y2="965.50" stroke="#000" stroke-width="1.10"/>
<text x="36.30" y="968.61" text-anchor="end">0</text>
<line x1="38.50" y1="952.92" x2="42.50" y2="952.92" stroke="#000" stroke-width="1.10"/>
<text x="36.30" y="956.03" text-anchor="end">5</text>
<line x1="38.50" y1="940.34" x2="42.50" y2="940.34" stroke="#000" stroke-width="1.10"/>
<text x="36.30" y="943.45" text-anchor="end">10</text>
<line x1="38.50" y1="927.76" x2="42.50" y2="927.76" stroke="#000" stroke-width="1.10"/>
<text x="36.30" y="930.87" text-anchor="end">15</text>
<line x1="38.50" y1="915.18" x2="42.50" y2="915.18" stroke="#000" stroke-width="1.10"/>
<text x="36.30" y="918.29" text-anchor="end">20</text>
<line x1="38.50" y1="902.60" x2="42.50" y2="902.60" stroke="#000" stroke-width="1.10"/>
<text x="36.30" y="905.71" text-anchor="end">25</text>
<line x1="42.00" y1="965.50" x2="89.00" y2="965.50" stroke="#000" stroke-width="1.20"/>
<line x1="48.25" y1="932.70" x2="48.25" y2="936.20" stroke="#000" stroke-width="0.80"/>
<line x1="46.45" y1="932.70" x2="50.05" y2="932.70" stroke="#000" stroke-width="0.80"/>
<circle cx="48.25" cy="930.70" r="1.60" fill="#fff" stroke="#000" stroke-width="1.00"/>
<circle cx="48.25" cy="935.70" r="1.60" fill="#fff" stroke="#000" stroke-width="1.00"/>
<circle cx="48.45" cy="940.10" r="1.60" fill="#fff" stroke="#000" stroke-width="1.00"/>
<line x1="57.35" y1="912.50" x2="57.35" y2="915.00" stroke="#000" stroke-width="0.80"/>
<line x1="55.55" y1="912.50" x2="59.15" y2="912.50" stroke="#000" stroke-width="0.80"/>
<circle cx="54.55" cy="911.70" r="1.60" fill="#fff" stroke="#000" stroke-width="1.00"/>
<circle cx="59.75" cy="913.50" r="1.60" fill="#fff" stroke="#000" stroke-width="1.00"/>
<circle cx="57.35" cy="916.50" r="1.60" fill="#fff" stroke="#000" stroke-width="1.00"/>
<line x1="66.25" y1="947.10" x2="66.25" y2="949.20" stroke="#000" stroke-width="0.80"/>
<line x1="64.45" y1="947.10" x2="68.05" y2="947.10" stroke="#000" stroke-width="0.80"/>
<circle cx="64.05" cy="946.30" r="1.60" fill="#fff" stroke="#000" stroke-width="1.00"/>
<circle cx="68.65" cy="948.30" r="1.60" fill="#fff" stroke="#000" stroke-width="1.00"/>
<circle cx="66.25" cy="949.30" r="1.60" fill="#fff" stroke="#000" stroke-width="1.00"/>
<line x1="75.05" y1="917.40" x2="75.05" y2="920.50" stroke="#000" stroke-width="0.80"/>
<line x1="73.25" y1="917.40" x2="76.85" y2="917.40" stroke="#000" stroke-width="0.80"/>
<circle cx="75.05" cy="915.60" r="1.60" fill="#fff" stroke="#000" stroke-width="1.00"/>
<circle cx="75.05" cy="919.00" r="1.60" fill="#fff" stroke="#000" stroke-width="1.00"/>
<circle cx="75.45" cy="922.40" r="1.60" fill="#fff" stroke="#000" stroke-width="1.00"/>
<line x1="84.05" y1="925.60" x2="84.05" y2="928.70" stroke="#000" stroke-width="0.80"/>
<line x1="82.25" y1="925.60" x2="85.85" y2="925.60" stroke="#000" stroke-width="0.80"/>
<circle cx="84.05" cy="923.60" r="1.60" fill="#fff" stroke="#000" stroke-width="1.00"/>
<circle cx="84.05" cy="927.60" r="1.60" fill="#fff" stroke="#000" stroke-width="1.00"/>
<circle cx="84.25" cy="931.60" r="1.60" fill="#fff" stroke="#000" stroke-width="1.00"/>
<line x1="47.90" y1="898.10" x2="66.20" y2="898.10" stroke="#111" stroke-width="1.20"/>
<text x="57.05" y="895.49" text-anchor="middle" style="font-family:'DejaVu Sans',sans-serif;stroke:#111;stroke-width:0.3px" font-size="5.2" fill="#111">★</text>
<line x1="47.90" y1="906.90" x2="57.00" y2="906.90" stroke="#111" stroke-width="1.20"/>
<text x="52.45" y="904.28" text-anchor="middle" style="font-family:'DejaVu Sans',sans-serif;stroke:#111;stroke-width:0.3px" font-size="5.2" fill="#111">★★</text>
<line x1="65.40" y1="906.90" x2="84.00" y2="906.90" stroke="#111" stroke-width="1.20"/>
<text x="74.70" y="904.28" text-anchor="middle" style="font-family:'DejaVu Sans',sans-serif;stroke:#111;stroke-width:0.3px" font-size="5.2" fill="#111">★★</text>
<text text-anchor="middle" transform="translate(10.60 932.50) rotate(-90)">CD8<tspan dy="-3.13" font-size="5.39">+</tspan><tspan dy="3.13"> cells</tspan></text>
<text text-anchor="middle" transform="translate(22.20 932.50) rotate(-90)">(CD45<tspan dy="-3.13" font-size="5.39">+</tspan><tspan dy="3.13">%)</tspan></text>
<text x="40.60" y="978.11" text-anchor="end">H<tspan dy="1.91" font-size="5.39">2</tspan><tspan dy="-1.91">O</tspan><tspan dy="1.91" font-size="5.39">2</tspan></text>
<text x="40.60" y="988.11" text-anchor="end">NAC</text>
<line x1="45.40" y1="975.00" x2="49.80" y2="975.00" stroke="#111" stroke-width="1.00"/>
<line x1="45.40" y1="985.00" x2="49.80" y2="985.00" stroke="#111" stroke-width="1.00"/>
<line x1="54.50" y1="975.00" x2="58.90" y2="975.00" stroke="#111" stroke-width="1.00"/>
<line x1="54.50" y1="985.00" x2="58.90" y2="985.00" stroke="#111" stroke-width="1.00"/>
<line x1="63.40" y1="975.00" x2="67.80" y2="975.00" stroke="#111" stroke-width="1.00"/>
<line x1="65.60" y1="972.80" x2="65.60" y2="977.20" stroke="#111" stroke-width="1.00"/>
<line x1="63.40" y1="985.00" x2="67.80" y2="985.00" stroke="#111" stroke-width="1.00"/>
<line x1="72.40" y1="975.00" x2="76.80" y2="975.00" stroke="#111" stroke-width="1.00"/>
<line x1="72.40" y1="985.00" x2="76.80" y2="985.00" stroke="#111" stroke-width="1.00"/>
<line x1="74.60" y1="982.80" x2="74.60" y2="987.20" stroke="#111" stroke-width="1.00"/>
<line x1="81.40" y1="975.00" x2="85.80" y2="975.00" stroke="#111" stroke-width="1.00"/>
<line x1="83.60" y1="972.80" x2="83.60" y2="977.20" stroke="#111" stroke-width="1.00"/>
<line x1="81.40" y1="985.00" x2="85.80" y2="985.00" stroke="#111" stroke-width="1.00"/>
<line x1="83.60" y1="982.80" x2="83.60" y2="987.20" stroke="#111" stroke-width="1.00"/>
<line x1="43.00" y1="990.00" x2="51.20" y2="990.00" stroke="#222" stroke-width="1.00"/>
<line x1="53.70" y1="990.00" x2="90.00" y2="990.00" stroke="#222" stroke-width="1.00"/>
<line x1="45.50" y1="996.90" x2="49.70" y2="996.90" stroke="#111" stroke-width="1.00"/>
<text x="53.60" y="999.71">Microglia</text>
<rect x="165.00" y="928.70" width="7.50" height="36.80" fill="#000"/>
<rect x="173.80" y="939.50" width="7.50" height="26.00" fill="#ff2d0f"/>
<rect x="182.50" y="942.50" width="7.50" height="23.00" fill="#0f3cff"/>
<rect x="191.30" y="950.70" width="7.50" height="14.80" fill="#8b2fa5"/>
<rect x="200.20" y="926.20" width="7.50" height="39.30" fill="#0a8a12"/>
<line x1="163.00" y1="901.95" x2="163.00" y2="966.05" stroke="#000" stroke-width="1.10"/>
<line x1="159.00" y1="965.50" x2="163.00" y2="965.50" stroke="#000" stroke-width="1.10"/>
<text x="156.80" y="968.61" text-anchor="end">0</text>
<line x1="159.00" y1="949.75" x2="163.00" y2="949.75" stroke="#000" stroke-width="1.10"/>
<text x="156.80" y="952.86" text-anchor="end">5</text>
<line x1="159.00" y1="934.00" x2="163.00" y2="934.00" stroke="#000" stroke-width="1.10"/>
<text x="156.80" y="937.11" text-anchor="end">10</text>
<line x1="159.00" y1="918.25" x2="163.00" y2="918.25" stroke="#000" stroke-width="1.10"/>
<text x="156.80" y="921.36" text-anchor="end">15</text>
<line x1="159.00" y1="902.50" x2="163.00" y2="902.50" stroke="#000" stroke-width="1.10"/>
<text x="156.80" y="905.61" text-anchor="end">20</text>
<line x1="162.50" y1="965.50" x2="208.90" y2="965.50" stroke="#000" stroke-width="1.20"/>
<line x1="168.75" y1="923.10" x2="168.75" y2="929.20" stroke="#000" stroke-width="0.80"/>
<line x1="166.95" y1="923.10" x2="170.55" y2="923.10" stroke="#000" stroke-width="0.80"/>
<circle cx="168.75" cy="918.30" r="1.60" fill="#fff" stroke="#000" stroke-width="1.00"/>
<circle cx="169.15" cy="928.30" r="1.60" fill="#fff" stroke="#000" stroke-width="1.00"/>
<circle cx="168.75" cy="937.90" r="1.60" fill="#fff" stroke="#000" stroke-width="1.00"/>
<line x1="177.55" y1="936.10" x2="177.55" y2="940.00" stroke="#000" stroke-width="0.80"/>
<line x1="175.75" y1="936.10" x2="179.35" y2="936.10" stroke="#000" stroke-width="0.80"/>
<circle cx="177.55" cy="934.10" r="1.60" fill="#fff" stroke="#000" stroke-width="1.00"/>
<circle cx="176.95" cy="939.90" r="1.60" fill="#fff" stroke="#000" stroke-width="1.00"/>
<circle cx="177.95" cy="944.50" r="1.60" fill="#fff" stroke="#000" stroke-width="1.00"/>
<line x1="186.25" y1="940.50" x2="186.25" y2="943.00" stroke="#000" stroke-width="0.80"/>
<line x1="184.45" y1="940.50" x2="188.05" y2="940.50" stroke="#000" stroke-width="0.80"/>
<circle cx="186.25" cy="938.30" r="1.60" fill="#fff" stroke="#000" stroke-width="1.00"/>
<circle cx="184.05" cy="943.10" r="1.60" fill="#fff" stroke="#000" stroke-width="1.00"/>
<circle cx="188.45" cy="943.70" r="1.60" fill="#fff" stroke="#000" stroke-width="1.00"/>
<line x1="195.05" y1="947.90" x2="195.05" y2="951.20" stroke="#000" stroke-width="0.80"/>
<line x1="193.25" y1="947.90" x2="196.85" y2="947.90" stroke="#000" stroke-width="0.80"/>
<circle cx="195.05" cy="946.30" r="1.60" fill="#fff" stroke="#000" stroke-width="1.00"/>
<circle cx="194.45" cy="952.30" r="1.60" fill="#fff" stroke="#000" stroke-width="1.00"/>
<circle cx="195.85" cy="954.10" r="1.60" fill="#fff" stroke="#000" stroke-width="1.00"/>
<line x1="203.95" y1="925.40" x2="203.95" y2="926.70" stroke="#000" stroke-width="0.80"/>
<line x1="202.15" y1="925.40" x2="205.75" y2="925.40" stroke="#000" stroke-width="0.80"/>
<circle cx="201.55" cy="925.40" r="1.60" fill="#fff" stroke="#000" stroke-width="1.00"/>
<circle cx="206.35" cy="925.80" r="1.60" fill="#fff" stroke="#000" stroke-width="1.00"/>
<circle cx="204.15" cy="927.80" r="1.60" fill="#fff" stroke="#000" stroke-width="1.00"/>
<line x1="168.00" y1="900.00" x2="186.20" y2="900.00" stroke="#111" stroke-width="1.20"/>
<text x="177.10" y="897.90" text-anchor="middle" font-size="9.00">ns</text>
<line x1="168.00" y1="910.00" x2="177.50" y2="910.00" stroke="#111" stroke-width="1.20"/>
<text x="172.75" y="907.90" text-anchor="middle" font-size="9.00">ns</text>
<line x1="186.20" y1="910.00" x2="204.50" y2="910.00" stroke="#111" stroke-width="1.20"/>
<text x="195.35" y="907.90" text-anchor="middle" font-size="9.00">ns</text>
<text text-anchor="middle" transform="translate(131.00 933.00) rotate(-90)">CD4<tspan dy="-3.13" font-size="5.39">+</tspan><tspan dy="3.13"> cells</tspan></text>
<text text-anchor="middle" transform="translate(142.60 933.00) rotate(-90)">(CD45<tspan dy="-3.13" font-size="5.39">+</tspan><tspan dy="3.13">%)</tspan></text>
<text x="161.00" y="978.11" text-anchor="end">H<tspan dy="1.91" font-size="5.39">2</tspan><tspan dy="-1.91">O</tspan><tspan dy="1.91" font-size="5.39">2</tspan></text>
<text x="161.00" y="988.11" text-anchor="end">NAC</text>
<line x1="165.40" y1="975.00" x2="169.80" y2="975.00" stroke="#111" stroke-width="1.00"/>
<line x1="165.40" y1="985.00" x2="169.80" y2="985.00" stroke="#111" stroke-width="1.00"/>
<line x1="174.20" y1="975.00" x2="178.60" y2="975.00" stroke="#111" stroke-width="1.00"/>
<line x1="174.20" y1="985.00" x2="178.60" y2="985.00" stroke="#111" stroke-width="1.00"/>
<line x1="183.00" y1="975.00" x2="187.40" y2="975.00" stroke="#111" stroke-width="1.00"/>
<line x1="185.20" y1="972.80" x2="185.20" y2="977.20" stroke="#111" stroke-width="1.00"/>
<line x1="183.00" y1="985.00" x2="187.40" y2="985.00" stroke="#111" stroke-width="1.00"/>
<line x1="192.20" y1="975.00" x2="196.60" y2="975.00" stroke="#111" stroke-width="1.00"/>
<line x1="192.20" y1="985.00" x2="196.60" y2="985.00" stroke="#111" stroke-width="1.00"/>
<line x1="194.40" y1="982.80" x2="194.40" y2="987.20" stroke="#111" stroke-width="1.00"/>
<line x1="201.40" y1="975.00" x2="205.80" y2="975.00" stroke="#111" stroke-width="1.00"/>
<line x1="203.60" y1="972.80" x2="203.60" y2="977.20" stroke="#111" stroke-width="1.00"/>
<line x1="201.40" y1="985.00" x2="205.80" y2="985.00" stroke="#111" stroke-width="1.00"/>
<line x1="203.60" y1="982.80" x2="203.60" y2="987.20" stroke="#111" stroke-width="1.00"/>
<line x1="163.00" y1="990.00" x2="171.20" y2="990.00" stroke="#222" stroke-width="1.00"/>
<line x1="173.70" y1="990.00" x2="210.00" y2="990.00" stroke="#222" stroke-width="1.00"/>
<line x1="165.50" y1="996.90" x2="169.70" y2="996.90" stroke="#111" stroke-width="1.00"/>
<text x="175.00" y="999.71">Microglia</text>
<line x1="5.50" y1="1003.30" x2="520.00" y2="1003.30" stroke="#222" stroke-width="1.20"/>
<text x="263.20" y="1012.81" text-anchor="middle">CT2A-Luc</text>
<text x="298.40" y="889.00" font-weight="bold" font-size="10.00" style="fill:#000;stroke:#000">P</text>
<rect x="340.90" y="932.00" width="7.50" height="33.20" fill="#000"/>
<rect x="350.00" y="952.90" width="7.50" height="12.30" fill="#ff2d0f"/>
<rect x="359.20" y="918.30" width="7.50" height="46.90" fill="#0f3cff"/>
<rect x="368.40" y="951.40" width="7.50" height="13.80" fill="#8b2fa5"/>
<rect x="377.80" y="929.80" width="7.50" height="35.40" fill="#0a8a12"/>
<line x1="338.50" y1="902.45" x2="338.50" y2="965.75" stroke="#000" stroke-width="1.10"/>
<line x1="334.50" y1="965.20" x2="338.50" y2="965.20" stroke="#000" stroke-width="1.10"/>
<text x="332.30" y="968.31" text-anchor="end">0</text>
<line x1="334.50" y1="949.65" x2="338.50" y2="949.65" stroke="#000" stroke-width="1.10"/>
<text x="332.30" y="952.76" text-anchor="end">20</text>
<line x1="334.50" y1="934.10" x2="338.50" y2="934.10" stroke="#000" stroke-width="1.10"/>
<text x="332.30" y="937.21" text-anchor="end">40</text>
<line x1="334.50" y1="918.55" x2="338.50" y2="918.55" stroke="#000" stroke-width="1.10"/>
<text x="332.30" y="921.66" text-anchor="end">60</text>
<line x1="334.50" y1="903.00" x2="338.50" y2="903.00" stroke="#000" stroke-width="1.10"/>
<text x="332.30" y="906.11" text-anchor="end">80</text>
<line x1="338.00" y1="965.20" x2="386.50" y2="965.20" stroke="#000" stroke-width="1.20"/>
<line x1="344.65" y1="927.60" x2="344.65" y2="932.50" stroke="#000" stroke-width="0.80"/>
<line x1="342.85" y1="927.60" x2="346.45" y2="927.60" stroke="#000" stroke-width="0.80"/>
<circle cx="344.65" cy="923.80" r="1.60" fill="#fff" stroke="#000" stroke-width="1.00"/>
<circle cx="344.65" cy="930.20" r="1.60" fill="#fff" stroke="#000" stroke-width="1.00"/>
<circle cx="344.65" cy="938.40" r="1.60" fill="#fff" stroke="#000" stroke-width="1.00"/>
<line x1="353.75" y1="950.70" x2="353.75" y2="953.40" stroke="#000" stroke-width="0.80"/>
<line x1="351.95" y1="950.70" x2="355.55" y2="950.70" stroke="#000" stroke-width="0.80"/>
<circle cx="353.75" cy="948.50" r="1.60" fill="#fff" stroke="#000" stroke-width="1.00"/>
<circle cx="351.55" cy="952.50" r="1.60" fill="#fff" stroke="#000" stroke-width="1.00"/>
<circle cx="356.15" cy="953.30" r="1.60" fill="#fff" stroke="#000" stroke-width="1.00"/>
<line x1="362.95" y1="917.50" x2="362.95" y2="918.80" stroke="#000" stroke-width="0.80"/>
<line x1="361.15" y1="917.50" x2="364.75" y2="917.50" stroke="#000" stroke-width="0.80"/>
<circle cx="360.75" cy="917.50" r="1.60" fill="#fff" stroke="#000" stroke-width="1.00"/>
<circle cx="365.15" cy="918.10" r="1.60" fill="#fff" stroke="#000" stroke-width="1.00"/>
<circle cx="362.95" cy="918.90" r="1.60" fill="#fff" stroke="#000" stroke-width="1.00"/>
<line x1="372.15" y1="949.20" x2="372.15" y2="951.90" stroke="#000" stroke-width="0.80"/>
<line x1="370.35" y1="949.20" x2="373.95" y2="949.20" stroke="#000" stroke-width="0.80"/>
<circle cx="372.15" cy="947.20" r="1.60" fill="#fff" stroke="#000" stroke-width="1.00"/>
<circle cx="369.75" cy="951.60" r="1.60" fill="#fff" stroke="#000" stroke-width="1.00"/>
<circle cx="374.55" cy="951.40" r="1.60" fill="#fff" stroke="#000" stroke-width="1.00"/>
<line x1="381.55" y1="928.20" x2="381.55" y2="930.30" stroke="#000" stroke-width="0.80"/>
<line x1="379.75" y1="928.20" x2="383.35" y2="928.20" stroke="#000" stroke-width="0.80"/>
<circle cx="379.15" cy="927.40" r="1.60" fill="#fff" stroke="#000" stroke-width="1.00"/>
<circle cx="381.55" cy="930.20" r="1.60" fill="#fff" stroke="#000" stroke-width="1.00"/>
<circle cx="383.95" cy="929.60" r="1.60" fill="#fff" stroke="#000" stroke-width="1.00"/>
<line x1="345.20" y1="905.30" x2="363.40" y2="905.30" stroke="#111" stroke-width="1.20"/>
<text x="354.30" y="903.72" text-anchor="middle" style="font-family:'DejaVu Sans',sans-serif;stroke:#111;stroke-width:0.3px" font-size="5.3" fill="#111">★</text>
<line x1="345.20" y1="917.70" x2="353.80" y2="917.70" stroke="#111" stroke-width="1.20"/>
<text x="349.50" y="916.12" text-anchor="middle" style="font-family:'DejaVu Sans',sans-serif;stroke:#111;stroke-width:0.3px" font-size="5.3" fill="#111">★★</text>
<line x1="363.40" y1="910.50" x2="381.20" y2="910.50" stroke="#111" stroke-width="1.20"/>
<text x="372.30" y="908.92" text-anchor="middle" style="font-family:'DejaVu Sans',sans-serif;stroke:#111;stroke-width:0.3px" font-size="5.3" fill="#111">★</text>
<text text-anchor="middle" transform="translate(318.80 934.00) rotate(-90)">PD-1<tspan dy="-3.13" font-size="5.39">+</tspan><tspan dy="3.13"> cells (CD8</tspan><tspan dy="-3.13" font-size="5.39">+</tspan><tspan dy="3.13">%)</tspan></text>
<text x="339.60" y="978.11" text-anchor="end">H<tspan dy="1.91" font-size="5.39">2</tspan><tspan dy="-1.91">O</tspan><tspan dy="1.91" font-size="5.39">2</tspan></text>
<text x="339.60" y="988.31" text-anchor="end">NAC</text>
<line x1="342.80" y1="975.00" x2="347.20" y2="975.00" stroke="#111" stroke-width="1.00"/>
<line x1="342.80" y1="985.20" x2="347.20" y2="985.20" stroke="#111" stroke-width="1.00"/>
<line x1="351.70" y1="975.00" x2="356.10" y2="975.00" stroke="#111" stroke-width="1.00"/>
<line x1="351.70" y1="985.20" x2="356.10" y2="985.20" stroke="#111" stroke-width="1.00"/>
<line x1="361.00" y1="975.00" x2="365.40" y2="975.00" stroke="#111" stroke-width="1.00"/>
<line x1="363.20" y1="972.80" x2="363.20" y2="977.20" stroke="#111" stroke-width="1.00"/>
<line x1="361.00" y1="985.20" x2="365.40" y2="985.20" stroke="#111" stroke-width="1.00"/>
<line x1="370.20" y1="975.00" x2="374.60" y2="975.00" stroke="#111" stroke-width="1.00"/>
<line x1="370.20" y1="985.20" x2="374.60" y2="985.20" stroke="#111" stroke-width="1.00"/>
<line x1="372.40" y1="983.00" x2="372.40" y2="987.40" stroke="#111" stroke-width="1.00"/>
<line x1="379.20" y1="975.00" x2="383.60" y2="975.00" stroke="#111" stroke-width="1.00"/>
<line x1="381.40" y1="972.80" x2="381.40" y2="977.20" stroke="#111" stroke-width="1.00"/>
<line x1="379.20" y1="985.20" x2="383.60" y2="985.20" stroke="#111" stroke-width="1.00"/>
<line x1="381.40" y1="983.00" x2="381.40" y2="987.40" stroke="#111" stroke-width="1.00"/>
<line x1="340.00" y1="989.80" x2="348.00" y2="989.80" stroke="#222" stroke-width="1.00"/>
<line x1="351.00" y1="989.80" x2="388.00" y2="989.80" stroke="#222" stroke-width="1.00"/>
<line x1="342.90" y1="996.40" x2="347.10" y2="996.40" stroke="#111" stroke-width="1.00"/>
<text x="353.00" y="999.21">Microglia</text>
<rect x="473.20" y="936.20" width="7.50" height="29.30" fill="#000"/>
<rect x="482.00" y="916.20" width="7.50" height="49.30" fill="#ff2d0f"/>
<rect x="490.80" y="949.50" width="7.50" height="16.00" fill="#0f3cff"/>
<rect x="499.50" y="907.50" width="7.50" height="58.00" fill="#8b2fa5"/>
<rect x="508.40" y="930.50" width="7.50" height="35.00" fill="#0a8a12"/>
<line x1="471.20" y1="901.95" x2="471.20" y2="966.05" stroke="#000" stroke-width="1.10"/>
<line x1="467.20" y1="965.50" x2="471.20" y2="965.50" stroke="#000" stroke-width="1.10"/>
<text x="465.00" y="968.61" text-anchor="end">0</text>
<line x1="467.20" y1="949.75" x2="471.20" y2="949.75" stroke="#000" stroke-width="1.10"/>
<text x="465.00" y="952.86" text-anchor="end">10</text>
<line x1="467.20" y1="934.00" x2="471.20" y2="934.00" stroke="#000" stroke-width="1.10"/>
<text x="465.00" y="937.11" text-anchor="end">20</text>
<line x1="467.20" y1="918.25" x2="471.20" y2="918.25" stroke="#000" stroke-width="1.10"/>
<text x="465.00" y="921.36" text-anchor="end">30</text>
<line x1="467.20" y1="902.50" x2="471.20" y2="902.50" stroke="#000" stroke-width="1.10"/>
<text x="465.00" y="905.61" text-anchor="end">40</text>
<line x1="470.70" y1="965.50" x2="517.10" y2="965.50" stroke="#000" stroke-width="1.20"/>
<line x1="476.95" y1="934.60" x2="476.95" y2="936.70" stroke="#000" stroke-width="0.80"/>
<line x1="475.15" y1="934.60" x2="478.75" y2="934.60" stroke="#000" stroke-width="0.80"/>
<circle cx="474.55" cy="934.00" r="1.60" fill="#fff" stroke="#000" stroke-width="1.00"/>
<circle cx="479.35" cy="935.00" r="1.60" fill="#fff" stroke="#000" stroke-width="1.00"/>
<circle cx="476.95" cy="937.80" r="1.60" fill="#fff" stroke="#000" stroke-width="1.00"/>
<line x1="485.75" y1="914.00" x2="485.75" y2="916.70" stroke="#000" stroke-width="0.80"/>
<line x1="483.95" y1="914.00" x2="487.55" y2="914.00" stroke="#000" stroke-width="0.80"/>
<circle cx="483.35" cy="912.80" r="1.60" fill="#fff" stroke="#000" stroke-width="1.00"/>
<circle cx="488.15" cy="915.00" r="1.60" fill="#fff" stroke="#000" stroke-width="1.00"/>
<circle cx="485.75" cy="917.60" r="1.60" fill="#fff" stroke="#000" stroke-width="1.00"/>
<line x1="494.55" y1="946.90" x2="494.55" y2="950.00" stroke="#000" stroke-width="0.80"/>
<line x1="492.75" y1="946.90" x2="496.35" y2="946.90" stroke="#000" stroke-width="0.80"/>
<circle cx="494.55" cy="944.50" r="1.60" fill="#fff" stroke="#000" stroke-width="1.00"/>
<circle cx="492.15" cy="949.10" r="1.60" fill="#fff" stroke="#000" stroke-width="1.00"/>
<circle cx="496.95" cy="947.90" r="1.60" fill="#fff" stroke="#000" stroke-width="1.00"/>
<line x1="503.25" y1="906.70" x2="503.25" y2="908.00" stroke="#000" stroke-width="0.80"/>
<line x1="501.45" y1="906.70" x2="505.05" y2="906.70" stroke="#000" stroke-width="0.80"/>
<circle cx="500.85" cy="906.90" r="1.60" fill="#fff" stroke="#000" stroke-width="1.00"/>
<circle cx="505.65" cy="907.10" r="1.60" fill="#fff" stroke="#000" stroke-width="1.00"/>
<circle cx="503.25" cy="908.70" r="1.60" fill="#fff" stroke="#000" stroke-width="1.00"/>
<line x1="512.15" y1="928.10" x2="512.15" y2="931.00" stroke="#000" stroke-width="0.80"/>
<line x1="510.35" y1="928.10" x2="513.95" y2="928.10" stroke="#000" stroke-width="0.80"/>
<circle cx="512.15" cy="925.90" r="1.60" fill="#fff" stroke="#000" stroke-width="1.00"/>
<circle cx="509.95" cy="929.90" r="1.60" fill="#fff" stroke="#000" stroke-width="1.00"/>
<circle cx="514.55" cy="929.50" r="1.60" fill="#fff" stroke="#000" stroke-width="1.00"/>
<line x1="476.00" y1="910.30" x2="485.60" y2="910.30" stroke="#111" stroke-width="1.20"/>
<text x="480.80" y="908.72" text-anchor="middle" style="font-family:'DejaVu Sans',sans-serif;stroke:#111;stroke-width:0.3px" font-size="5.3" fill="#111">★★★</text>
<line x1="485.00" y1="902.80" x2="494.00" y2="902.80" stroke="#111" stroke-width="1.20"/>
<text x="489.50" y="901.22" text-anchor="middle" style="font-family:'DejaVu Sans',sans-serif;stroke:#111;stroke-width:0.3px" font-size="5.3" fill="#111">★★★</text>
<line x1="494.40" y1="896.10" x2="512.20" y2="896.10" stroke="#111" stroke-width="1.20"/>
<text x="503.30" y="894.52" text-anchor="middle" style="font-family:'DejaVu Sans',sans-serif;stroke:#111;stroke-width:0.3px" font-size="5.3" fill="#111">★★★</text>
<text text-anchor="middle" transform="translate(445.80 932.50) rotate(-90)">IFNγ<tspan dy="-3.13" font-size="5.39">+</tspan><tspan dy="3.13"> cells (CD8</tspan><tspan dy="-3.13" font-size="5.39">+</tspan><tspan dy="3.13">%)</tspan></text>
<text x="469.60" y="978.11" text-anchor="end">H<tspan dy="1.91" font-size="5.39">2</tspan><tspan dy="-1.91">O</tspan><tspan dy="1.91" font-size="5.39">2</tspan></text>
<text x="469.60" y="988.11" text-anchor="end">NAC</text>
<line x1="474.00" y1="975.00" x2="478.40" y2="975.00" stroke="#111" stroke-width="1.00"/>
<line x1="474.00" y1="985.00" x2="478.40" y2="985.00" stroke="#111" stroke-width="1.00"/>
<line x1="483.40" y1="975.00" x2="487.80" y2="975.00" stroke="#111" stroke-width="1.00"/>
<line x1="483.40" y1="985.00" x2="487.80" y2="985.00" stroke="#111" stroke-width="1.00"/>
<line x1="492.30" y1="975.00" x2="496.70" y2="975.00" stroke="#111" stroke-width="1.00"/>
<line x1="494.50" y1="972.80" x2="494.50" y2="977.20" stroke="#111" stroke-width="1.00"/>
<line x1="492.30" y1="985.00" x2="496.70" y2="985.00" stroke="#111" stroke-width="1.00"/>
<line x1="501.40" y1="975.00" x2="505.80" y2="975.00" stroke="#111" stroke-width="1.00"/>
<line x1="501.40" y1="985.00" x2="505.80" y2="985.00" stroke="#111" stroke-width="1.00"/>
<line x1="503.60" y1="982.80" x2="503.60" y2="987.20" stroke="#111" stroke-width="1.00"/>
<line x1="510.00" y1="975.00" x2="514.40" y2="975.00" stroke="#111" stroke-width="1.00"/>
<line x1="512.20" y1="972.80" x2="512.20" y2="977.20" stroke="#111" stroke-width="1.00"/>
<line x1="510.00" y1="985.00" x2="514.40" y2="985.00" stroke="#111" stroke-width="1.00"/>
<line x1="512.20" y1="982.80" x2="512.20" y2="987.20" stroke="#111" stroke-width="1.00"/>
<line x1="472.00" y1="990.00" x2="480.00" y2="990.00" stroke="#222" stroke-width="1.00"/>
<line x1="482.50" y1="990.00" x2="520.00" y2="990.00" stroke="#222" stroke-width="1.00"/>
<line x1="474.10" y1="996.90" x2="478.30" y2="996.90" stroke="#111" stroke-width="1.00"/>
<text x="483.20" y="999.71">Microglia</text>
</svg>
</body>
</html>
